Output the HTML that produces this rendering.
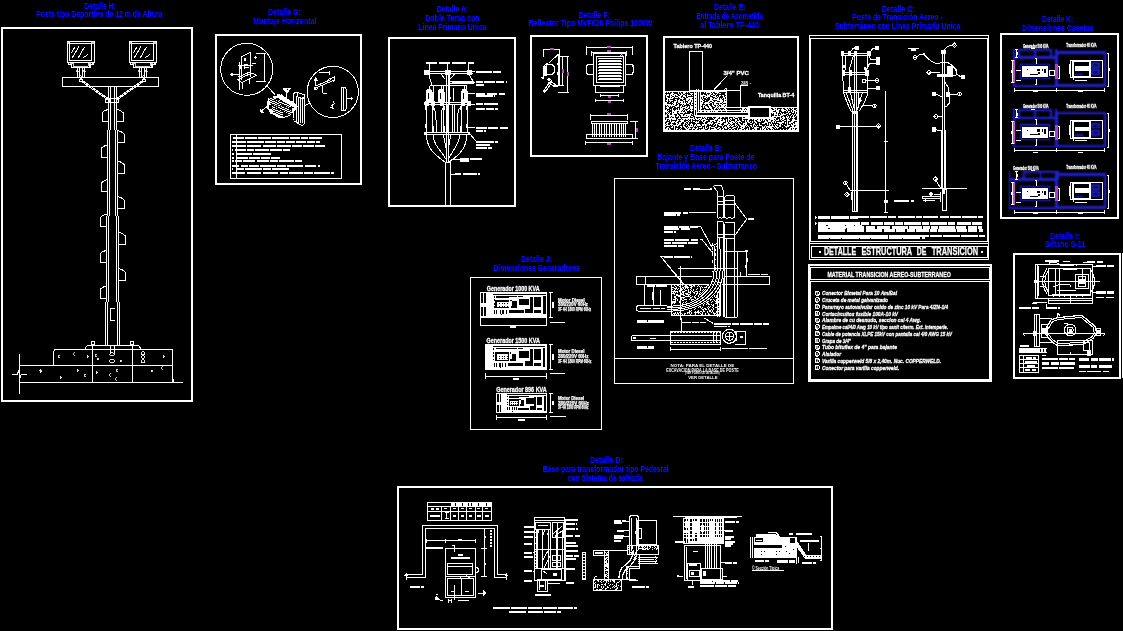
<!DOCTYPE html>
<html><head><meta charset="utf-8"><title>CAD Detalles</title>
<style>html,body{margin:0;padding:0;background:#000;width:1123px;height:631px;overflow:hidden}svg{display:block}text{font-family:"Liberation Sans",sans-serif}svg{will-change:transform}</style>
</head><body>
<svg width="1123" height="631" viewBox="0 0 1123 631" font-family="Liberation Sans, sans-serif" shape-rendering="crispEdges"><defs><filter id="tblur" x="-2%" y="-20%" width="104%" height="140%"><feGaussianBlur stdDeviation="0.35"/></filter></defs>
<rect x="67.5" y="41.5" width="27.0" height="21.0" stroke="#fff" stroke-width="1.3" fill="none" />
<rect x="69.5" y="43.5" width="22.0" height="17.0" stroke="#fff" stroke-width="1.1" fill="none" />
<circle cx="68.80000000000001" cy="43" r="1.0" stroke="#fff" stroke-width="0.8" fill="none"/>
<circle cx="92.60000000000001" cy="43" r="1.0" stroke="#fff" stroke-width="0.8" fill="none"/>
<line x1="70.9" y1="53.5" x2="74.9" y2="47" stroke="#fff" stroke-width="1" />
<line x1="71.9" y1="58.5" x2="78.9" y2="46.5" stroke="#fff" stroke-width="1" />
<line x1="77.9" y1="58.5" x2="84.4" y2="47" stroke="#fff" stroke-width="1" />
<line x1="82.9" y1="58" x2="87.9" y2="54.5" stroke="#fff" stroke-width="1" />
<path d="M68.4,62.5 L68.4,64.5 L71.4,64.5 L71.4,67.8 L90.0,67.8 L90.0,64.5 L93.0,64.5 L93.0,62.5" stroke="#fff" stroke-width="1.1" fill="none" />
<path d="M70.4,63.2 L73.4,63.2 L73.4,66.2 L88.0,66.2 L88.0,63.2 L91.0,63.2" stroke="#fff" stroke-width="0.8" fill="none" />
<line x1="77.5" y1="68" x2="77.5" y2="77" stroke="#fff" stroke-width="1" />
<line x1="79.5" y1="68" x2="79.5" y2="77" stroke="#fff" stroke-width="1" />
<line x1="82.5" y1="68" x2="82.5" y2="77" stroke="#fff" stroke-width="1" />
<line x1="84.5" y1="68" x2="84.5" y2="77" stroke="#fff" stroke-width="1" />
<path d="M75.9,72 L77.2,70 L78.4,72" stroke="#fff" stroke-width="0.8" fill="none" />
<path d="M82.9,72 L84.0,70 L85.4,72" stroke="#fff" stroke-width="0.8" fill="none" />
<rect x="129.5" y="41.5" width="27.0" height="21.0" stroke="#fff" stroke-width="1.3" fill="none" />
<rect x="131.5" y="43.5" width="22.0" height="17.0" stroke="#fff" stroke-width="1.1" fill="none" />
<circle cx="130.8" cy="43" r="1.0" stroke="#fff" stroke-width="0.8" fill="none"/>
<circle cx="154.6" cy="43" r="1.0" stroke="#fff" stroke-width="0.8" fill="none"/>
<line x1="132.9" y1="53.5" x2="136.9" y2="47" stroke="#fff" stroke-width="1" />
<line x1="133.9" y1="58.5" x2="140.9" y2="46.5" stroke="#fff" stroke-width="1" />
<line x1="139.9" y1="58.5" x2="146.4" y2="47" stroke="#fff" stroke-width="1" />
<line x1="144.9" y1="58" x2="149.9" y2="54.5" stroke="#fff" stroke-width="1" />
<path d="M130.4,62.5 L130.4,64.5 L133.4,64.5 L133.4,67.8 L152.0,67.8 L152.0,64.5 L155.0,64.5 L155.0,62.5" stroke="#fff" stroke-width="1.1" fill="none" />
<path d="M132.4,63.2 L135.4,63.2 L135.4,66.2 L150.0,66.2 L150.0,63.2 L153.0,63.2" stroke="#fff" stroke-width="0.8" fill="none" />
<line x1="139.5" y1="68" x2="139.5" y2="77" stroke="#fff" stroke-width="1" />
<line x1="141.5" y1="68" x2="141.5" y2="77" stroke="#fff" stroke-width="1" />
<line x1="144.5" y1="68" x2="144.5" y2="77" stroke="#fff" stroke-width="1" />
<line x1="146.5" y1="68" x2="146.5" y2="77" stroke="#fff" stroke-width="1" />
<path d="M137.9,72 L139.20000000000002,70 L140.4,72" stroke="#fff" stroke-width="0.8" fill="none" />
<path d="M144.9,72 L146.0,70 L147.4,72" stroke="#fff" stroke-width="0.8" fill="none" />
<rect x="62.5" y="77.5" width="96.0" height="9.0" stroke="#fff" stroke-width="1.3" fill="none" />
<line x1="80.6" y1="79.2" x2="107.5" y2="98" stroke="#fff" stroke-width="1" />
<line x1="144.4" y1="79.2" x2="117.5" y2="98" stroke="#fff" stroke-width="1" />
<line x1="80.6" y1="80.8" x2="107.5" y2="99.6" stroke="#fff" stroke-width="1" />
<line x1="144.4" y1="80.8" x2="117.5" y2="99.6" stroke="#fff" stroke-width="1" />
<circle cx="81" cy="80.2" r="1.6" stroke="#fff" stroke-width="1.0" fill="none"/>
<circle cx="144" cy="80.2" r="1.6" stroke="#fff" stroke-width="1.0" fill="none"/>
<circle cx="80.5" cy="76.4" r="1.2" stroke="#fff" stroke-width="0.9" fill="none"/>
<circle cx="143.5" cy="76.4" r="1.2" stroke="#fff" stroke-width="0.9" fill="none"/>
<rect x="105.5" y="98.5" width="13.0" height="4.0" stroke="#fff" stroke-width="1.1" fill="none" />
<line x1="109.5" y1="98" x2="109.5" y2="102.7" stroke="#fff" stroke-width="1" />
<line x1="114.5" y1="98" x2="114.5" y2="102.7" stroke="#fff" stroke-width="1" />
<line x1="108.5" y1="86.6" x2="108.5" y2="130" stroke="#fff" stroke-width="1.0" />
<line x1="110.5" y1="86.6" x2="110.5" y2="130" stroke="#fff" stroke-width="1.0" />
<line x1="114.5" y1="86.6" x2="114.5" y2="130" stroke="#fff" stroke-width="1.0" />
<line x1="116.5" y1="86.6" x2="116.5" y2="130" stroke="#fff" stroke-width="1.0" />
<line x1="107.5" y1="130" x2="107.5" y2="215.5" stroke="#fff" stroke-width="1.0" />
<line x1="109.5" y1="130" x2="109.5" y2="215.5" stroke="#fff" stroke-width="1.0" />
<line x1="115.5" y1="130" x2="115.5" y2="215.5" stroke="#fff" stroke-width="1.0" />
<line x1="117.5" y1="130" x2="117.5" y2="215.5" stroke="#fff" stroke-width="1.0" />
<line x1="106.5" y1="215.5" x2="106.5" y2="301.7" stroke="#fff" stroke-width="1.0" />
<line x1="108.5" y1="215.5" x2="108.5" y2="301.7" stroke="#fff" stroke-width="1.0" />
<line x1="116.5" y1="215.5" x2="116.5" y2="301.7" stroke="#fff" stroke-width="1.0" />
<line x1="118.5" y1="215.5" x2="118.5" y2="301.7" stroke="#fff" stroke-width="1.0" />
<line x1="105.5" y1="301.7" x2="105.5" y2="345.4" stroke="#fff" stroke-width="1.0" />
<line x1="107.5" y1="301.7" x2="107.5" y2="345.4" stroke="#fff" stroke-width="1.0" />
<line x1="117.5" y1="301.7" x2="117.5" y2="345.4" stroke="#fff" stroke-width="1.0" />
<line x1="119.5" y1="301.7" x2="119.5" y2="345.4" stroke="#fff" stroke-width="1.0" />
<path d="M108.5,109.2 L104.5,110.8 L102.0,112.8 L102.0,121.5 L108.5,121.5" stroke="#fff" stroke-width="1.0" fill="none" />
<path d="M107.5,144.8 L103.5,146.4 L101.0,148.4 L101.0,157.10000000000002 L107.5,157.10000000000002" stroke="#fff" stroke-width="1.0" fill="none" />
<path d="M107.5,179.5 L103.5,181.1 L101.0,183.1 L101.0,191.8 L107.5,191.8" stroke="#fff" stroke-width="1.0" fill="none" />
<path d="M106.5,214 L102.5,215.6 L100.0,217.6 L100.0,226.3 L106.5,226.3" stroke="#fff" stroke-width="1.0" fill="none" />
<path d="M106.5,250.2 L102.5,251.79999999999998 L100.0,253.79999999999998 L100.0,262.5 L106.5,262.5" stroke="#fff" stroke-width="1.0" fill="none" />
<path d="M106.5,285.8 L102.5,287.40000000000003 L100.0,289.40000000000003 L100.0,298.1 L106.5,298.1" stroke="#fff" stroke-width="1.0" fill="none" />
<path d="M116.5,109 L120.5,110.6 L123.0,112.6 L123.0,121.3 L116.5,121.3" stroke="#fff" stroke-width="1.0" fill="none" />
<path d="M117.5,130.4 L121.5,132.0 L124.0,134.0 L124.0,142.70000000000002 L117.5,142.70000000000002" stroke="#fff" stroke-width="1.0" fill="none" />
<path d="M117.5,160.8 L121.5,162.4 L124.0,164.4 L124.0,173.10000000000002 L117.5,173.10000000000002" stroke="#fff" stroke-width="1.0" fill="none" />
<path d="M117.5,196.3 L121.5,197.9 L124.0,199.9 L124.0,208.60000000000002 L117.5,208.60000000000002" stroke="#fff" stroke-width="1.0" fill="none" />
<path d="M118.5,232 L122.5,233.6 L125.0,235.6 L125.0,244.3 L118.5,244.3" stroke="#fff" stroke-width="1.0" fill="none" />
<path d="M118.5,268.3 L122.5,269.90000000000003 L125.0,271.90000000000003 L125.0,280.6 L118.5,280.6" stroke="#fff" stroke-width="1.0" fill="none" />
<path d="M114.8,308.5 L110.5,308.5 L110.5,320.5 L114.8,320.5" stroke="#fff" stroke-width="1.0" fill="none" />
<path d="M85.3,349.2 Q85.3,345.4 89,345.4 L136.6,345.4 Q140.3,345.4 140.3,349.2" stroke="#fff" stroke-width="1.0" fill="none" />
<path d="M53.6,365.4 L53.6,352.5 Q53.6,349.2 57,349.2 L172.9,349.2 L172.9,382.3" stroke="#fff" stroke-width="1.0" fill="none" />
<line x1="19.6" y1="365.5" x2="172.9" y2="365.5" stroke="#fff" stroke-width="1.0" />
<line x1="19.6" y1="382.5" x2="182.9" y2="382.5" stroke="#fff" stroke-width="1.0" />
<line x1="92.5" y1="345.8" x2="92.5" y2="382.3" stroke="#fff" stroke-width="1.1" />
<line x1="132.5" y1="345.8" x2="132.5" y2="382.3" stroke="#fff" stroke-width="1.1" />
<circle cx="92.9" cy="342.8" r="1.6" stroke="#fff" stroke-width="1.0" fill="none"/>
<line x1="90.7" y1="344.5" x2="95.10000000000001" y2="344.5" stroke="#fff" stroke-width="1" />
<circle cx="132" cy="342.8" r="1.6" stroke="#fff" stroke-width="1.0" fill="none"/>
<line x1="129.8" y1="344.5" x2="134.2" y2="344.5" stroke="#fff" stroke-width="1" />
<line x1="19.5" y1="354" x2="19.5" y2="393.7" stroke="#fff" stroke-width="1.0" />
<path d="M12,374 L17.5,374 L18.6,371 L20.4,377 L21.5,374 L27,374" stroke="#fff" stroke-width="1.0" fill="none" />
<path d="M58.5,355.2 L60.06,356.5 L58.5,357.8 Z" stroke="#fff" stroke-width="0.8" fill="none" />
<path d="M73.5,352.7 L75.06,354 L73.5,355.3 Z" stroke="#fff" stroke-width="0.8" fill="none" />
<path d="M87,355.2 L88.56,356.5 L87,357.8 Z" stroke="#fff" stroke-width="0.8" fill="none" />
<path d="M95.5,354.2 L97.06,355.5 L95.5,356.8 Z" stroke="#fff" stroke-width="0.8" fill="none" />
<path d="M40,370.2 L41.56,371.5 L40,372.8 Z" stroke="#fff" stroke-width="0.8" fill="none" />
<path d="M77,369.2 L78.56,370.5 L77,371.8 Z" stroke="#fff" stroke-width="0.8" fill="none" />
<path d="M60,376.2 L61.56,377.5 L60,378.8 Z" stroke="#fff" stroke-width="0.8" fill="none" />
<path d="M84.5,374.2 L86.06,375.5 L84.5,376.8 Z" stroke="#fff" stroke-width="0.8" fill="none" />
<path d="M109.5,373.7 L111.06,375 L109.5,376.3 Z" stroke="#fff" stroke-width="0.8" fill="none" />
<path d="M116.5,369.2 L118.06,370.5 L116.5,371.8 Z" stroke="#fff" stroke-width="0.8" fill="none" />
<path d="M115.5,377.7 L117.06,379 L115.5,380.3 Z" stroke="#fff" stroke-width="0.8" fill="none" />
<path d="M96,371.2 L97.56,372.5 L96,373.8 Z" stroke="#fff" stroke-width="0.8" fill="none" />
<path d="M120,359.7 L121.56,361 L120,362.3 Z" stroke="#fff" stroke-width="0.8" fill="none" />
<path d="M151,369.7 L152.56,371 L151,372.3 Z" stroke="#fff" stroke-width="0.8" fill="none" />
<path d="M161.5,366.7 L163.06,368 L161.5,369.3 Z" stroke="#fff" stroke-width="0.8" fill="none" />
<path d="M163,355.2 L164.56,356.5 L163,357.8 Z" stroke="#fff" stroke-width="0.8" fill="none" />
<path d="M97,357.7 L98.56,359 L97,360.3 Z" stroke="#fff" stroke-width="0.8" fill="none" />
<circle cx="40.5" cy="370.8" r="0.9" stroke="#fff" stroke-width="0.8" fill="none"/>
<line x1="110.5" y1="345.4" x2="110.5" y2="352.5" stroke="#fff" stroke-width="1" />
<line x1="114.5" y1="345.4" x2="114.5" y2="352.5" stroke="#fff" stroke-width="1" />
<ellipse cx="112.1" cy="354.3" rx="2.3" ry="1.6" stroke="#fff" stroke-width="0.9" fill="none"/>
<ellipse cx="112.1" cy="361.2" rx="2.6" ry="1.5" stroke="#fff" stroke-width="0.9" fill="none"/>
<circle cx="142.8" cy="353.3" r="1.7" stroke="#fff" stroke-width="0.9" fill="none"/>
<circle cx="142.8" cy="357.2" r="1.7" stroke="#fff" stroke-width="0.9" fill="none"/>
<circle cx="142.8" cy="361.3" r="1.7" stroke="#fff" stroke-width="0.9" fill="none"/>
<line x1="173.0" y1="379" x2="173.0" y2="383" stroke="#fff" stroke-width="1.6" />
<circle cx="246.7" cy="69.3" r="26" stroke="#fff" stroke-width="1.0" fill="none"/>
<circle cx="332.8" cy="91.9" r="25.6" stroke="#fff" stroke-width="1.0" fill="none"/>
<line x1="266.4" y1="85" x2="275" y2="94.8" stroke="#fff" stroke-width="1.0" />
<line x1="304.6" y1="105.7" x2="309.9" y2="102.8" stroke="#fff" stroke-width="1.0" />
<path d="M241.4,80 L241.4,56.8 L250.4,52.3 L250.4,77" stroke="#fff" stroke-width="1.0" fill="none" />
<line x1="239.5" y1="62" x2="239.5" y2="89.5" stroke="#fff" stroke-width="1.0" />
<line x1="237.6" y1="65.5" x2="252.7" y2="65.5" stroke="#fff" stroke-width="1.0" />
<line x1="244.5" y1="63.5" x2="244.5" y2="68.5" stroke="#fff" stroke-width="1.0" />
<path d="M244,64.5 L248,64.5 M244,67.3 L249,67.3" stroke="#fff" stroke-width="1.0" fill="none" />
<line x1="231.6" y1="74.5" x2="240" y2="74.5" stroke="#fff" stroke-width="1.0" />
<circle cx="231.8" cy="74.5" r="0.9" stroke="#fff" stroke-width="1.0" fill="#fff"/>
<path d="M237.6,79.5 L252,73 L256.4,75.5 L242,82.5 Z" stroke="#fff" stroke-width="1.0" fill="none" />
<path d="M238.6,77 L251,71.5" stroke="#fff" stroke-width="1.0" fill="none" />
<line x1="242.5" y1="82.5" x2="242.5" y2="89" stroke="#fff" stroke-width="1.0" />
<line x1="249.5" y1="79" x2="249.5" y2="83.5" stroke="#fff" stroke-width="1.0" />
<rect x="238.5" y="64.5" width="2.5" height="4.0" fill="#fff" />
<rect x="243.5" y="57.5" width="2.5" height="3.0" fill="#fff" />
<line x1="264.5" y1="53.8" x2="264.5" y2="81.7" stroke="#fff" stroke-width="1.0" />
<line x1="256.4" y1="53.5" x2="265.5" y2="53.5" stroke="#fff" stroke-width="1.0" />
<line x1="256.4" y1="81.5" x2="265.5" y2="81.5" stroke="#fff" stroke-width="1.0" />
<path d="M253.5,57.5 L257,57.5 M255,56 L255,59" stroke="#fff" stroke-width="1.0" fill="none" />
<line x1="252" y1="63.5" x2="256" y2="63.5" stroke="#fff" stroke-width="1.0" />
<path d="M314.4,88.5 L334,80.2 L334,77.2 L328,79.5" stroke="#fff" stroke-width="1.0" fill="none" />
<path d="M316,86 L331,79.5" stroke="#fff" stroke-width="1.0" fill="none" />
<path d="M314.4,86.5 L314.4,90 L318,88.5" stroke="#fff" stroke-width="1.0" fill="none" />
<line x1="315.5" y1="78" x2="315.5" y2="86.2" stroke="#fff" stroke-width="1.0" />
<path d="M314.4,80 L315.6,77.5 L316.8,80 Z" stroke="#fff" stroke-width="1.0" fill="none" />
<line x1="318.9" y1="72.5" x2="329.5" y2="72.5" stroke="#fff" stroke-width="1.0" />
<line x1="329.5" y1="70.5" x2="329.5" y2="75" stroke="#fff" stroke-width="1.0" />
<line x1="322.5" y1="86.2" x2="322.5" y2="93" stroke="#fff" stroke-width="1.0" />
<line x1="322.7" y1="93.5" x2="327.2" y2="93.5" stroke="#fff" stroke-width="1.0" />
<path d="M332.5,80.5 L334.5,82.5 M331,79 L333,77" stroke="#fff" stroke-width="1.0" fill="none" />
<path d="M341.5,89 Q341.5,87 343.75,87 Q346,87 346,89 L346,109 Q346,111 343.75,111 Q341.5,111 341.5,109 Z" stroke="#fff" stroke-width="1.0" fill="none" />
<line x1="343.5" y1="88" x2="343.5" y2="110" stroke="#fff" stroke-width="1.0" />
<line x1="346" y1="98.5" x2="352.8" y2="98.5" stroke="#fff" stroke-width="1.0" />
<path d="M351,97.3 L352.8,98.3 L351,99.3" stroke="#fff" stroke-width="1.0" fill="none" />
<path d="M333,101.5 L334.5,103.5 L332,105.5 L333,108 M330.5,107.5 L333.5,108.8" stroke="#fff" stroke-width="1.0" fill="none" />
<path d="M293.5,120.7 L293.5,94 Q295,91.8 297,92.1 L304.6,95 L304.6,123.5 L302.1,125.7 L293.5,120.7" stroke="#fff" stroke-width="1.0" fill="none" />
<line x1="296.5" y1="97" x2="296.5" y2="122.5" stroke="#fff" stroke-width="1.0" />
<line x1="298.5" y1="97" x2="298.5" y2="122.5" stroke="#fff" stroke-width="1.0" />
<line x1="300.5" y1="97" x2="300.5" y2="122.5" stroke="#fff" stroke-width="1.0" />
<line x1="302.5" y1="97" x2="302.5" y2="122.5" stroke="#fff" stroke-width="1.0" />
<line x1="297.5" y1="92.3" x2="297.5" y2="96" stroke="#fff" stroke-width="1.0" />
<path d="M296,96 L302.5,99 L304.6,97" stroke="#fff" stroke-width="1.0" fill="none" />
<path d="M273.2,97.1 L281.4,95 L297.8,106.4 L289.2,116.4 L272.1,112.1 Z" stroke="#fff" stroke-width="1.0" fill="none" />
<line x1="281.4" y1="97.5" x2="296.5" y2="108" stroke="#fff" stroke-width="1.0" />
<line x1="274" y1="101.5" x2="290" y2="112" stroke="#fff" stroke-width="1.0" />
<line x1="276" y1="105" x2="286" y2="111.5" stroke="#fff" stroke-width="1.0" />
<line x1="272" y1="107.5" x2="283" y2="114.5" stroke="#fff" stroke-width="1.0" />
<rect x="266.5" y="102" width="3.5" height="4.5" fill="#fff" />
<rect x="268" y="97.5" width="4" height="4.0" fill="#fff" />
<rect x="270" y="111" width="3" height="3" fill="#fff" />
<rect x="281" y="114.5" width="3.5" height="3.5" fill="#fff" />
<rect x="277" y="93.5" width="3" height="3.0" fill="#fff" />
<rect x="286" y="112.5" width="3" height="3.0" fill="#fff" />
<rect x="289" y="106" width="3" height="3" fill="#fff" />
<rect x="283" y="104" width="4" height="4.5" fill="#fff" />
<path d="M279,102 L283,99.5 M280,104 L285,101.5 M282,106 L287,103.5" stroke="#fff" stroke-width="1.0" fill="none" />
<path d="M283.5,89 L290,88.6 L287.5,92.8 Z" stroke="#fff" stroke-width="1.0" fill="#fff" />
<circle cx="287.5" cy="89.3" r="0.9" stroke="#fff" stroke-width="0.8" fill="#000"/>
<line x1="286.5" y1="92.8" x2="286.5" y2="98" stroke="#fff" stroke-width="1.0" />
<line x1="261.4" y1="110.7" x2="267.5" y2="106.4" stroke="#fff" stroke-width="1.0" />
<path d="M260.5,109.5 L262.5,112 L261,112 Z" stroke="#fff" stroke-width="1.0" fill="#fff" />
<rect x="230.5" y="134.5" width="111.0" height="44.0" stroke="#fff" stroke-width="1.0" fill="none" />
<line x1="236.5" y1="134.3" x2="236.5" y2="178.6" stroke="#fff" stroke-width="1.0" />
<rect x="233" y="137" width="11" height="2" fill="#fff" />
<rect x="245" y="137" width="12" height="2" fill="#fff" />
<rect x="258" y="137" width="13" height="2" fill="#fff" />
<rect x="272" y="137" width="17" height="2" fill="#fff" />
<rect x="290" y="137" width="10" height="2" fill="#fff" />
<rect x="301" y="137" width="7" height="2" fill="#fff" />
<rect x="309" y="137" width="13" height="2" fill="#fff" />
<rect x="232" y="141" width="14" height="2" fill="#fff" />
<rect x="247" y="141" width="17" height="2" fill="#fff" />
<rect x="265" y="141" width="11" height="2" fill="#fff" />
<rect x="277" y="141" width="8" height="2" fill="#fff" />
<rect x="286" y="141" width="9" height="2" fill="#fff" />
<rect x="296" y="141" width="10" height="2" fill="#fff" />
<rect x="307" y="141" width="8" height="2" fill="#fff" />
<rect x="316" y="141" width="4" height="2" fill="#fff" />
<rect x="232" y="145" width="14" height="2" fill="#fff" />
<rect x="247" y="145" width="14" height="2" fill="#fff" />
<rect x="263" y="145" width="13" height="2" fill="#fff" />
<rect x="277" y="145" width="14" height="2" fill="#fff" />
<rect x="292" y="145" width="10" height="2" fill="#fff" />
<rect x="303" y="145" width="11" height="2" fill="#fff" />
<rect x="315" y="145" width="10" height="2" fill="#fff" />
<rect x="235" y="149" width="11" height="2" fill="#fff" />
<rect x="247" y="149" width="7" height="2" fill="#fff" />
<rect x="255" y="149" width="14" height="2" fill="#fff" />
<rect x="270" y="149" width="12" height="2" fill="#fff" />
<rect x="283" y="149" width="7" height="2" fill="#fff" />
<rect x="237" y="153" width="15" height="2" fill="#fff" />
<rect x="253" y="153" width="18" height="2" fill="#fff" />
<rect x="237" y="157" width="11" height="2" fill="#fff" />
<rect x="249" y="157" width="11" height="2" fill="#fff" />
<rect x="261" y="157" width="9" height="2" fill="#fff" />
<rect x="271" y="157" width="9" height="2" fill="#fff" />
<rect x="235" y="160" width="7" height="2" fill="#fff" />
<rect x="243" y="160" width="12" height="2" fill="#fff" />
<rect x="257" y="160" width="12" height="2" fill="#fff" />
<rect x="270" y="160" width="8" height="2" fill="#fff" />
<rect x="279" y="160" width="15" height="2" fill="#fff" />
<rect x="295" y="160" width="7" height="2" fill="#fff" />
<rect x="232" y="165" width="7" height="2" fill="#fff" />
<rect x="241" y="165" width="7" height="2" fill="#fff" />
<rect x="249" y="165" width="10" height="2" fill="#fff" />
<rect x="260" y="165" width="16" height="2" fill="#fff" />
<rect x="277" y="165" width="9" height="2" fill="#fff" />
<rect x="287" y="165" width="16" height="2" fill="#fff" />
<rect x="305" y="165" width="11" height="2" fill="#fff" />
<rect x="318" y="165" width="2" height="2" fill="#fff" />
<rect x="237" y="168" width="7" height="2" fill="#fff" />
<rect x="245" y="168" width="17" height="2" fill="#fff" />
<rect x="263" y="168" width="8" height="2" fill="#fff" />
<rect x="272" y="168" width="17" height="2" fill="#fff" />
<rect x="290" y="168" width="0" height="2" fill="#fff" />
<rect x="232" y="172" width="13" height="2" fill="#fff" />
<rect x="247" y="172" width="14" height="2" fill="#fff" />
<rect x="263" y="172" width="15" height="2" fill="#fff" />
<rect x="280" y="172" width="8" height="2" fill="#fff" />
<rect x="289" y="172" width="14" height="2" fill="#fff" />
<rect x="304" y="172" width="9" height="2" fill="#fff" />
<rect x="314" y="172" width="16" height="2" fill="#fff" />
<rect x="331" y="172" width="3" height="2" fill="#fff" />
<line x1="232.5" y1="148.8" x2="232.5" y2="150.8" stroke="#fff" stroke-width="1.0" />
<line x1="232.5" y1="168.4" x2="232.5" y2="170.4" stroke="#fff" stroke-width="1.0" />
<rect x="232" y="152.6" width="2" height="2.0" fill="#fff" />
<rect x="232" y="156.5" width="2" height="2.0" fill="#fff" />
<rect x="232" y="160.4" width="2" height="2.0" fill="#fff" />
<path d="M268,101 L276,96.5 L281.5,95.5 L296,105.5 L292,112 L287,117.5 L280,118 L272,113.5 L267,108 Z" stroke="#fff" stroke-width="1.0" fill="#fff" />
<line x1="274" y1="100" x2="292" y2="110.5" stroke="#000" stroke-width="1"/>
<line x1="271.5" y1="104.5" x2="288.5" y2="114.5" stroke="#000" stroke-width="1"/>
<line x1="277" y1="98.5" x2="294" y2="108" stroke="#000" stroke-width="1"/>
<rect x="275" y="108" width="1.2" height="1.2" fill="#000" />
<rect x="278" y="108.5" width="1.2" height="1.2" fill="#000" />
<rect x="281" y="109" width="1.2" height="1.2" fill="#000" />
<rect x="277" y="105" width="1.2" height="1.2" fill="#000" />
<rect x="280" y="105.5" width="1.2" height="1.2" fill="#000" />
<rect x="283" y="106" width="1.2" height="1.2" fill="#000" />
<rect x="285" y="111" width="1.2" height="1.2" fill="#000" />
<rect x="288" y="112" width="1.2" height="1.2" fill="#000" />
<line x1="293.5" y1="100" x2="286" y2="114" stroke="#fff" stroke-width="1.0" />
<line x1="268.02" y1="96.4" x2="290.02" y2="105.4" stroke="#000" stroke-width="0.9"/>
<line x1="268.68" y1="98.6" x2="290.68" y2="107.6" stroke="#000" stroke-width="0.9"/>
<line x1="269.34" y1="100.8" x2="291.34" y2="109.8" stroke="#000" stroke-width="0.9"/>
<line x1="270.0" y1="103.0" x2="292.0" y2="112.0" stroke="#000" stroke-width="0.9"/>
<line x1="270.66" y1="105.2" x2="292.66" y2="114.2" stroke="#000" stroke-width="0.9"/>
<line x1="271.32" y1="107.4" x2="293.32" y2="116.4" stroke="#000" stroke-width="0.9"/>
<line x1="271.98" y1="109.6" x2="293.98" y2="118.6" stroke="#000" stroke-width="0.9"/>
<line x1="272.64" y1="111.8" x2="294.64" y2="120.8" stroke="#000" stroke-width="0.9"/>
<rect x="269" y="105" width="3" height="4" fill="#000" />
<rect x="283" y="113" width="4" height="3" fill="#000" />
<rect x="289" y="107" width="3" height="3" fill="#000" />
<rect x="276" y="97.5" width="3" height="2.0" fill="#000" />
<rect x="426" y="62" width="11" height="2" fill="#fff" />
<rect x="439" y="62" width="11" height="2" fill="#fff" />
<rect x="452" y="62" width="14" height="2" fill="#fff" />
<rect x="468" y="62" width="6" height="2" fill="#fff" />
<line x1="429.5" y1="64" x2="429.5" y2="71" stroke="#fff" stroke-width="1.0" />
<line x1="447.5" y1="64" x2="447.5" y2="71" stroke="#fff" stroke-width="1.0" />
<line x1="468.5" y1="64" x2="468.5" y2="71" stroke="#fff" stroke-width="1.0" />
<line x1="424.3" y1="71.5" x2="472.7" y2="71.5" stroke="#fff" stroke-width="1.0" />
<line x1="424.3" y1="73.5" x2="472.7" y2="73.5" stroke="#fff" stroke-width="1.0" />
<rect x="424.3" y="70.4" width="5.6" height="4.4" fill="#fff" />
<rect x="445.3" y="70.4" width="5.2" height="4.4" fill="#fff" />
<rect x="466.7" y="70.4" width="5.6" height="4.4" fill="#fff" />
<line x1="441" y1="74" x2="445.3" y2="79.6" stroke="#fff" stroke-width="1.0" />
<line x1="454.5" y1="74" x2="449.7" y2="79.6" stroke="#fff" stroke-width="1.0" />
<line x1="446.5" y1="74" x2="446.5" y2="162" stroke="#fff" stroke-width="1.0" />
<line x1="448.5" y1="74" x2="448.5" y2="162" stroke="#fff" stroke-width="1.0" />
<line x1="449.5" y1="74" x2="449.5" y2="104" stroke="#fff" stroke-width="1.0" />
<line x1="428.7" y1="74" x2="431.9" y2="85.5" stroke="#fff" stroke-width="1.0" />
<line x1="468.7" y1="74" x2="473.5" y2="82" stroke="#fff" stroke-width="1.0" />
<line x1="430.3" y1="85.5" x2="467.1" y2="85.5" stroke="#fff" stroke-width="1.0" />
<line x1="449.7" y1="81.5" x2="473.5" y2="81.5" stroke="#fff" stroke-width="1.0" />
<line x1="449.7" y1="83.5" x2="473.5" y2="83.5" stroke="#fff" stroke-width="1.0" />
<path d="M426.5,101 L426.5,92.5 Q426.5,89.5 429.3,89.5 Q432.1,89.5 432.1,92.5 L432.1,101 Z" stroke="#fff" stroke-width="1.0" fill="#fff" />
<rect x="428.0" y="93" width="1.0" height="6" fill="#000" />
<line x1="429.5" y1="86" x2="429.5" y2="89.5" stroke="#fff" stroke-width="1.0" />
<path d="M438.5,101 L438.5,92.5 Q438.5,89.5 441.3,89.5 Q444.1,89.5 444.1,92.5 L444.1,101 Z" stroke="#fff" stroke-width="1.0" fill="#fff" />
<rect x="440.0" y="93" width="1.0" height="6" fill="#000" />
<line x1="441.5" y1="86" x2="441.5" y2="89.5" stroke="#fff" stroke-width="1.0" />
<path d="M461.6,101 L461.6,92.5 Q461.6,89.5 464.40000000000003,89.5 Q467.20000000000005,89.5 467.20000000000005,92.5 L467.20000000000005,101 Z" stroke="#fff" stroke-width="1.0" fill="#fff" />
<rect x="463.1" y="93" width="1.0" height="6" fill="#000" />
<line x1="464.5" y1="86" x2="464.5" y2="89.5" stroke="#fff" stroke-width="1.0" />
<line x1="433.5" y1="86" x2="433.5" y2="101" stroke="#fff" stroke-width="1.0" />
<line x1="443.5" y1="86" x2="443.5" y2="101" stroke="#fff" stroke-width="1.0" />
<line x1="466.5" y1="86" x2="466.5" y2="101" stroke="#fff" stroke-width="1.0" />
<line x1="453.5" y1="88" x2="453.5" y2="101" stroke="#fff" stroke-width="1.0" />
<rect x="449" y="97" width="2" height="2" fill="#fff" />
<line x1="424.3" y1="102.5" x2="470.7" y2="102.5" stroke="#fff" stroke-width="1.0" />
<line x1="424.3" y1="104.5" x2="470.7" y2="104.5" stroke="#fff" stroke-width="1.0" />
<line x1="424.5" y1="102" x2="424.5" y2="104.2" stroke="#fff" stroke-width="1.0" />
<line x1="470.5" y1="102" x2="470.5" y2="104.2" stroke="#fff" stroke-width="1.0" />
<rect x="425" y="100.5" width="3.5" height="5.5" fill="#fff" />
<rect x="431" y="100.5" width="3.5" height="5.5" fill="#fff" />
<rect x="440" y="100.5" width="3.5" height="5.5" fill="#fff" />
<rect x="461" y="100.5" width="3.5" height="5.5" fill="#fff" />
<rect x="467" y="100.5" width="3.5" height="5.5" fill="#fff" />
<line x1="426.5" y1="105" x2="426.5" y2="133" stroke="#fff" stroke-width="1.0" />
<line x1="432.5" y1="105" x2="432.5" y2="133" stroke="#fff" stroke-width="1.0" />
<line x1="443.5" y1="105" x2="443.5" y2="133" stroke="#fff" stroke-width="1.0" />
<line x1="447.5" y1="105" x2="447.5" y2="133" stroke="#fff" stroke-width="1.0" />
<line x1="452.5" y1="105" x2="452.5" y2="133" stroke="#fff" stroke-width="1.0" />
<line x1="454.5" y1="105" x2="454.5" y2="133" stroke="#fff" stroke-width="1.0" />
<line x1="461.5" y1="105" x2="461.5" y2="133" stroke="#fff" stroke-width="1.0" />
<line x1="467.5" y1="105" x2="467.5" y2="133" stroke="#fff" stroke-width="1.0" />
<rect x="425" y="106" width="2.4" height="3.5" fill="#fff" />
<rect x="431.5" y="106" width="2.4" height="3.5" fill="#fff" />
<rect x="442.5" y="106" width="2.4" height="3.5" fill="#fff" />
<rect x="460" y="106" width="2.4" height="3.5" fill="#fff" />
<rect x="466" y="106" width="2.4" height="3.5" fill="#fff" />
<rect x="425.2" y="124" width="2.0" height="4" fill="#fff" />
<rect x="466.2" y="124" width="2.0" height="4" fill="#fff" />
<rect x="431.5" y="126" width="2.4" height="6" fill="#fff" />
<rect x="442.5" y="126" width="2.4" height="6" fill="#fff" />
<rect x="460" y="126" width="2.4" height="6" fill="#fff" />
<path d="M433,107 Q436,110 436,120 L436,133" stroke="#fff" stroke-width="1.0" fill="none" />
<path d="M443.5,107 Q441,110 441,120 L441,133" stroke="#fff" stroke-width="1.0" fill="none" />
<path d="M460.5,107 Q457.5,110 457.5,120 L457.5,133" stroke="#fff" stroke-width="1.0" fill="none" />
<line x1="424.3" y1="132.5" x2="469.9" y2="132.5" stroke="#fff" stroke-width="1.0" />
<line x1="424.3" y1="134.5" x2="469.9" y2="134.5" stroke="#fff" stroke-width="1.0" />
<rect x="424.3" y="131.5" width="2.7" height="3.5" fill="#fff" />
<rect x="467.5" y="131.5" width="2.5" height="3.5" fill="#fff" />
<path d="M426.4,134 C426.5,150 437,156 445.5,162.5" stroke="#fff" stroke-width="1.0" fill="none" />
<path d="M433.1,134 C433.5,146 441,150 445.8,159" stroke="#fff" stroke-width="1.0" fill="none" />
<path d="M443.5,134 C443.5,140 446,144 446.2,150" stroke="#fff" stroke-width="1.0" fill="none" />
<path d="M450.6,134 C450.6,140 448.5,144 448.3,150" stroke="#fff" stroke-width="1.0" fill="none" />
<path d="M459.9,134 C459.5,146 452,150 448.7,159" stroke="#fff" stroke-width="1.0" fill="none" />
<path d="M467,134 C466.8,150 457,156 449,162.5" stroke="#fff" stroke-width="1.0" fill="none" />
<line x1="445.5" y1="162" x2="445.5" y2="206" stroke="#fff" stroke-width="1.0" />
<line x1="450.5" y1="162" x2="450.5" y2="206" stroke="#fff" stroke-width="1.0" />
<rect x="445.5" y="161.5" width="4.7" height="1.5" fill="#fff" />
<line x1="472.7" y1="71.5" x2="475.1" y2="71.5" stroke="#fff" stroke-width="1.0" />
<rect x="476" y="71" width="16" height="2" fill="#fff" />
<rect x="493" y="71" width="8" height="2" fill="#fff" />
<line x1="452" y1="82.5" x2="475.1" y2="82.5" stroke="#fff" stroke-width="1.0" />
<rect x="476" y="81" width="7" height="2" fill="#fff" />
<rect x="484" y="81" width="11" height="2" fill="#fff" />
<rect x="496" y="81" width="8" height="2" fill="#fff" />
<rect x="506" y="81" width="1" height="2" fill="#fff" />
<rect x="476" y="84" width="8" height="2" fill="#fff" />
<line x1="468" y1="93.5" x2="475.1" y2="93.5" stroke="#fff" stroke-width="1.0" />
<rect x="476" y="93" width="9" height="2" fill="#fff" />
<rect x="487" y="93" width="10" height="2" fill="#fff" />
<rect x="499" y="93" width="6" height="2" fill="#fff" />
<rect x="476" y="95" width="17" height="2" fill="#fff" />
<rect x="494" y="95" width="1" height="2" fill="#fff" />
<line x1="471" y1="104.5" x2="475.1" y2="104.5" stroke="#fff" stroke-width="1.0" />
<rect x="476" y="103" width="7" height="2" fill="#fff" />
<rect x="484" y="103" width="14" height="2" fill="#fff" />
<rect x="476" y="108" width="9" height="2" fill="#fff" />
<rect x="486" y="108" width="8" height="2" fill="#fff" />
<rect x="495" y="108" width="3" height="2" fill="#fff" />
<line x1="468" y1="127.5" x2="475.1" y2="127.5" stroke="#fff" stroke-width="1.0" />
<rect x="476" y="127" width="11" height="2" fill="#fff" />
<rect x="488" y="127" width="10" height="2" fill="#fff" />
<rect x="500" y="127" width="8" height="2" fill="#fff" />
<rect x="476" y="130" width="7" height="2" fill="#fff" />
<rect x="484" y="130" width="2" height="2" fill="#fff" />
<line x1="469.9" y1="134" x2="476.3" y2="141.4" stroke="#fff" stroke-width="1.0" />
<rect x="476" y="141" width="18" height="2" fill="#fff" />
<rect x="495" y="141" width="3" height="2" fill="#fff" />
<rect x="476" y="147" width="11" height="2" fill="#fff" />
<rect x="488" y="147" width="4" height="2" fill="#fff" />
<rect x="476" y="144" width="14" height="2" fill="#fff" />
<line x1="452" y1="159.5" x2="459.5" y2="159.5" stroke="#fff" stroke-width="1.0" />
<line x1="449" y1="163" x2="452" y2="159.2" stroke="#fff" stroke-width="1.0" />
<rect x="460" y="158" width="9" height="2" fill="#fff" />
<rect x="470" y="158" width="12" height="2" fill="#fff" />
<rect x="460" y="160" width="9" height="2" fill="#fff" />
<line x1="450" y1="174.5" x2="455" y2="174.5" stroke="#fff" stroke-width="1.0" />
<rect x="455" y="173" width="6" height="2" fill="#fff" />
<rect x="463" y="173" width="14" height="2" fill="#fff" />
<rect x="478" y="173" width="2" height="2" fill="#fff" />
<line x1="543.5" y1="49.5" x2="559.8" y2="49.5" stroke="#fff" stroke-width="1.0" />
<line x1="543.5" y1="48.9" x2="543.5" y2="57.2" stroke="#fff" stroke-width="1.0" />
<line x1="559.5" y1="48.9" x2="559.5" y2="57.2" stroke="#fff" stroke-width="1.0" />
<rect x="549.9" y="47.6" width="3.7" height="2.0" fill="#b848b8" />
<line x1="558.5" y1="54.3" x2="558.5" y2="86.4" stroke="#fff" stroke-width="1.0" />
<line x1="559.5" y1="54.3" x2="559.5" y2="86.4" stroke="#fff" stroke-width="1.0" />
<path d="M558,54.3 L549.5,62.5 M548,63.5 C544,64 543.8,66 543.8,70 L543.8,77 L541.6,77.8 L544.5,78.5" stroke="#fff" stroke-width="1.2" fill="none" />
<path d="M546.5,64.5 L546.5,74.5 L551,74.5 Q554.8,74 554.8,69.5 Q554.8,65 551,64.5 Z" stroke="#fff" stroke-width="1.2" fill="none" />
<rect x="544" y="66" width="2.5" height="10" fill="#fff" />
<path d="M547.4,79.4 L556.5,85.2 L558,85.2 M548,82 L553.5,86 L558,86" stroke="#fff" stroke-width="1.1" fill="none" />
<path d="M543.3,91.8 L548.5,83.5 M545,92 L550.5,84.5 M543.3,91.8 L545,92" stroke="#fff" stroke-width="1.2" fill="none" />
<path d="M548,78 L551.5,80.5 L550,83" stroke="#fff" stroke-width="1.0" fill="none" />
<rect x="556.5" y="63" width="1.5" height="2" fill="#fff" />
<rect x="556.5" y="72" width="1.5" height="2.5" fill="#fff" />
<line x1="562.5" y1="55.5" x2="562.5" y2="86" stroke="#fff" stroke-width="1.0" />
<line x1="567.5" y1="55.5" x2="567.5" y2="92.2" stroke="#fff" stroke-width="1.0" />
<line x1="559.8" y1="56.5" x2="568.8" y2="56.5" stroke="#fff" stroke-width="1.0" />
<line x1="559.8" y1="85.5" x2="563.9" y2="85.5" stroke="#fff" stroke-width="1.0" />
<line x1="558.1" y1="92.5" x2="568.8" y2="92.5" stroke="#fff" stroke-width="1.0" />
<rect x="561.6" y="68.7" width="2.0" height="4.1" fill="#b848b8" />
<rect x="566.6" y="71.6" width="2.4" height="4.1" fill="#b848b8" />
<line x1="586.1" y1="47.5" x2="632.6" y2="47.5" stroke="#fff" stroke-width="1.0" />
<line x1="586.5" y1="46" x2="586.5" y2="54.8" stroke="#fff" stroke-width="1.0" />
<line x1="632.5" y1="46" x2="632.5" y2="54.8" stroke="#fff" stroke-width="1.0" />
<line x1="591.6" y1="52.5" x2="626.8" y2="52.5" stroke="#fff" stroke-width="1.0" />
<line x1="591.5" y1="50.5" x2="591.5" y2="56" stroke="#fff" stroke-width="1.0" />
<line x1="626.5" y1="50.5" x2="626.5" y2="56" stroke="#fff" stroke-width="1.0" />
<rect x="607.2" y="46.2" width="3.4" height="2.2" fill="#b848b8" />
<rect x="607.2" y="50.2" width="3.4" height="2.2" fill="#b848b8" />
<rect x="593.5" y="53.5" width="32.0" height="32.0" stroke="#fff" stroke-width="1.4" fill="none" />
<rect x="596.5" y="56.5" width="27.0" height="26.0" stroke="#fff" stroke-width="1.0" fill="none" />
<line x1="597.5" y1="58.5" x2="622" y2="58.5" stroke="#fff" stroke-width="1.0" />
<line x1="597.5" y1="61.5" x2="622" y2="61.5" stroke="#fff" stroke-width="1.0" />
<line x1="597.5" y1="64.5" x2="622" y2="64.5" stroke="#fff" stroke-width="1.0" />
<line x1="597.5" y1="67.5" x2="622" y2="67.5" stroke="#fff" stroke-width="1.0" />
<line x1="597.5" y1="70.5" x2="622" y2="70.5" stroke="#fff" stroke-width="1.0" />
<line x1="597.5" y1="73.5" x2="622" y2="73.5" stroke="#fff" stroke-width="1.0" />
<line x1="597.5" y1="76.5" x2="622" y2="76.5" stroke="#fff" stroke-width="1.0" />
<line x1="597.5" y1="79.5" x2="622" y2="79.5" stroke="#fff" stroke-width="1.0" />
<line x1="599" y1="60.5" x2="621" y2="60.5" stroke="#fff" stroke-width="1.0" />
<line x1="599" y1="63.5" x2="621" y2="63.5" stroke="#fff" stroke-width="1.0" />
<line x1="599" y1="66.5" x2="621" y2="66.5" stroke="#fff" stroke-width="1.0" />
<line x1="599" y1="69.5" x2="621" y2="69.5" stroke="#fff" stroke-width="1.0" />
<line x1="599" y1="72.5" x2="621" y2="72.5" stroke="#fff" stroke-width="1.0" />
<line x1="599" y1="75.5" x2="621" y2="75.5" stroke="#fff" stroke-width="1.0" />
<line x1="599" y1="78.5" x2="621" y2="78.5" stroke="#fff" stroke-width="1.0" />
<path d="M593.9,64.2 L590,64.2 Q586.3,64.2 586.3,67 L586.3,72 Q586.3,74.7 590,74.7 L593.9,74.7" stroke="#fff" stroke-width="1.2" fill="none" />
<path d="M625.6,64.2 L629.5,64.2 Q633.2,64.2 633.2,67 L633.2,72 Q633.2,74.7 629.5,74.7 L625.6,74.7" stroke="#fff" stroke-width="1.2" fill="none" />
<rect x="595.5" y="85.5" width="28.0" height="7.0" stroke="#fff" stroke-width="1.2" fill="none" />
<line x1="600" y1="86.5" x2="620" y2="86.5" stroke="#fff" stroke-width="1.0" />
<line x1="600.4" y1="95.5" x2="618" y2="95.5" stroke="#fff" stroke-width="1.0" />
<line x1="600.5" y1="93.5" x2="600.5" y2="97" stroke="#fff" stroke-width="1.0" />
<line x1="618.5" y1="93.5" x2="618.5" y2="97" stroke="#fff" stroke-width="1.0" />
<line x1="595.7" y1="100.5" x2="623.3" y2="100.5" stroke="#fff" stroke-width="1.0" />
<line x1="595.5" y1="98.5" x2="595.5" y2="102" stroke="#fff" stroke-width="1.0" />
<line x1="623.5" y1="98.5" x2="623.5" y2="102" stroke="#fff" stroke-width="1.0" />
<rect x="607.8" y="95.8" width="3.4" height="2.2" fill="#b848b8" />
<rect x="607.8" y="100.8" width="3.4" height="2.2" fill="#b848b8" />
<circle cx="621.5" cy="55.6" r="1" stroke="#fff" stroke-width="0.9" fill="none"/>
<line x1="590.9" y1="115.5" x2="627.6" y2="115.5" stroke="#fff" stroke-width="1.0" />
<line x1="590.5" y1="114.3" x2="590.5" y2="120" stroke="#fff" stroke-width="1.0" />
<line x1="627.5" y1="114.3" x2="627.5" y2="120" stroke="#fff" stroke-width="1.0" />
<rect x="607.2" y="113" width="3.4" height="2" fill="#b848b8" />
<rect x="591.5" y="121.5" width="36.0" height="2.0" stroke="#fff" stroke-width="1.0" fill="none" />
<line x1="592.5" y1="123.3" x2="592.5" y2="137" stroke="#fff" stroke-width="1.0" />
<line x1="594.5" y1="123.3" x2="594.5" y2="137" stroke="#fff" stroke-width="1.0" />
<line x1="596.5" y1="123.3" x2="596.5" y2="137" stroke="#fff" stroke-width="1.0" />
<line x1="599.5" y1="123.3" x2="599.5" y2="137" stroke="#fff" stroke-width="1.0" />
<line x1="601.5" y1="123.3" x2="601.5" y2="137" stroke="#fff" stroke-width="1.0" />
<line x1="604.5" y1="123.3" x2="604.5" y2="137" stroke="#fff" stroke-width="1.0" />
<line x1="606.5" y1="123.3" x2="606.5" y2="137" stroke="#fff" stroke-width="1.0" />
<line x1="609.5" y1="123.3" x2="609.5" y2="137" stroke="#fff" stroke-width="1.0" />
<line x1="611.5" y1="123.3" x2="611.5" y2="137" stroke="#fff" stroke-width="1.0" />
<line x1="614.5" y1="123.3" x2="614.5" y2="137" stroke="#fff" stroke-width="1.0" />
<line x1="616.5" y1="123.3" x2="616.5" y2="137" stroke="#fff" stroke-width="1.0" />
<line x1="619.5" y1="123.3" x2="619.5" y2="137" stroke="#fff" stroke-width="1.0" />
<line x1="621.5" y1="123.3" x2="621.5" y2="137" stroke="#fff" stroke-width="1.0" />
<line x1="623.5" y1="123.3" x2="623.5" y2="137" stroke="#fff" stroke-width="1.0" />
<line x1="625.5" y1="123.3" x2="625.5" y2="137" stroke="#fff" stroke-width="1.0" />
<rect x="586.5" y="134.5" width="46.0" height="4.0" stroke="#fff" stroke-width="1.2" fill="none" />
<line x1="585.7" y1="142.5" x2="632.8" y2="142.5" stroke="#fff" stroke-width="1.0" />
<line x1="585.5" y1="141" x2="585.5" y2="144.5" stroke="#fff" stroke-width="1.0" />
<line x1="632.5" y1="141" x2="632.5" y2="144.5" stroke="#fff" stroke-width="1.0" />
<rect x="607.2" y="143.4" width="3.4" height="2.0" fill="#b848b8" />
<line x1="635.5" y1="121.4" x2="635.5" y2="138.5" stroke="#fff" stroke-width="1.0" />
<line x1="630" y1="121.5" x2="638" y2="121.5" stroke="#fff" stroke-width="1.0" />
<line x1="630" y1="138.5" x2="638" y2="138.5" stroke="#fff" stroke-width="1.0" />
<rect x="636" y="128.3" width="2.4" height="3.4" fill="#b848b8" />
<path d="M665,92h1v1h-1zM667,92h1v1h-1zM669,92h1v1h-1zM672,92h1v1h-1zM678,92h1v1h-1zM680,92h1v1h-1zM683,92h3v1h-3zM687,92h1v1h-1zM689,92h1v1h-1zM704,92h1v1h-1zM706,92h5v1h-5zM712,92h1v1h-1zM715,92h4v1h-4zM671,93h3v1h-3zM678,93h1v1h-1zM681,93h1v1h-1zM683,93h2v1h-2zM690,93h3v1h-3zM706,93h1v1h-1zM710,93h2v1h-2zM713,93h1v1h-1zM717,93h1v1h-1zM719,93h2v1h-2zM725,93h1v1h-1zM665,94h1v1h-1zM667,94h2v1h-2zM670,94h3v1h-3zM674,94h3v1h-3zM679,94h1v1h-1zM681,94h2v1h-2zM685,94h1v1h-1zM687,94h1v1h-1zM691,94h1v1h-1zM703,94h1v1h-1zM707,94h1v1h-1zM709,94h2v1h-2zM713,94h2v1h-2zM716,94h1v1h-1zM725,94h1v1h-1zM666,95h3v1h-3zM670,95h1v1h-1zM672,95h3v1h-3zM676,95h2v1h-2zM680,95h2v1h-2zM683,95h2v1h-2zM687,95h4v1h-4zM692,95h1v1h-1zM701,95h5v1h-5zM707,95h3v1h-3zM711,95h2v1h-2zM715,95h1v1h-1zM719,95h2v1h-2zM722,95h2v1h-2zM666,96h1v1h-1zM670,96h2v1h-2zM674,96h1v1h-1zM678,96h3v1h-3zM683,96h3v1h-3zM687,96h1v1h-1zM700,96h3v1h-3zM705,96h5v1h-5zM713,96h3v1h-3zM717,96h1v1h-1zM719,96h1v1h-1zM723,96h1v1h-1zM725,96h2v1h-2zM666,97h2v1h-2zM670,97h1v1h-1zM672,97h2v1h-2zM675,97h3v1h-3zM679,97h2v1h-2zM682,97h1v1h-1zM685,97h1v1h-1zM688,97h5v1h-5zM702,97h1v1h-1zM704,97h2v1h-2zM707,97h1v1h-1zM710,97h2v1h-2zM715,97h2v1h-2zM718,97h1v1h-1zM723,97h2v1h-2zM667,98h6v1h-6zM680,98h4v1h-4zM686,98h6v1h-6zM700,98h1v1h-1zM702,98h1v1h-1zM706,98h1v1h-1zM710,98h3v1h-3zM714,98h1v1h-1zM717,98h2v1h-2zM720,98h1v1h-1zM722,98h1v1h-1zM724,98h1v1h-1zM726,98h1v1h-1zM667,99h1v1h-1zM669,99h1v1h-1zM675,99h2v1h-2zM679,99h1v1h-1zM682,99h1v1h-1zM686,99h3v1h-3zM690,99h3v1h-3zM700,99h2v1h-2zM703,99h1v1h-1zM710,99h2v1h-2zM713,99h6v1h-6zM720,99h2v1h-2zM724,99h2v1h-2zM666,100h2v1h-2zM669,100h4v1h-4zM676,100h1v1h-1zM678,100h2v1h-2zM683,100h2v1h-2zM686,100h2v1h-2zM689,100h2v1h-2zM692,100h1v1h-1zM700,100h3v1h-3zM705,100h1v1h-1zM709,100h4v1h-4zM717,100h6v1h-6zM724,100h1v1h-1zM726,100h1v1h-1zM667,101h1v1h-1zM670,101h1v1h-1zM674,101h3v1h-3zM678,101h5v1h-5zM684,101h1v1h-1zM688,101h3v1h-3zM692,101h1v1h-1zM700,101h1v1h-1zM702,101h2v1h-2zM708,101h2v1h-2zM712,101h2v1h-2zM715,101h2v1h-2zM720,101h3v1h-3zM724,101h2v1h-2zM665,102h2v1h-2zM669,102h1v1h-1zM672,102h1v1h-1zM674,102h2v1h-2zM678,102h2v1h-2zM681,102h2v1h-2zM684,102h1v1h-1zM686,102h1v1h-1zM688,102h2v1h-2zM691,102h2v1h-2zM701,102h2v1h-2zM705,102h4v1h-4zM710,102h2v1h-2zM714,102h8v1h-8zM723,102h4v1h-4zM665,103h2v1h-2zM673,103h3v1h-3zM677,103h1v1h-1zM680,103h6v1h-6zM687,103h2v1h-2zM691,103h1v1h-1zM700,103h3v1h-3zM704,103h6v1h-6zM712,103h1v1h-1zM714,103h2v1h-2zM719,103h1v1h-1zM722,103h1v1h-1zM726,103h1v1h-1zM665,104h6v1h-6zM672,104h1v1h-1zM674,104h2v1h-2zM678,104h1v1h-1zM682,104h1v1h-1zM684,104h2v1h-2zM689,104h1v1h-1zM691,104h2v1h-2zM700,104h2v1h-2zM705,104h1v1h-1zM708,104h1v1h-1zM712,104h1v1h-1zM714,104h4v1h-4zM719,104h3v1h-3zM723,104h3v1h-3zM666,105h1v1h-1zM668,105h7v1h-7zM677,105h2v1h-2zM681,105h1v1h-1zM683,105h1v1h-1zM690,105h1v1h-1zM701,105h1v1h-1zM703,105h2v1h-2zM708,105h2v1h-2zM712,105h2v1h-2zM716,105h1v1h-1zM718,105h1v1h-1zM721,105h4v1h-4zM726,105h1v1h-1zM667,106h1v1h-1zM669,106h1v1h-1zM671,106h1v1h-1zM675,106h4v1h-4zM680,106h2v1h-2zM685,106h2v1h-2zM688,106h1v1h-1zM690,106h3v1h-3zM703,106h1v1h-1zM705,106h2v1h-2zM709,106h2v1h-2zM713,106h2v1h-2zM716,106h2v1h-2zM719,106h1v1h-1zM721,106h3v1h-3zM725,106h1v1h-1zM666,107h3v1h-3zM673,107h1v1h-1zM676,107h1v1h-1zM680,107h1v1h-1zM682,107h4v1h-4zM687,107h2v1h-2zM690,107h3v1h-3zM701,107h1v1h-1zM703,107h1v1h-1zM705,107h3v1h-3zM709,107h3v1h-3zM715,107h2v1h-2zM718,107h8v1h-8zM667,108h2v1h-2zM672,108h1v1h-1zM678,108h1v1h-1zM680,108h3v1h-3zM685,108h3v1h-3zM690,108h3v1h-3zM700,108h2v1h-2zM706,108h3v1h-3zM710,108h2v1h-2zM714,108h2v1h-2zM717,108h1v1h-1zM719,108h1v1h-1zM724,108h2v1h-2zM666,109h1v1h-1zM670,109h1v1h-1zM672,109h1v1h-1zM676,109h1v1h-1zM678,109h1v1h-1zM680,109h3v1h-3zM684,109h1v1h-1zM688,109h2v1h-2zM691,109h1v1h-1zM704,109h1v1h-1zM711,109h2v1h-2zM714,109h1v1h-1zM718,109h1v1h-1zM720,109h1v1h-1zM723,109h1v1h-1zM725,109h2v1h-2zM665,110h2v1h-2zM668,110h1v1h-1zM672,110h2v1h-2zM675,110h7v1h-7zM683,110h1v1h-1zM685,110h1v1h-1zM687,110h2v1h-2zM690,110h3v1h-3zM700,110h1v1h-1zM702,110h1v1h-1zM704,110h1v1h-1zM708,110h1v1h-1zM710,110h1v1h-1zM714,110h6v1h-6zM721,110h1v1h-1zM723,110h1v1h-1zM725,110h2v1h-2zM665,111h3v1h-3zM672,111h5v1h-5zM679,111h2v1h-2zM682,111h1v1h-1zM685,111h2v1h-2zM691,111h1v1h-1zM700,111h2v1h-2zM704,111h2v1h-2zM707,111h3v1h-3zM711,111h1v1h-1zM713,111h1v1h-1zM715,111h3v1h-3zM721,111h1v1h-1zM726,111h1v1h-1z" fill="#fff"/>
<path d="M666,112h1v1h-1zM668,112h1v1h-1zM670,112h1v1h-1zM672,112h1v1h-1zM674,112h3v1h-3zM678,112h7v1h-7zM686,112h1v1h-1zM771,112h5v1h-5zM777,112h2v1h-2zM780,112h1v1h-1zM788,112h1v1h-1zM792,112h2v1h-2zM795,112h1v1h-1zM667,113h1v1h-1zM669,113h1v1h-1zM672,113h5v1h-5zM679,113h1v1h-1zM683,113h1v1h-1zM690,113h2v1h-2zM772,113h1v1h-1zM774,113h2v1h-2zM777,113h1v1h-1zM781,113h1v1h-1zM783,113h1v1h-1zM786,113h2v1h-2zM789,113h2v1h-2zM795,113h1v1h-1zM666,114h1v1h-1zM668,114h2v1h-2zM672,114h2v1h-2zM677,114h1v1h-1zM680,114h3v1h-3zM685,114h6v1h-6zM692,114h1v1h-1zM774,114h4v1h-4zM779,114h1v1h-1zM781,114h5v1h-5zM789,114h1v1h-1zM792,114h1v1h-1zM794,114h1v1h-1zM796,114h1v1h-1zM665,115h2v1h-2zM669,115h6v1h-6zM677,115h2v1h-2zM681,115h2v1h-2zM684,115h2v1h-2zM687,115h4v1h-4zM774,115h1v1h-1zM777,115h1v1h-1zM780,115h3v1h-3zM787,115h1v1h-1zM791,115h1v1h-1zM793,115h1v1h-1zM796,115h1v1h-1zM665,116h2v1h-2zM669,116h2v1h-2zM672,116h3v1h-3zM676,116h2v1h-2zM679,116h1v1h-1zM681,116h7v1h-7zM689,116h1v1h-1zM691,116h2v1h-2zM772,116h9v1h-9zM783,116h1v1h-1zM786,116h1v1h-1zM788,116h1v1h-1zM790,116h1v1h-1zM793,116h1v1h-1zM795,116h1v1h-1zM669,117h1v1h-1zM671,117h1v1h-1zM674,117h1v1h-1zM679,117h1v1h-1zM688,117h2v1h-2zM693,117h1v1h-1zM695,117h1v1h-1zM701,117h1v1h-1zM703,117h1v1h-1zM705,117h2v1h-2zM712,117h1v1h-1zM716,117h3v1h-3zM720,117h2v1h-2zM724,117h1v1h-1zM728,117h1v1h-1zM733,117h1v1h-1zM735,117h3v1h-3zM742,117h1v1h-1zM745,117h3v1h-3zM771,117h3v1h-3zM776,117h1v1h-1zM780,117h1v1h-1zM782,117h3v1h-3zM786,117h3v1h-3zM790,117h1v1h-1zM792,117h3v1h-3zM666,118h10v1h-10zM678,118h3v1h-3zM682,118h12v1h-12zM695,118h2v1h-2zM698,118h4v1h-4zM704,118h1v1h-1zM706,118h1v1h-1zM708,118h1v1h-1zM713,118h1v1h-1zM715,118h3v1h-3zM720,118h1v1h-1zM728,118h1v1h-1zM730,118h2v1h-2zM733,118h2v1h-2zM738,118h1v1h-1zM742,118h6v1h-6zM771,118h5v1h-5zM780,118h2v1h-2zM783,118h2v1h-2zM787,118h1v1h-1zM789,118h1v1h-1zM793,118h1v1h-1zM666,119h1v1h-1zM669,119h2v1h-2zM672,119h4v1h-4zM677,119h1v1h-1zM681,119h1v1h-1zM683,119h2v1h-2zM686,119h2v1h-2zM689,119h1v1h-1zM691,119h1v1h-1zM693,119h2v1h-2zM696,119h3v1h-3zM700,119h1v1h-1zM702,119h4v1h-4zM714,119h3v1h-3zM718,119h4v1h-4zM723,119h1v1h-1zM726,119h1v1h-1zM728,119h2v1h-2zM731,119h1v1h-1zM735,119h2v1h-2zM738,119h1v1h-1zM742,119h1v1h-1zM748,119h2v1h-2zM752,119h1v1h-1zM754,119h3v1h-3zM758,119h2v1h-2zM761,119h1v1h-1zM763,119h2v1h-2zM767,119h2v1h-2zM770,119h4v1h-4zM775,119h1v1h-1zM778,119h1v1h-1zM780,119h1v1h-1zM782,119h2v1h-2zM787,119h2v1h-2zM792,119h3v1h-3zM665,120h2v1h-2zM668,120h1v1h-1zM670,120h1v1h-1zM677,120h2v1h-2zM680,120h4v1h-4zM688,120h1v1h-1zM691,120h1v1h-1zM699,120h1v1h-1zM701,120h2v1h-2zM705,120h3v1h-3zM710,120h5v1h-5zM718,120h3v1h-3zM723,120h2v1h-2zM726,120h1v1h-1zM728,120h1v1h-1zM730,120h1v1h-1zM735,120h2v1h-2zM739,120h1v1h-1zM742,120h2v1h-2zM745,120h1v1h-1zM747,120h2v1h-2zM754,120h1v1h-1zM757,120h3v1h-3zM761,120h1v1h-1zM763,120h1v1h-1zM765,120h1v1h-1zM768,120h3v1h-3zM773,120h2v1h-2zM776,120h3v1h-3zM781,120h1v1h-1zM784,120h2v1h-2zM787,120h3v1h-3zM792,120h5v1h-5zM665,121h1v1h-1zM670,121h1v1h-1zM672,121h3v1h-3zM676,121h2v1h-2zM681,121h3v1h-3zM686,121h2v1h-2zM689,121h1v1h-1zM691,121h1v1h-1zM693,121h2v1h-2zM696,121h1v1h-1zM698,121h1v1h-1zM702,121h1v1h-1zM704,121h2v1h-2zM710,121h2v1h-2zM714,121h2v1h-2zM717,121h2v1h-2zM720,121h5v1h-5zM726,121h1v1h-1zM728,121h1v1h-1zM731,121h3v1h-3zM735,121h1v1h-1zM737,121h4v1h-4zM745,121h1v1h-1zM747,121h2v1h-2zM750,121h1v1h-1zM752,121h1v1h-1zM754,121h2v1h-2zM758,121h3v1h-3zM765,121h2v1h-2zM768,121h3v1h-3zM772,121h2v1h-2zM775,121h1v1h-1zM782,121h2v1h-2zM787,121h1v1h-1zM791,121h3v1h-3zM667,122h2v1h-2zM671,122h3v1h-3zM675,122h2v1h-2zM679,122h3v1h-3zM684,122h2v1h-2zM688,122h1v1h-1zM695,122h4v1h-4zM703,122h2v1h-2zM708,122h3v1h-3zM712,122h1v1h-1zM717,122h6v1h-6zM726,122h2v1h-2zM729,122h3v1h-3zM733,122h2v1h-2zM736,122h1v1h-1zM738,122h1v1h-1zM741,122h1v1h-1zM745,122h2v1h-2zM748,122h2v1h-2zM752,122h1v1h-1zM755,122h2v1h-2zM764,122h4v1h-4zM771,122h1v1h-1zM773,122h1v1h-1zM775,122h1v1h-1zM777,122h7v1h-7zM785,122h1v1h-1zM787,122h1v1h-1zM789,122h4v1h-4zM795,122h2v1h-2zM666,123h2v1h-2zM671,123h1v1h-1zM676,123h2v1h-2zM679,123h2v1h-2zM684,123h1v1h-1zM686,123h1v1h-1zM688,123h1v1h-1zM691,123h1v1h-1zM696,123h1v1h-1zM704,123h1v1h-1zM707,123h6v1h-6zM715,123h3v1h-3zM720,123h2v1h-2zM724,123h4v1h-4zM730,123h3v1h-3zM735,123h1v1h-1zM738,123h2v1h-2zM743,123h4v1h-4zM750,123h2v1h-2zM754,123h1v1h-1zM756,123h1v1h-1zM759,123h1v1h-1zM762,123h3v1h-3zM767,123h1v1h-1zM769,123h1v1h-1zM771,123h1v1h-1zM779,123h3v1h-3zM785,123h1v1h-1zM787,123h1v1h-1zM789,123h2v1h-2zM793,123h1v1h-1zM795,123h2v1h-2zM665,124h1v1h-1zM667,124h1v1h-1zM670,124h3v1h-3zM676,124h1v1h-1zM678,124h3v1h-3zM683,124h2v1h-2zM687,124h1v1h-1zM690,124h3v1h-3zM695,124h1v1h-1zM697,124h3v1h-3zM702,124h5v1h-5zM709,124h1v1h-1zM711,124h1v1h-1zM714,124h1v1h-1zM716,124h1v1h-1zM718,124h3v1h-3zM724,124h3v1h-3zM728,124h2v1h-2zM731,124h1v1h-1zM735,124h2v1h-2zM739,124h2v1h-2zM743,124h1v1h-1zM745,124h2v1h-2zM753,124h2v1h-2zM759,124h1v1h-1zM767,124h1v1h-1zM769,124h2v1h-2zM772,124h1v1h-1zM774,124h1v1h-1zM776,124h2v1h-2zM780,124h1v1h-1zM782,124h1v1h-1zM787,124h1v1h-1zM791,124h1v1h-1zM793,124h4v1h-4zM666,125h4v1h-4zM671,125h1v1h-1zM673,125h6v1h-6zM683,125h1v1h-1zM686,125h1v1h-1zM688,125h1v1h-1zM690,125h1v1h-1zM692,125h1v1h-1zM694,125h2v1h-2zM697,125h4v1h-4zM702,125h2v1h-2zM705,125h2v1h-2zM713,125h1v1h-1zM716,125h1v1h-1zM719,125h3v1h-3zM723,125h1v1h-1zM727,125h2v1h-2zM730,125h1v1h-1zM732,125h2v1h-2zM735,125h1v1h-1zM737,125h1v1h-1zM740,125h6v1h-6zM747,125h1v1h-1zM750,125h2v1h-2zM753,125h1v1h-1zM755,125h1v1h-1zM757,125h1v1h-1zM759,125h3v1h-3zM765,125h1v1h-1zM769,125h1v1h-1zM772,125h1v1h-1zM775,125h1v1h-1zM777,125h1v1h-1zM779,125h2v1h-2zM784,125h1v1h-1zM787,125h3v1h-3zM791,125h3v1h-3zM796,125h1v1h-1zM665,126h1v1h-1zM672,126h1v1h-1zM674,126h1v1h-1zM677,126h1v1h-1zM680,126h2v1h-2zM683,126h2v1h-2zM688,126h5v1h-5zM694,126h1v1h-1zM696,126h1v1h-1zM701,126h1v1h-1zM705,126h1v1h-1zM709,126h2v1h-2zM715,126h2v1h-2zM722,126h1v1h-1zM725,126h1v1h-1zM727,126h3v1h-3zM731,126h2v1h-2zM736,126h1v1h-1zM738,126h1v1h-1zM741,126h4v1h-4zM746,126h1v1h-1zM748,126h1v1h-1zM751,126h1v1h-1zM753,126h1v1h-1zM756,126h1v1h-1zM762,126h1v1h-1zM764,126h1v1h-1zM766,126h8v1h-8zM775,126h2v1h-2zM779,126h2v1h-2zM785,126h4v1h-4zM792,126h2v1h-2zM795,126h2v1h-2zM667,127h2v1h-2zM671,127h2v1h-2zM674,127h1v1h-1zM681,127h1v1h-1zM684,127h2v1h-2zM687,127h1v1h-1zM689,127h1v1h-1zM693,127h1v1h-1zM697,127h1v1h-1zM699,127h3v1h-3zM703,127h1v1h-1zM705,127h1v1h-1zM707,127h1v1h-1zM709,127h1v1h-1zM711,127h4v1h-4zM718,127h2v1h-2zM722,127h1v1h-1zM724,127h3v1h-3zM728,127h1v1h-1zM733,127h3v1h-3zM738,127h1v1h-1zM740,127h2v1h-2zM743,127h2v1h-2zM749,127h1v1h-1zM752,127h1v1h-1zM754,127h5v1h-5zM762,127h3v1h-3zM766,127h1v1h-1zM768,127h4v1h-4zM774,127h1v1h-1zM776,127h3v1h-3zM782,127h1v1h-1zM786,127h1v1h-1zM790,127h7v1h-7zM666,128h2v1h-2zM669,128h1v1h-1zM674,128h1v1h-1zM676,128h2v1h-2zM680,128h1v1h-1zM685,128h2v1h-2zM688,128h3v1h-3zM692,128h3v1h-3zM696,128h2v1h-2zM703,128h1v1h-1zM705,128h2v1h-2zM709,128h1v1h-1zM714,128h2v1h-2zM717,128h2v1h-2zM720,128h1v1h-1zM723,128h1v1h-1zM725,128h2v1h-2zM729,128h2v1h-2zM732,128h2v1h-2zM737,128h1v1h-1zM741,128h3v1h-3zM747,128h1v1h-1zM749,128h1v1h-1zM754,128h3v1h-3zM760,128h1v1h-1zM762,128h2v1h-2zM765,128h1v1h-1zM767,128h1v1h-1zM770,128h3v1h-3zM775,128h1v1h-1zM777,128h1v1h-1zM789,128h2v1h-2zM792,128h1v1h-1zM794,128h1v1h-1zM665,129h3v1h-3zM669,129h2v1h-2zM674,129h1v1h-1zM676,129h1v1h-1zM679,129h1v1h-1zM681,129h1v1h-1zM686,129h3v1h-3zM692,129h1v1h-1zM695,129h2v1h-2zM699,129h1v1h-1zM701,129h4v1h-4zM708,129h2v1h-2zM711,129h6v1h-6zM719,129h2v1h-2zM722,129h2v1h-2zM728,129h1v1h-1zM731,129h1v1h-1zM734,129h1v1h-1zM737,129h1v1h-1zM739,129h3v1h-3zM744,129h1v1h-1zM746,129h2v1h-2zM749,129h1v1h-1zM752,129h2v1h-2zM755,129h2v1h-2zM760,129h1v1h-1zM762,129h1v1h-1zM764,129h2v1h-2zM768,129h1v1h-1zM771,129h1v1h-1zM773,129h1v1h-1zM780,129h1v1h-1zM783,129h1v1h-1zM786,129h1v1h-1zM788,129h3v1h-3zM792,129h3v1h-3zM796,129h1v1h-1z" fill="#fff"/>
<path d="M742,107h1v1h-1zM771,107h1v1h-1zM774,107h1v1h-1zM776,107h2v1h-2zM779,107h3v1h-3zM784,107h7v1h-7zM792,107h1v1h-1zM796,107h1v1h-1zM742,108h3v1h-3zM746,108h2v1h-2zM773,108h2v1h-2zM776,108h1v1h-1zM782,108h1v1h-1zM785,108h2v1h-2zM788,108h1v1h-1zM791,108h1v1h-1zM793,108h1v1h-1zM740,109h1v1h-1zM742,109h2v1h-2zM745,109h1v1h-1zM747,109h1v1h-1zM771,109h1v1h-1zM774,109h3v1h-3zM778,109h2v1h-2zM781,109h3v1h-3zM786,109h2v1h-2zM789,109h1v1h-1zM792,109h2v1h-2zM796,109h1v1h-1zM741,110h1v1h-1zM743,110h2v1h-2zM746,110h2v1h-2zM771,110h4v1h-4zM776,110h3v1h-3zM781,110h5v1h-5zM787,110h1v1h-1zM791,110h1v1h-1zM793,110h3v1h-3zM741,111h2v1h-2zM744,111h1v1h-1zM746,111h2v1h-2zM771,111h2v1h-2zM776,111h3v1h-3zM782,111h2v1h-2zM786,111h1v1h-1zM788,111h2v1h-2zM791,111h1v1h-1zM793,111h1v1h-1zM795,111h2v1h-2z" fill="#fff"/>
<line x1="665" y1="91.5" x2="726.5" y2="91.5" stroke="#fff" stroke-width="1.0" />
<line x1="726.5" y1="91.5" x2="726.5" y2="107.5" stroke="#fff" stroke-width="1.0" />
<line x1="726.5" y1="107.5" x2="798" y2="107.5" stroke="#fff" stroke-width="1.0" />
<rect x="689.5" y="51.5" width="13.0" height="39.0" stroke="#fff" stroke-width="1.2" fill="none" />
<text x="673.5" y="48" font-size="6.2" fill="#fff" font-weight="bold" text-anchor="start" textLength="38.5" lengthAdjust="spacingAndGlyphs" stroke="#fff" stroke-width="0.3">Tablero TP-440</text>
<line x1="696.5" y1="89" x2="696.5" y2="115" stroke="#fff" stroke-width="1.0" />
<line x1="698.5" y1="89" x2="698.5" y2="112" stroke="#fff" stroke-width="1.0" />
<line x1="694.5" y1="91" x2="694.5" y2="116" stroke="#fff" stroke-width="1.0" />
<line x1="700.5" y1="91" x2="700.5" y2="111" stroke="#fff" stroke-width="1.0" />
<rect x="695" y="93" width="1" height="1.5" fill="#fff" />
<rect x="695" y="96" width="1" height="1.5" fill="#fff" />
<rect x="695" y="99" width="1" height="1.5" fill="#fff" />
<rect x="695" y="102" width="1" height="1.5" fill="#fff" />
<rect x="695" y="105" width="1" height="1.5" fill="#fff" />
<rect x="695" y="108" width="1" height="1.5" fill="#fff" />
<line x1="696" y1="112.5" x2="748.8" y2="112.5" stroke="#fff" stroke-width="1.0" />
<line x1="694.5" y1="115.5" x2="748.8" y2="115.5" stroke="#fff" stroke-width="1.0" />
<line x1="698.9" y1="110.5" x2="748.8" y2="110.5" stroke="#fff" stroke-width="1.0" />
<rect x="694.5" y="116" width="54.5" height="1" fill="#fff" />
<rect x="749.0" y="107.0" width="21.0" height="11.0" stroke="#fff" stroke-width="1.6" fill="none" />
<line x1="740.5" y1="85.7" x2="740.5" y2="107.2" stroke="#fff" stroke-width="1.0" />
<line x1="740.4" y1="85.5" x2="748" y2="85.5" stroke="#fff" stroke-width="1.0" />
<line x1="698.9" y1="90.5" x2="740.4" y2="90.5" stroke="#fff" stroke-width="1.0" />
<circle cx="725.8" cy="89.6" r="1.0" stroke="#fff" stroke-width="1.0" fill="none"/>
<line x1="726.5" y1="76.5" x2="712.7" y2="91.1" stroke="#fff" stroke-width="1.0" />
<text x="723.5" y="75" font-size="6.2" fill="#fff" font-weight="bold" text-anchor="start" textLength="25.3" lengthAdjust="spacingAndGlyphs" stroke="#fff" stroke-width="0.3">3/4" PVC</text>
<text x="741.1" y="85" font-size="5.6" fill="#fff" font-weight="bold" text-anchor="start" textLength="10" lengthAdjust="spacingAndGlyphs" >3/8 -</text>
<text x="758" y="96.5" font-size="6.2" fill="#fff" font-weight="bold" text-anchor="start" textLength="36.2" lengthAdjust="spacingAndGlyphs" stroke="#fff" stroke-width="0.3">Tanquilla BT-4</text>
<line x1="841.4" y1="53.5" x2="870.6" y2="53.5" stroke="#fff" stroke-width="1.0" />
<line x1="841.4" y1="55.5" x2="870.6" y2="55.5" stroke="#fff" stroke-width="1.0" />
<rect x="841.4" y="51.4" width="2.8" height="4.6" fill="#fff" />
<rect x="848.4" y="51.4" width="2.6" height="4.6" fill="#fff" />
<rect x="854" y="51.4" width="2.6" height="4.6" fill="#fff" />
<rect x="867.4" y="51.4" width="3.2" height="4.6" fill="#fff" />
<line x1="854.5" y1="53" x2="854.5" y2="211" stroke="#fff" stroke-width="1.0" />
<line x1="856.5" y1="53" x2="856.5" y2="211" stroke="#fff" stroke-width="1.0" />
<path d="M842.7,55.8 L842.7,70.4 L843.3,90.7 Q844,96 851.5,112.2" stroke="#fff" stroke-width="1.0" fill="none" />
<line x1="853.4" y1="55.8" x2="849" y2="70.4" stroke="#fff" stroke-width="1.0" />
<path d="M868,55.8 L866.8,70.4 L868,90.7 Q867,100 859.2,111" stroke="#fff" stroke-width="1.0" fill="none" />
<line x1="845" y1="56" x2="846" y2="70" stroke="#fff" stroke-width="1.0" />
<rect x="842" y="70.4" width="3.4" height="5.1" fill="#fff" />
<rect x="849" y="70.4" width="3.4" height="5.1" fill="#fff" />
<rect x="864.9" y="70.4" width="4.5" height="5.1" fill="#fff" />
<line x1="842.7" y1="72.5" x2="869.3" y2="72.5" stroke="#fff" stroke-width="1.0" />
<line x1="842.7" y1="74.5" x2="869.3" y2="74.5" stroke="#fff" stroke-width="1.0" />
<line x1="842.7" y1="90.5" x2="868" y2="90.5" stroke="#fff" stroke-width="1.0" />
<line x1="843" y1="92.5" x2="867" y2="92.5" stroke="#fff" stroke-width="1.0" />
<rect x="847.7" y="87" width="3.3" height="5" fill="#fff" />
<line x1="849.5" y1="75.5" x2="849.5" y2="88" stroke="#fff" stroke-width="1.0" />
<line x1="846" y1="92.5" x2="853" y2="111" stroke="#fff" stroke-width="1.0" />
<line x1="850.5" y1="93" x2="854.5" y2="110" stroke="#fff" stroke-width="1.0" />
<line x1="862.5" y1="92.5" x2="857" y2="110" stroke="#fff" stroke-width="1.0" />
<path d="M858.5,98 L861.5,100.8 L858.5,103.5 Z" stroke="#fff" stroke-width="1.0" fill="none" />
<line x1="858.5" y1="92" x2="858.5" y2="108" stroke="#fff" stroke-width="1.0" />
<rect x="852" y="111" width="6" height="3" fill="#fff" />
<path d="M851.5,50.8 Q852.5,47.9 855.2,47.9" stroke="#fff" stroke-width="1.0" fill="none" />
<rect x="855.2" y="45.9" width="4.0" height="4.0" fill="#fff" />
<path d="M870.6,51.4 Q872.5,48.2 875,48.2" stroke="#fff" stroke-width="1.0" fill="none" />
<circle cx="877" cy="48.2" r="1.8" stroke="#fff" stroke-width="1.0" fill="none"/>
<rect x="876.4" y="47.400000000000006" width="1.2" height="1.6" fill="#fff" />
<path d="M868.5,55.5 L870.6,59 L875.8,59" stroke="#fff" stroke-width="1.0" fill="none" />
<rect x="876" y="57" width="4" height="4" fill="#fff" />
<path d="M866.5,70 L869.5,63.4 L875.8,63.4" stroke="#fff" stroke-width="1.0" fill="none" />
<rect x="876" y="61.4" width="4" height="4.0" fill="#fff" />
<rect x="862.5" y="79.5" width="3.0" height="3.0" stroke="#fff" stroke-width="1.0" fill="none" />
<line x1="865.5" y1="80.5" x2="875" y2="80.5" stroke="#fff" stroke-width="1.0" />
<circle cx="877" cy="80.4" r="1.8" stroke="#fff" stroke-width="1.0" fill="none"/>
<rect x="876.4" y="79.60000000000001" width="1.2" height="1.6" fill="#fff" />
<line x1="868" y1="88.5" x2="876" y2="88.5" stroke="#fff" stroke-width="1.0" />
<circle cx="878" cy="88.2" r="1.8" stroke="#fff" stroke-width="1.0" fill="none"/>
<rect x="877.4" y="87.4" width="1.2" height="1.6" fill="#fff" />
<line x1="862.3" y1="105.5" x2="872.5" y2="105.5" stroke="#fff" stroke-width="1.0" />
<circle cx="874.4" cy="105.9" r="1.8" stroke="#fff" stroke-width="1.0" fill="none"/>
<rect x="873.8" y="105.10000000000001" width="1.2" height="1.6" fill="#fff" />
<rect x="843" y="65" width="2" height="3" fill="#fff" />
<rect x="864" y="67" width="2" height="3" fill="#fff" />
<line x1="852.5" y1="114" x2="852.5" y2="211" stroke="#fff" stroke-width="1.0" />
<line x1="857.5" y1="114" x2="857.5" y2="211" stroke="#fff" stroke-width="1.0" />
<line x1="852.4" y1="211.5" x2="857.9" y2="211.5" stroke="#fff" stroke-width="1.0" />
<line x1="837.8" y1="126.5" x2="878.5" y2="126.5" stroke="#fff" stroke-width="1.0" />
<rect x="835.8" y="124.8" width="4.0" height="4.0" fill="#fff" />
<path d="M878.5,123.6 L880.7,125.8 L878.5,128.0 L876.3,125.8 Z" stroke="#fff" stroke-width="1.0" fill="none" />
<rect x="878.0" y="125.3" width="1.0" height="1.0" fill="#fff" />
<line x1="885.5" y1="91" x2="885.5" y2="212" stroke="#fff" stroke-width="1.0" />
<line x1="883.5" y1="141.5" x2="887.5" y2="141.5" stroke="#fff" stroke-width="1.4" />
<line x1="883.5" y1="212.5" x2="887.5" y2="212.5" stroke="#fff" stroke-width="1.0" />
<rect x="884.3" y="199.8" width="3.5" height="3.2" fill="#fff" />
<line x1="850.6" y1="190.5" x2="889" y2="190.5" stroke="#fff" stroke-width="1.0" />
<rect x="894" y="200" width="8" height="2" fill="#fff" />
<circle cx="845.4" cy="182.9" r="1.8" stroke="#fff" stroke-width="1.0" fill="none"/>
<rect x="844.8" y="182.1" width="1.2" height="1.6" fill="#fff" />
<line x1="846.5" y1="184.5" x2="850.5" y2="191" stroke="#fff" stroke-width="1.0" />
<path d="M846.9,192.3 L849.1,194.5 L846.9,196.7 L844.6999999999999,194.5 Z" stroke="#fff" stroke-width="1.0" fill="none" />
<rect x="846.4" y="194.0" width="1.0" height="1.0" fill="#fff" />
<rect x="851" y="191.5" width="2" height="8.5" fill="#fff" />
<line x1="942.5" y1="51" x2="942.5" y2="190" stroke="#fff" stroke-width="1.0" />
<line x1="944.5" y1="51" x2="944.5" y2="190" stroke="#fff" stroke-width="1.0" />
<line x1="941.5" y1="130" x2="941.5" y2="188" stroke="#fff" stroke-width="1.0" />
<line x1="945.5" y1="130" x2="945.5" y2="188" stroke="#fff" stroke-width="1.0" />
<rect x="942.5" y="189.5" width="4.0" height="21.0" stroke="#fff" stroke-width="1.0" fill="none" />
<rect x="941" y="50" width="5" height="4" fill="#fff" />
<path d="M944,50.5 Q946,46 951.5,45.3" stroke="#fff" stroke-width="1.0" fill="none" />
<path d="M954.4,43.099999999999994 L956.6,45.3 L954.4,47.5 L952.1999999999999,45.3 Z" stroke="#fff" stroke-width="1.0" fill="none" />
<rect x="953.9" y="44.8" width="1.0" height="1.0" fill="#fff" />
<rect x="908.2" y="47.5" width="10.4" height="1.3" fill="#fff" />
<rect x="911" y="48.8" width="4.5" height="1.7" fill="#fff" />
<circle cx="914.9" cy="57.6" r="1.8" stroke="#fff" stroke-width="1.0" fill="none"/>
<rect x="914.3" y="56.800000000000004" width="1.2" height="1.6" fill="#fff" />
<path d="M916.5,56.8 L920,54.5 L923.8,53.9 Q928,60 935.8,63.6 Q940,63.5 943.2,62.1 Q950,61 955.9,70.3" stroke="#fff" stroke-width="1.0" fill="none" />
<rect x="923" y="52.8" width="2" height="2.2" fill="#fff" />
<rect x="936.5" y="74" width="12.7" height="2.5" fill="#fff" />
<rect x="947" y="66" width="5.5" height="11" fill="#fff" />
<path d="M952,68 Q956,66 957,72 L956,75 L952,76" stroke="#fff" stroke-width="1.0" fill="none" />
<path d="M956,73.5 L961,77" stroke="#fff" stroke-width="1.0" fill="none" />
<rect x="960.6" y="75" width="4.0" height="4" fill="#fff" />
<line x1="929" y1="72.5" x2="940" y2="72.5" stroke="#fff" stroke-width="1.0" />
<path d="M929,70.0 L931.2,72.2 L929,74.4 L926.8,72.2 Z" stroke="#fff" stroke-width="1.0" fill="none" />
<rect x="928.5" y="71.7" width="1.0" height="1.0" fill="#fff" />
<line x1="944.7" y1="82" x2="948.5" y2="88" stroke="#fff" stroke-width="1" />
<line x1="948.5" y1="88" x2="949.5" y2="104" stroke="#fff" stroke-width="1" />
<path d="M945,83 Q949,86 949.2,94 L949,103 Q948,106 945,107" stroke="#fff" stroke-width="1.0" fill="none" />
<rect x="946" y="92" width="3" height="5" fill="#fff" />
<line x1="936.5" y1="94.1" x2="942" y2="97" stroke="#fff" stroke-width="1.0" />
<rect x="932.3" y="92.1" width="4.0" height="4.0" fill="#fff" />
<line x1="949" y1="94.5" x2="957.5" y2="94.5" stroke="#fff" stroke-width="1.0" />
<circle cx="959.6" cy="94.1" r="1.8" stroke="#fff" stroke-width="1.0" fill="none"/>
<rect x="959.0" y="93.3" width="1.2" height="1.6" fill="#fff" />
<line x1="937.5" y1="116.5" x2="942" y2="116.5" stroke="#fff" stroke-width="1.0" />
<circle cx="935.8" cy="116.5" r="1.8" stroke="#fff" stroke-width="1.0" fill="none"/>
<rect x="935.1999999999999" y="115.7" width="1.2" height="1.6" fill="#fff" />
<circle cx="934" cy="128.8" r="1.8" stroke="#fff" stroke-width="1.0" fill="none"/>
<rect x="933.4" y="128.0" width="1.2" height="1.6" fill="#fff" />
<line x1="935.5" y1="129.5" x2="941" y2="131" stroke="#fff" stroke-width="1.0" />
<circle cx="933.9" cy="130.2" r="1.8" stroke="#fff" stroke-width="1.0" fill="none"/>
<rect x="933.3" y="129.39999999999998" width="1.2" height="1.6" fill="#fff" />
<line x1="922.3" y1="188.5" x2="967" y2="188.5" stroke="#fff" stroke-width="1.0" />
<path d="M935.4,176.8 L937.6,179 L935.4,181.2 L933.1999999999999,179 Z" stroke="#fff" stroke-width="1.0" fill="none" />
<rect x="934.9" y="178.5" width="1.0" height="1.0" fill="#fff" />
<line x1="936.5" y1="181" x2="940.5" y2="188" stroke="#fff" stroke-width="1.0" />
<rect x="922.5" y="196.5" width="18.0" height="2.0" stroke="#fff" stroke-width="1.0" fill="none" />
<circle cx="930.9" cy="194" r="1.3" stroke="#fff" stroke-width="1.0" fill="#fff"/>
<line x1="934" y1="194.5" x2="940" y2="194.5" stroke="#fff" stroke-width="1.0" />
<line x1="925" y1="200.5" x2="935" y2="200.5" stroke="#fff" stroke-width="1.0" />
<path d="M926.5,199.5 L924.5,200.5 L926.5,201.5" stroke="#fff" stroke-width="1.0" fill="none" />
<line x1="940.5" y1="192" x2="940.5" y2="202" stroke="#fff" stroke-width="1.0" />
<rect x="941.5" y="189.5" width="3.0" height="4.5" fill="#fff" />
<rect x="900" y="200" width="9" height="2" fill="#fff" />
<rect x="911" y="200" width="3" height="2" fill="#fff" />
<rect x="818" y="216" width="12" height="3" fill="#fff" />
<rect x="831" y="216" width="18" height="3" fill="#fff" />
<rect x="850" y="216" width="8" height="3" fill="#fff" />
<rect x="858" y="216" width="11" height="2" fill="#fff" />
<rect x="870" y="216" width="17" height="2" fill="#fff" />
<rect x="888" y="216" width="8" height="2" fill="#fff" />
<rect x="898" y="216" width="17" height="2" fill="#fff" />
<rect x="916" y="216" width="6" height="2" fill="#fff" />
<rect x="923" y="216" width="15" height="2" fill="#fff" />
<rect x="940" y="216" width="9" height="2" fill="#fff" />
<rect x="950" y="216" width="11" height="2" fill="#fff" />
<rect x="962" y="216" width="15" height="2" fill="#fff" />
<rect x="978" y="216" width="5" height="2" fill="#fff" />
<rect x="818" y="222" width="8" height="3" fill="#fff" />
<rect x="827" y="222" width="17" height="3" fill="#fff" />
<rect x="845" y="222" width="15" height="3" fill="#fff" />
<rect x="862" y="222" width="7" height="3" fill="#fff" />
<rect x="871" y="222" width="12" height="3" fill="#fff" />
<rect x="884" y="222" width="10" height="3" fill="#fff" />
<rect x="895" y="222" width="8" height="3" fill="#fff" />
<rect x="904" y="222" width="17" height="3" fill="#fff" />
<rect x="922" y="222" width="7" height="3" fill="#fff" />
<rect x="930" y="222" width="17" height="3" fill="#fff" />
<rect x="948" y="222" width="7" height="3" fill="#fff" />
<rect x="957" y="222" width="14" height="3" fill="#fff" />
<rect x="972" y="222" width="10" height="3" fill="#fff" />
<rect x="818" y="226" width="10" height="3" fill="#fff" />
<rect x="830" y="226" width="16" height="3" fill="#fff" />
<rect x="847" y="226" width="17" height="3" fill="#fff" />
<rect x="866" y="226" width="9" height="3" fill="#fff" />
<rect x="877" y="226" width="13" height="3" fill="#fff" />
<rect x="892" y="226" width="16" height="3" fill="#fff" />
<rect x="909" y="226" width="13" height="3" fill="#fff" />
<rect x="923" y="226" width="7" height="3" fill="#fff" />
<rect x="931" y="226" width="7" height="3" fill="#fff" />
<rect x="939" y="226" width="16" height="3" fill="#fff" />
<rect x="956" y="226" width="10" height="3" fill="#fff" />
<rect x="968" y="226" width="9" height="3" fill="#fff" />
<rect x="978" y="226" width="4" height="3" fill="#fff" />
<rect x="818" y="229" width="13" height="3" fill="#fff" />
<rect x="832" y="229" width="13" height="3" fill="#fff" />
<rect x="847" y="229" width="17" height="3" fill="#fff" />
<rect x="866" y="229" width="16" height="3" fill="#fff" />
<rect x="884" y="229" width="11" height="3" fill="#fff" />
<rect x="896" y="229" width="9" height="3" fill="#fff" />
<rect x="907" y="229" width="8" height="3" fill="#fff" />
<rect x="916" y="229" width="13" height="3" fill="#fff" />
<rect x="930" y="229" width="7" height="3" fill="#fff" />
<rect x="938" y="229" width="18" height="3" fill="#fff" />
<rect x="957" y="229" width="10" height="3" fill="#fff" />
<rect x="968" y="229" width="9" height="3" fill="#fff" />
<rect x="979" y="229" width="4" height="3" fill="#fff" />
<rect x="818" y="222" width="9" height="3" fill="#fff" />
<rect x="828" y="222" width="14" height="3" fill="#fff" />
<rect x="843" y="222" width="17" height="3" fill="#fff" />
<rect x="861" y="222" width="1" height="3" fill="#fff" />
<rect x="818" y="225" width="8" height="3" fill="#fff" />
<rect x="828" y="225" width="17" height="3" fill="#fff" />
<rect x="846" y="225" width="8" height="3" fill="#fff" />
<rect x="855" y="225" width="7" height="3" fill="#fff" />
<rect x="818" y="229" width="14" height="3" fill="#fff" />
<rect x="833" y="229" width="12" height="3" fill="#fff" />
<rect x="847" y="229" width="15" height="3" fill="#fff" />
<rect x="818" y="235" width="17" height="3" fill="#fff" />
<rect x="836" y="235" width="7" height="3" fill="#fff" />
<rect x="844" y="235" width="16" height="3" fill="#fff" />
<rect x="862" y="235" width="10" height="3" fill="#fff" />
<rect x="873" y="235" width="15" height="3" fill="#fff" />
<rect x="889" y="235" width="15" height="3" fill="#fff" />
<rect x="905" y="235" width="10" height="3" fill="#fff" />
<rect x="917" y="235" width="3" height="3" fill="#fff" />
<rect x="920" y="235" width="9" height="2" fill="#fff" />
<rect x="930" y="235" width="12" height="2" fill="#fff" />
<rect x="943" y="235" width="17" height="2" fill="#fff" />
<rect x="961" y="235" width="17" height="2" fill="#fff" />
<rect x="979" y="235" width="6" height="2" fill="#fff" />
<rect x="818" y="235" width="11" height="4" fill="#fff" />
<rect x="830" y="235" width="11" height="4" fill="#fff" />
<rect x="842" y="235" width="17" height="4" fill="#fff" />
<rect x="860" y="235" width="10" height="4" fill="#fff" />
<rect x="871" y="235" width="17" height="4" fill="#fff" />
<rect x="889" y="235" width="13" height="4" fill="#fff" />
<rect x="903" y="235" width="17" height="4" fill="#fff" />
<rect x="922" y="235" width="3" height="4" fill="#fff" />
<line x1="815.5" y1="216" x2="815.5" y2="219" stroke="#fff" stroke-width="1.0" />
<line x1="814.6" y1="217.5" x2="816.6" y2="217.5" stroke="#fff" stroke-width="1.0" />
<line x1="815.5" y1="222" x2="815.5" y2="225" stroke="#fff" stroke-width="1.0" />
<line x1="814.6" y1="223.5" x2="816.6" y2="223.5" stroke="#fff" stroke-width="1.0" />
<rect x="818.7" y="251" width="2.7" height="1.8" fill="#fff" />
<text x="824" y="255.2" font-size="10.4" fill="#fff" font-weight="bold" text-anchor="start" textLength="32.1" lengthAdjust="spacingAndGlyphs" stroke="#fff" stroke-width="0.25">DETALLE</text>
<text x="861.4" y="255.2" font-size="10.4" fill="#fff" font-weight="bold" text-anchor="start" textLength="50.8" lengthAdjust="spacingAndGlyphs" stroke="#fff" stroke-width="0.25">ESTRUCTURA</text>
<text x="916.7" y="255.2" font-size="10.4" fill="#fff" font-weight="bold" text-anchor="start" textLength="9.7" lengthAdjust="spacingAndGlyphs" stroke="#fff" stroke-width="0.25">DE</text>
<text x="931.8" y="255.2" font-size="10.4" fill="#fff" font-weight="bold" text-anchor="start" textLength="46.3" lengthAdjust="spacingAndGlyphs" stroke="#fff" stroke-width="0.25">TRANSICION</text>
<rect x="980.8" y="251" width="2.6" height="1.8" fill="#fff" />
<text x="827.4" y="276.6" font-size="7.6" fill="#fff" font-weight="bold" text-anchor="start" textLength="123.4" lengthAdjust="spacingAndGlyphs" stroke="#fff" stroke-width="0.3">MATERIAL TRANSICION AEREO-SUBTERRANEO</text>
<circle cx="817.2" cy="293.2" r="2.2" stroke="#fff" stroke-width="1.0" fill="none"/>
<text x="815.9" y="294.8" font-size="4.2" fill="#fff" font-weight="bold" text-anchor="start" >1</text>
<text x="822" y="295.4" font-size="6.0" fill="#fff" font-weight="bold" text-anchor="start" textLength="75" lengthAdjust="spacingAndGlyphs" font-style="italic" stroke="#fff" stroke-width="0.3">Conector Bimetal Para 10 Am/Bal</text>
<circle cx="817.2" cy="299.95" r="2.2" stroke="#fff" stroke-width="1.0" fill="none"/>
<text x="815.9" y="301.55" font-size="4.2" fill="#fff" font-weight="bold" text-anchor="start" >2</text>
<text x="822" y="302.15" font-size="6.0" fill="#fff" font-weight="bold" text-anchor="start" textLength="66" lengthAdjust="spacingAndGlyphs" font-style="italic" stroke="#fff" stroke-width="0.3">Cruceta de metal galvanizado</text>
<circle cx="817.2" cy="306.7" r="2.2" stroke="#fff" stroke-width="1.0" fill="none"/>
<text x="815.9" y="308.3" font-size="4.2" fill="#fff" font-weight="bold" text-anchor="start" >3</text>
<text x="822" y="308.9" font-size="6.0" fill="#fff" font-weight="bold" text-anchor="start" textLength="126" lengthAdjust="spacingAndGlyphs" font-style="italic" stroke="#fff" stroke-width="0.3">Pararrayo autovalvular oxido de zinc 10 kV Para 4/ZN-1/4</text>
<circle cx="817.2" cy="313.45" r="2.2" stroke="#fff" stroke-width="1.0" fill="none"/>
<text x="815.9" y="315.05" font-size="4.2" fill="#fff" font-weight="bold" text-anchor="start" >4</text>
<text x="822" y="315.65" font-size="6.0" fill="#fff" font-weight="bold" text-anchor="start" textLength="76" lengthAdjust="spacingAndGlyphs" font-style="italic" stroke="#fff" stroke-width="0.3">Cortacircuitos fusible 100A-10 kV</text>
<circle cx="817.2" cy="320.2" r="2.2" stroke="#fff" stroke-width="1.0" fill="none"/>
<text x="815.9" y="321.8" font-size="4.2" fill="#fff" font-weight="bold" text-anchor="start" >5</text>
<text x="822" y="322.4" font-size="6.0" fill="#fff" font-weight="bold" text-anchor="start" textLength="99" lengthAdjust="spacingAndGlyphs" font-style="italic" stroke="#fff" stroke-width="0.3">Alambre de cu desnudo, seccion cal 4 Awg.</text>
<circle cx="817.2" cy="326.95" r="2.2" stroke="#fff" stroke-width="1.0" fill="none"/>
<text x="815.9" y="328.55" font-size="4.2" fill="#fff" font-weight="bold" text-anchor="start" >6</text>
<text x="822" y="329.15" font-size="6.0" fill="#fff" font-weight="bold" text-anchor="start" textLength="126" lengthAdjust="spacingAndGlyphs" font-style="italic" stroke="#fff" stroke-width="0.3">Empalme cal/4/0 Awg 10 kV tipo sanit c/term. Ext. intemperie.</text>
<circle cx="817.2" cy="333.7" r="2.2" stroke="#fff" stroke-width="1.0" fill="none"/>
<text x="815.9" y="335.3" font-size="4.2" fill="#fff" font-weight="bold" text-anchor="start" >7</text>
<text x="822" y="335.9" font-size="6.0" fill="#fff" font-weight="bold" text-anchor="start" textLength="130" lengthAdjust="spacingAndGlyphs" font-style="italic" stroke="#fff" stroke-width="0.3">Cable de potencia XLPE 15kV con pantalla cal 4/0 AWG 15 kV</text>
<circle cx="817.2" cy="340.45" r="2.2" stroke="#fff" stroke-width="1.0" fill="none"/>
<text x="815.9" y="342.05" font-size="4.2" fill="#fff" font-weight="bold" text-anchor="start" >8</text>
<text x="822" y="342.65" font-size="6.0" fill="#fff" font-weight="bold" text-anchor="start" textLength="29" lengthAdjust="spacingAndGlyphs" font-style="italic" stroke="#fff" stroke-width="0.3">Grapa de 3/4"</text>
<circle cx="817.2" cy="347.2" r="2.2" stroke="#fff" stroke-width="1.0" fill="none"/>
<text x="815.9" y="348.8" font-size="4.2" fill="#fff" font-weight="bold" text-anchor="start" >9</text>
<text x="822" y="349.4" font-size="6.0" fill="#fff" font-weight="bold" text-anchor="start" textLength="75" lengthAdjust="spacingAndGlyphs" font-style="italic" stroke="#fff" stroke-width="0.3">Tubo bituflex de 4" para bajante</text>
<circle cx="817.2" cy="353.95" r="2.2" stroke="#fff" stroke-width="1.0" fill="none"/>
<text x="815.9" y="355.55" font-size="4.2" fill="#fff" font-weight="bold" text-anchor="start" >1</text>
<text x="822" y="356.15" font-size="6.0" fill="#fff" font-weight="bold" text-anchor="start" textLength="19" lengthAdjust="spacingAndGlyphs" font-style="italic" stroke="#fff" stroke-width="0.3">Aislador</text>
<circle cx="817.2" cy="360.7" r="2.2" stroke="#fff" stroke-width="1.0" fill="none"/>
<text x="815.9" y="362.3" font-size="4.2" fill="#fff" font-weight="bold" text-anchor="start" >1</text>
<text x="822" y="362.9" font-size="6.0" fill="#fff" font-weight="bold" text-anchor="start" textLength="119" lengthAdjust="spacingAndGlyphs" font-style="italic" stroke="#fff" stroke-width="0.3">Varilla copperweld 5/8 x 2,40m. Nuc. COPPERWELD.</text>
<circle cx="817.2" cy="367.45" r="2.2" stroke="#fff" stroke-width="1.0" fill="none"/>
<text x="815.9" y="369.05" font-size="4.2" fill="#fff" font-weight="bold" text-anchor="start" >1</text>
<text x="822" y="369.65" font-size="6.0" fill="#fff" font-weight="bold" text-anchor="start" textLength="77" lengthAdjust="spacingAndGlyphs" font-style="italic" stroke="#fff" stroke-width="0.3">Conector para varilla copperweld.</text>
<defs><filter id="bblur" x="-5%" y="-5%" width="110%" height="110%"><feGaussianBlur stdDeviation="0.8"/></filter></defs>
<g filter="url(#bblur)">
<path d="M1013.7,48.7 L1013.7,86 L1056.4,86 L1056.4,48.7" stroke="#2222d0" stroke-width="1.9800000000000002" fill="none" stroke-linejoin="miter"/>
<path d="M1019.4,49.8 L1051.2,49.8 L1051.2,57.4 L1019.4,57.4 Z" stroke="#2222d0" stroke-width="2.16" fill="none" stroke-linejoin="miter"/>
<path d="M1035.3,49.8 L1035.3,57.4" stroke="#2222d0" stroke-width="1.62" fill="none" stroke-linejoin="miter"/>
<path d="M1013.7,57.6 L1056.4,57.6" stroke="#2222d0" stroke-width="2.3400000000000003" fill="none" stroke-linejoin="miter"/>
<path d="M1020.7,64.4 L1049.5,64.4 L1049.5,78.8 L1020.7,78.8 Z" stroke="#2222d0" stroke-width="1.26" fill="none" stroke-linejoin="miter"/>
<path d="M1056.4,52.6 L1105.1,52.6 L1105.1,85.6 L1056.4,85.6 Z" stroke="#2222d0" stroke-width="2.3400000000000003" fill="none" stroke-linejoin="miter"/>
<path d="M1092.3,63.1 L1099,63.1 L1099,67 L1092.3,67 Z" stroke="#2222d0" stroke-width="1.8" fill="none" stroke-linejoin="miter"/>
<path d="M1092.3,70.2 L1099,70.2 L1099,74.2 L1092.3,74.2 Z" stroke="#2222d0" stroke-width="1.8" fill="none" stroke-linejoin="miter"/>
<path d="M1074.5,74.5 L1083,74.5" stroke="#2222d0" stroke-width="1.62" fill="none" stroke-linejoin="miter"/>
</g>
<path d="M1013.7,48.7 L1013.7,86 L1056.4,86 L1056.4,48.7" stroke="#2020c0" stroke-width="0.8" fill="none" opacity="0.6"/>
<path d="M1019.4,49.8 L1051.2,49.8 L1051.2,57.4 L1019.4,57.4 Z" stroke="#2020c0" stroke-width="0.8" fill="none" opacity="0.6"/>
<path d="M1035.3,49.8 L1035.3,57.4" stroke="#2020c0" stroke-width="0.8" fill="none" opacity="0.6"/>
<path d="M1013.7,57.6 L1056.4,57.6" stroke="#2020c0" stroke-width="0.8" fill="none" opacity="0.6"/>
<path d="M1020.7,64.4 L1049.5,64.4 L1049.5,78.8 L1020.7,78.8 Z" stroke="#2020c0" stroke-width="0.8" fill="none" opacity="0.6"/>
<path d="M1056.4,52.6 L1105.1,52.6 L1105.1,85.6 L1056.4,85.6 Z" stroke="#2020c0" stroke-width="0.8" fill="none" opacity="0.6"/>
<path d="M1092.3,63.1 L1099,63.1 L1099,67 L1092.3,67 Z" stroke="#2020c0" stroke-width="0.8" fill="none" opacity="0.6"/>
<path d="M1092.3,70.2 L1099,70.2 L1099,74.2 L1092.3,74.2 Z" stroke="#2020c0" stroke-width="0.8" fill="none" opacity="0.6"/>
<path d="M1074.5,74.5 L1083,74.5" stroke="#2020c0" stroke-width="0.8" fill="none" opacity="0.6"/>
<text x="1022.9" y="47.6" font-size="5.4" fill="#fff" font-weight="bold" text-anchor="start" textLength="25.7" lengthAdjust="spacingAndGlyphs" stroke="#fff" stroke-width="0.3">Generador 500 KVA</text>
<text x="1066.3" y="47.4" font-size="5.4" fill="#fff" font-weight="bold" text-anchor="start" textLength="30.1" lengthAdjust="spacingAndGlyphs" stroke="#fff" stroke-width="0.3">Transformador 45 KVA</text>
<rect x="1022" y="66.2" width="25.7" height="10.9" fill="#fff" />
<rect x="1026.5" y="69" width="1.0" height="1" fill="#000" />
<rect x="1037" y="68.5" width="3" height="2.5" fill="#000" />
<rect x="1041.5" y="68.5" width="1.5" height="2.5" fill="#000" />
<rect x="1044" y="68.5" width="2" height="4.5" fill="#000" />
<rect x="1030" y="73.5" width="8" height="1.0" fill="#000" />
<rect x="1037.5" y="72" width="2.5" height="2" fill="#000" />
<rect x="1049.5" y="70.5" width="5.0" height="5.0" stroke="#fff" stroke-width="1.0" fill="none" />
<rect x="1070.5" y="60.5" width="32.0" height="17.0" stroke="#fff" stroke-width="1.4" fill="none" />
<rect x="1072.5" y="61.5" width="17.0" height="15.0" stroke="#fff" stroke-width="1.0" fill="none" />
<rect x="1075" y="66.1" width="13.5" height="4.4" fill="#fff" />
<line x1="1073.5" y1="60" x2="1073.5" y2="80" stroke="#fff" stroke-width="1.0" />
<line x1="1090.5" y1="60" x2="1090.5" y2="77.5" stroke="#fff" stroke-width="1.2" />
<line x1="1075" y1="80.5" x2="1087" y2="80.5" stroke="#fff" stroke-width="1.0" />
<line x1="1069.5" y1="64" x2="1069.5" y2="74" stroke="#fff" stroke-width="1.2" />
<rect x="1012.6" y="60" width="2.2" height="23.2" fill="#c050c8" />
<rect x="1055" y="64.4" width="2.8" height="14.8" fill="#b040b8" />
<line x1="1012.5" y1="60.5" x2="1012.5" y2="82.8" stroke="#fff" stroke-width="1.0" />
<line x1="1011" y1="60.5" x2="1013.5" y2="60.5" stroke="#fff" stroke-width="1.0" />
<line x1="1011" y1="82.5" x2="1013.5" y2="82.5" stroke="#fff" stroke-width="1.0" />
<rect x="1010.5" y="70" width="1.5" height="3" fill="#fff" />
<line x1="1016.5" y1="49.2" x2="1016.5" y2="57.4" stroke="#fff" stroke-width="1.0" />
<line x1="1015.2" y1="49.5" x2="1017.6" y2="49.5" stroke="#fff" stroke-width="1.0" />
<line x1="1015.2" y1="57.5" x2="1017.6" y2="57.5" stroke="#fff" stroke-width="1.0" />
<rect x="1016.5" y="52" width="1.5" height="3" fill="#fff" />
<line x1="1108.5" y1="53" x2="1108.5" y2="86.6" stroke="#fff" stroke-width="1.0" />
<line x1="1106.5" y1="53.5" x2="1109" y2="53.5" stroke="#fff" stroke-width="1.0" />
<line x1="1106.5" y1="86.5" x2="1109" y2="86.5" stroke="#fff" stroke-width="1.0" />
<rect x="1108.5" y="68" width="1.3" height="3" fill="#fff" />
<line x1="1014.2" y1="90.5" x2="1104.7" y2="90.5" stroke="#fff" stroke-width="1.0" />
<line x1="1014.5" y1="87.5" x2="1014.5" y2="91.5" stroke="#fff" stroke-width="1.0" />
<line x1="1056.5" y1="87.5" x2="1056.5" y2="91.5" stroke="#fff" stroke-width="1.0" />
<line x1="1104.5" y1="87.5" x2="1104.5" y2="91.5" stroke="#fff" stroke-width="1.0" />
<rect x="1032.5" y="91" width="5.0" height="1.3" fill="#fff" />
<rect x="1078" y="91" width="5" height="1.3" fill="#fff" />
<path d="M1034.5,58.5 L1036,58.5 L1036,64" stroke="#fff" stroke-width="1.0" fill="none" />
<path d="M1035.5,79 L1036.5,79 L1036.5,84.5 L1035,84.5" stroke="#fff" stroke-width="1.0" fill="none" />
<line x1="1057.8" y1="66.5" x2="1059.5" y2="66.5" stroke="#fff" stroke-width="1.0" />
<line x1="1059.5" y1="66" x2="1059.5" y2="78" stroke="#fff" stroke-width="1.0" />
<line x1="1057.8" y1="78.5" x2="1059.5" y2="78.5" stroke="#fff" stroke-width="1.0" />
<rect x="1016" y="80" width="5" height="1" fill="#fff" />
<rect x="1016" y="70" width="5" height="1" fill="#fff" />
<rect x="1030.5" y="48.3" width="4.5" height="1.0" fill="#fff" />
<g filter="url(#bblur)">
<path d="M1013.7,109.2 L1013.7,146.5 L1056.4,146.5 L1056.4,109.2" stroke="#2222d0" stroke-width="1.9800000000000002" fill="none" stroke-linejoin="miter"/>
<path d="M1019.4,110.3 L1051.2,110.3 L1051.2,117.9 L1019.4,117.9 Z" stroke="#2222d0" stroke-width="2.16" fill="none" stroke-linejoin="miter"/>
<path d="M1035.3,110.3 L1035.3,117.9" stroke="#2222d0" stroke-width="1.62" fill="none" stroke-linejoin="miter"/>
<path d="M1013.7,118.1 L1056.4,118.1" stroke="#2222d0" stroke-width="2.3400000000000003" fill="none" stroke-linejoin="miter"/>
<path d="M1020.7,124.9 L1049.5,124.9 L1049.5,139.3 L1020.7,139.3 Z" stroke="#2222d0" stroke-width="1.26" fill="none" stroke-linejoin="miter"/>
<path d="M1056.4,113.1 L1105.1,113.1 L1105.1,146.1 L1056.4,146.1 Z" stroke="#2222d0" stroke-width="2.3400000000000003" fill="none" stroke-linejoin="miter"/>
<path d="M1092.3,123.6 L1099,123.6 L1099,127.5 L1092.3,127.5 Z" stroke="#2222d0" stroke-width="1.8" fill="none" stroke-linejoin="miter"/>
<path d="M1092.3,130.7 L1099,130.7 L1099,134.7 L1092.3,134.7 Z" stroke="#2222d0" stroke-width="1.8" fill="none" stroke-linejoin="miter"/>
<path d="M1074.5,135.0 L1083,135.0" stroke="#2222d0" stroke-width="1.62" fill="none" stroke-linejoin="miter"/>
</g>
<path d="M1013.7,109.2 L1013.7,146.5 L1056.4,146.5 L1056.4,109.2" stroke="#2020c0" stroke-width="0.8" fill="none" opacity="0.6"/>
<path d="M1019.4,110.3 L1051.2,110.3 L1051.2,117.9 L1019.4,117.9 Z" stroke="#2020c0" stroke-width="0.8" fill="none" opacity="0.6"/>
<path d="M1035.3,110.3 L1035.3,117.9" stroke="#2020c0" stroke-width="0.8" fill="none" opacity="0.6"/>
<path d="M1013.7,118.1 L1056.4,118.1" stroke="#2020c0" stroke-width="0.8" fill="none" opacity="0.6"/>
<path d="M1020.7,124.9 L1049.5,124.9 L1049.5,139.3 L1020.7,139.3 Z" stroke="#2020c0" stroke-width="0.8" fill="none" opacity="0.6"/>
<path d="M1056.4,113.1 L1105.1,113.1 L1105.1,146.1 L1056.4,146.1 Z" stroke="#2020c0" stroke-width="0.8" fill="none" opacity="0.6"/>
<path d="M1092.3,123.6 L1099,123.6 L1099,127.5 L1092.3,127.5 Z" stroke="#2020c0" stroke-width="0.8" fill="none" opacity="0.6"/>
<path d="M1092.3,130.7 L1099,130.7 L1099,134.7 L1092.3,134.7 Z" stroke="#2020c0" stroke-width="0.8" fill="none" opacity="0.6"/>
<path d="M1074.5,135.0 L1083,135.0" stroke="#2020c0" stroke-width="0.8" fill="none" opacity="0.6"/>
<text x="1022.9" y="108.1" font-size="5.4" fill="#fff" font-weight="bold" text-anchor="start" textLength="25.7" lengthAdjust="spacingAndGlyphs" stroke="#fff" stroke-width="0.3">Generador 500 KVA</text>
<text x="1066.3" y="107.9" font-size="5.4" fill="#fff" font-weight="bold" text-anchor="start" textLength="30.1" lengthAdjust="spacingAndGlyphs" stroke="#fff" stroke-width="0.3">Transformador 45 KVA</text>
<rect x="1022" y="126.7" width="25.7" height="10.9" fill="#fff" />
<rect x="1026.5" y="129.5" width="1.0" height="1.0" fill="#000" />
<rect x="1037" y="129.0" width="3" height="2.5" fill="#000" />
<rect x="1041.5" y="129.0" width="1.5" height="2.5" fill="#000" />
<rect x="1044" y="129.0" width="2" height="4.5" fill="#000" />
<rect x="1030" y="134.0" width="8" height="1.0" fill="#000" />
<rect x="1037.5" y="132.5" width="2.5" height="2.0" fill="#000" />
<rect x="1049.5" y="131.5" width="5.0" height="5.0" stroke="#fff" stroke-width="1.0" fill="none" />
<rect x="1070.5" y="120.5" width="32.0" height="18.0" stroke="#fff" stroke-width="1.4" fill="none" />
<rect x="1072.5" y="121.5" width="17.0" height="16.0" stroke="#fff" stroke-width="1.0" fill="none" />
<rect x="1075" y="126.6" width="13.5" height="4.4" fill="#fff" />
<line x1="1073.5" y1="120.5" x2="1073.5" y2="140.5" stroke="#fff" stroke-width="1.0" />
<line x1="1090.5" y1="120.5" x2="1090.5" y2="138.0" stroke="#fff" stroke-width="1.2" />
<line x1="1075" y1="140.5" x2="1087" y2="140.5" stroke="#fff" stroke-width="1.0" />
<line x1="1069.5" y1="124.5" x2="1069.5" y2="134.5" stroke="#fff" stroke-width="1.2" />
<rect x="1012.6" y="120.5" width="2.2" height="23.2" fill="#c050c8" />
<rect x="1055" y="124.9" width="2.8" height="14.8" fill="#b040b8" />
<line x1="1012.5" y1="121.0" x2="1012.5" y2="143.3" stroke="#fff" stroke-width="1.0" />
<line x1="1011" y1="121.5" x2="1013.5" y2="121.5" stroke="#fff" stroke-width="1.0" />
<line x1="1011" y1="143.5" x2="1013.5" y2="143.5" stroke="#fff" stroke-width="1.0" />
<rect x="1010.5" y="130.5" width="1.5" height="3.0" fill="#fff" />
<line x1="1016.5" y1="109.7" x2="1016.5" y2="117.9" stroke="#fff" stroke-width="1.0" />
<line x1="1015.2" y1="109.5" x2="1017.6" y2="109.5" stroke="#fff" stroke-width="1.0" />
<line x1="1015.2" y1="117.5" x2="1017.6" y2="117.5" stroke="#fff" stroke-width="1.0" />
<rect x="1016.5" y="112.5" width="1.5" height="3.0" fill="#fff" />
<line x1="1108.5" y1="113.5" x2="1108.5" y2="147.1" stroke="#fff" stroke-width="1.0" />
<line x1="1106.5" y1="113.5" x2="1109" y2="113.5" stroke="#fff" stroke-width="1.0" />
<line x1="1106.5" y1="147.5" x2="1109" y2="147.5" stroke="#fff" stroke-width="1.0" />
<rect x="1108.5" y="128.5" width="1.3" height="3.0" fill="#fff" />
<line x1="1014.2" y1="150.5" x2="1104.7" y2="150.5" stroke="#fff" stroke-width="1.0" />
<line x1="1014.5" y1="148.0" x2="1014.5" y2="152.0" stroke="#fff" stroke-width="1.0" />
<line x1="1056.5" y1="148.0" x2="1056.5" y2="152.0" stroke="#fff" stroke-width="1.0" />
<line x1="1104.5" y1="148.0" x2="1104.5" y2="152.0" stroke="#fff" stroke-width="1.0" />
<rect x="1032.5" y="151.5" width="5.0" height="1.3" fill="#fff" />
<rect x="1078" y="151.5" width="5" height="1.3" fill="#fff" />
<path d="M1034.5,119.0 L1036,119.0 L1036,124.5" stroke="#fff" stroke-width="1.0" fill="none" />
<path d="M1035.5,139.5 L1036.5,139.5 L1036.5,145.0 L1035,145.0" stroke="#fff" stroke-width="1.0" fill="none" />
<line x1="1057.8" y1="126.5" x2="1059.5" y2="126.5" stroke="#fff" stroke-width="1.0" />
<line x1="1059.5" y1="126.5" x2="1059.5" y2="138.5" stroke="#fff" stroke-width="1.0" />
<line x1="1057.8" y1="138.5" x2="1059.5" y2="138.5" stroke="#fff" stroke-width="1.0" />
<rect x="1016" y="140" width="5" height="1" fill="#fff" />
<rect x="1016" y="130" width="5" height="1" fill="#fff" />
<rect x="1030.5" y="108.8" width="4.5" height="1.0" fill="#fff" />
<g filter="url(#bblur)">
<path d="M1009.5,170.7 L1009.5,208 L1056.4,208 L1056.4,170.7" stroke="#2222d0" stroke-width="1.9800000000000002" fill="none" stroke-linejoin="miter"/>
<path d="M1023.8,171.8 L1057.5,171.8 L1057.5,179.4 L1023.8,179.4 Z" stroke="#2222d0" stroke-width="2.16" fill="none" stroke-linejoin="miter"/>
<path d="M1040.65,171.8 L1040.65,179.4" stroke="#2222d0" stroke-width="1.62" fill="none" stroke-linejoin="miter"/>
<path d="M1009.5,179.6 L1056.4,179.6" stroke="#2222d0" stroke-width="2.3400000000000003" fill="none" stroke-linejoin="miter"/>
<path d="M1020.7,186.4 L1049.5,186.4 L1049.5,200.8 L1020.7,200.8 Z" stroke="#2222d0" stroke-width="1.26" fill="none" stroke-linejoin="miter"/>
<path d="M1056.4,174.6 L1105.1,174.6 L1105.1,207.6 L1056.4,207.6 Z" stroke="#2222d0" stroke-width="2.3400000000000003" fill="none" stroke-linejoin="miter"/>
<path d="M1092.3,185.1 L1099,185.1 L1099,189 L1092.3,189 Z" stroke="#2222d0" stroke-width="1.8" fill="none" stroke-linejoin="miter"/>
<path d="M1092.3,192.2 L1099,192.2 L1099,196.2 L1092.3,196.2 Z" stroke="#2222d0" stroke-width="1.8" fill="none" stroke-linejoin="miter"/>
<path d="M1074.5,196.5 L1083,196.5" stroke="#2222d0" stroke-width="1.62" fill="none" stroke-linejoin="miter"/>
</g>
<path d="M1009.5,170.7 L1009.5,208 L1056.4,208 L1056.4,170.7" stroke="#2020c0" stroke-width="0.8" fill="none" opacity="0.6"/>
<path d="M1023.8,171.8 L1057.5,171.8 L1057.5,179.4 L1023.8,179.4 Z" stroke="#2020c0" stroke-width="0.8" fill="none" opacity="0.6"/>
<path d="M1040.65,171.8 L1040.65,179.4" stroke="#2020c0" stroke-width="0.8" fill="none" opacity="0.6"/>
<path d="M1009.5,179.6 L1056.4,179.6" stroke="#2020c0" stroke-width="0.8" fill="none" opacity="0.6"/>
<path d="M1020.7,186.4 L1049.5,186.4 L1049.5,200.8 L1020.7,200.8 Z" stroke="#2020c0" stroke-width="0.8" fill="none" opacity="0.6"/>
<path d="M1056.4,174.6 L1105.1,174.6 L1105.1,207.6 L1056.4,207.6 Z" stroke="#2020c0" stroke-width="0.8" fill="none" opacity="0.6"/>
<path d="M1092.3,185.1 L1099,185.1 L1099,189 L1092.3,189 Z" stroke="#2020c0" stroke-width="0.8" fill="none" opacity="0.6"/>
<path d="M1092.3,192.2 L1099,192.2 L1099,196.2 L1092.3,196.2 Z" stroke="#2020c0" stroke-width="0.8" fill="none" opacity="0.6"/>
<path d="M1074.5,196.5 L1083,196.5" stroke="#2020c0" stroke-width="0.8" fill="none" opacity="0.6"/>
<text x="1013" y="169.6" font-size="5.4" fill="#fff" font-weight="bold" text-anchor="start" textLength="25.7" lengthAdjust="spacingAndGlyphs" stroke="#fff" stroke-width="0.3">Generador 500 KVA</text>
<text x="1066.3" y="169.4" font-size="5.4" fill="#fff" font-weight="bold" text-anchor="start" textLength="30.1" lengthAdjust="spacingAndGlyphs" stroke="#fff" stroke-width="0.3">Transformador 45 KVA</text>
<rect x="1022" y="188.2" width="25.7" height="10.9" fill="#fff" />
<rect x="1026.5" y="191" width="1.0" height="1" fill="#000" />
<rect x="1037" y="190.5" width="3" height="2.5" fill="#000" />
<rect x="1041.5" y="190.5" width="1.5" height="2.5" fill="#000" />
<rect x="1044" y="190.5" width="2" height="4.5" fill="#000" />
<rect x="1030" y="195.5" width="8" height="1.0" fill="#000" />
<rect x="1037.5" y="194" width="2.5" height="2" fill="#000" />
<rect x="1049.5" y="192.5" width="5.0" height="5.0" stroke="#fff" stroke-width="1.0" fill="none" />
<rect x="1070.5" y="182.5" width="32.0" height="17.0" stroke="#fff" stroke-width="1.4" fill="none" />
<rect x="1072.5" y="183.5" width="17.0" height="15.0" stroke="#fff" stroke-width="1.0" fill="none" />
<rect x="1075" y="188.1" width="13.5" height="4.4" fill="#fff" />
<line x1="1073.5" y1="182" x2="1073.5" y2="202" stroke="#fff" stroke-width="1.0" />
<line x1="1090.5" y1="182" x2="1090.5" y2="199.5" stroke="#fff" stroke-width="1.2" />
<line x1="1075" y1="202.5" x2="1087" y2="202.5" stroke="#fff" stroke-width="1.0" />
<line x1="1069.5" y1="186" x2="1069.5" y2="196" stroke="#fff" stroke-width="1.2" />
<rect x="1012.6" y="182" width="2.2" height="23.2" fill="#c050c8" />
<rect x="1055" y="186.4" width="2.8" height="14.8" fill="#b040b8" />
<line x1="1012.5" y1="182.5" x2="1012.5" y2="204.8" stroke="#fff" stroke-width="1.0" />
<line x1="1011" y1="182.5" x2="1013.5" y2="182.5" stroke="#fff" stroke-width="1.0" />
<line x1="1011" y1="204.5" x2="1013.5" y2="204.5" stroke="#fff" stroke-width="1.0" />
<rect x="1010.5" y="192" width="1.5" height="3" fill="#fff" />
<line x1="1016.5" y1="171.2" x2="1016.5" y2="179.4" stroke="#fff" stroke-width="1.0" />
<line x1="1015.2" y1="171.5" x2="1017.6" y2="171.5" stroke="#fff" stroke-width="1.0" />
<line x1="1015.2" y1="179.5" x2="1017.6" y2="179.5" stroke="#fff" stroke-width="1.0" />
<rect x="1016.5" y="174" width="1.5" height="3" fill="#fff" />
<line x1="1108.5" y1="175" x2="1108.5" y2="208.6" stroke="#fff" stroke-width="1.0" />
<line x1="1106.5" y1="175.5" x2="1109" y2="175.5" stroke="#fff" stroke-width="1.0" />
<line x1="1106.5" y1="208.5" x2="1109" y2="208.5" stroke="#fff" stroke-width="1.0" />
<rect x="1108.5" y="190" width="1.3" height="3" fill="#fff" />
<line x1="1014.2" y1="212.5" x2="1104.7" y2="212.5" stroke="#fff" stroke-width="1.0" />
<line x1="1014.5" y1="209.5" x2="1014.5" y2="213.5" stroke="#fff" stroke-width="1.0" />
<line x1="1056.5" y1="209.5" x2="1056.5" y2="213.5" stroke="#fff" stroke-width="1.0" />
<line x1="1104.5" y1="209.5" x2="1104.5" y2="213.5" stroke="#fff" stroke-width="1.0" />
<rect x="1032.5" y="213" width="5.0" height="1.3" fill="#fff" />
<rect x="1078" y="213" width="5" height="1.3" fill="#fff" />
<path d="M1034.5,180.5 L1036,180.5 L1036,186" stroke="#fff" stroke-width="1.0" fill="none" />
<path d="M1035.5,201 L1036.5,201 L1036.5,206.5 L1035,206.5" stroke="#fff" stroke-width="1.0" fill="none" />
<line x1="1057.8" y1="188.5" x2="1059.5" y2="188.5" stroke="#fff" stroke-width="1.0" />
<line x1="1059.5" y1="188" x2="1059.5" y2="200" stroke="#fff" stroke-width="1.0" />
<line x1="1057.8" y1="200.5" x2="1059.5" y2="200.5" stroke="#fff" stroke-width="1.0" />
<rect x="1016" y="202" width="5" height="1" fill="#fff" />
<rect x="1016" y="192" width="5" height="1" fill="#fff" />
<rect x="1030.5" y="170.3" width="4.5" height="1.0" fill="#fff" />
<rect x="1035.5" y="264.5" width="57.0" height="34.0" stroke="#fff" stroke-width="1.0" fill="none" />
<rect x="1048.5" y="268.5" width="42.0" height="27.0" stroke="#fff" stroke-width="1.0" fill="none" />
<line x1="1037.5" y1="264.3" x2="1037.5" y2="298.3" stroke="#fff" stroke-width="1.0" />
<line x1="1038.5" y1="266" x2="1038.5" y2="296" stroke="#fff" stroke-width="1.0" />
<path d="M1048.5,270 Q1041,281.3 1048.5,292.5" stroke="#fff" stroke-width="1.0" fill="none" />
<path d="M1090.8,270 Q1098.5,281.3 1090.8,292.5" stroke="#fff" stroke-width="1.0" fill="none" />
<path d="M1047,268.5 Q1038.5,281.3 1047,294" stroke="#fff" stroke-width="1.0" fill="none" />
<line x1="1034.1" y1="281.5" x2="1100" y2="281.5" stroke="#fff" stroke-width="1.0" />
<rect x="1034" y="279.5" width="2.5" height="3.8" fill="#fff" />
<line x1="1048.5" y1="300.5" x2="1092.8" y2="300.5" stroke="#fff" stroke-width="1.0" />
<line x1="1048.5" y1="303.5" x2="1092.8" y2="303.5" stroke="#fff" stroke-width="1.0" />
<line x1="1048.5" y1="298" x2="1048.5" y2="304" stroke="#fff" stroke-width="1.0" />
<line x1="1092.5" y1="298" x2="1092.5" y2="304" stroke="#fff" stroke-width="1.0" />
<line x1="1070.5" y1="296" x2="1070.5" y2="303" stroke="#fff" stroke-width="1.0" />
<rect x="1053" y="296" width="1" height="1" fill="#fff" />
<rect x="1058.5" y="296" width="1.0" height="1" fill="#fff" />
<rect x="1064" y="296" width="1" height="1" fill="#fff" />
<rect x="1076" y="296" width="1" height="1" fill="#fff" />
<rect x="1082" y="296" width="1" height="1" fill="#fff" />
<line x1="1055.5" y1="268.4" x2="1055.5" y2="295.2" stroke="#fff" stroke-width="1.0" />
<line x1="1059.5" y1="269" x2="1059.5" y2="295" stroke="#fff" stroke-width="1.0" />
<line x1="1082.5" y1="268.4" x2="1082.5" y2="281" stroke="#fff" stroke-width="1.0" />
<rect x="1075.5" y="274.5" width="13.0" height="14.0" stroke="#fff" stroke-width="1.0" fill="none" />
<rect x="1078.5" y="276.5" width="7.0" height="10.0" stroke="#fff" stroke-width="1.0" fill="none" />
<rect x="1079" y="278.5" width="6" height="5.0" fill="#fff" />
<path d="M1053,287 Q1058,283.5 1070,285 L1070,287" stroke="#fff" stroke-width="1.0" fill="none" />
<rect x="1057" y="289.5" width="19" height="1.5" fill="#fff" />
<rect x="1052" y="293.5" width="39" height="2.0" fill="#fff" />
<line x1="1040" y1="286.5" x2="1046" y2="286.5" stroke="#fff" stroke-width="1.0" />
<line x1="1040" y1="276.5" x2="1046" y2="276.5" stroke="#fff" stroke-width="1.0" />
<rect x="1045" y="260" width="14" height="2" fill="#fff" />
<rect x="1063" y="261" width="7" height="1" fill="#fff" />
<rect x="1087" y="261" width="8" height="2" fill="#fff" />
<rect x="1097" y="261" width="6" height="2" fill="#fff" />
<line x1="1083" y1="263" x2="1087" y2="262.3" stroke="#fff" stroke-width="1.0" />
<rect x="1096" y="265" width="10" height="2" fill="#fff" />
<rect x="1107" y="265" width="7" height="2" fill="#fff" />
<line x1="1092.8" y1="266.5" x2="1096" y2="266.5" stroke="#fff" stroke-width="1.0" />
<line x1="1049.5" y1="264.3" x2="1049.5" y2="262" stroke="#fff" stroke-width="1.0" />
<path d="M1050,262.5 L1056,262.5 L1060,264.3" stroke="#fff" stroke-width="1.0" fill="none" />
<rect x="1060" y="265" width="14" height="1" fill="#fff" />
<rect x="1076" y="265" width="1" height="1" fill="#fff" />
<rect x="1063" y="269" width="14" height="1" fill="#fff" />
<rect x="1096" y="291" width="10" height="3" fill="#fff" />
<rect x="1107" y="291" width="7" height="3" fill="#fff" />
<rect x="1096" y="297" width="8" height="1" fill="#fff" />
<rect x="1106" y="297" width="8" height="1" fill="#fff" />
<line x1="1092.8" y1="292.5" x2="1096" y2="292.5" stroke="#fff" stroke-width="1.0" />
<rect x="1019" y="307" width="12" height="2" fill="#fff" />
<rect x="1032" y="307" width="7" height="2" fill="#fff" />
<rect x="1046" y="307" width="11" height="2" fill="#fff" />
<rect x="1058" y="307" width="2" height="2" fill="#fff" />
<line x1="1046.5" y1="304" x2="1046.5" y2="307" stroke="#fff" stroke-width="1.0" />
<line x1="1032" y1="303.5" x2="1047" y2="302" stroke="#fff" stroke-width="1.0" />
<rect x="1033" y="302" width="7" height="1" fill="#fff" />
<rect x="1042" y="302" width="3" height="1" fill="#fff" />
<path d="M1044,331.5 L1051,320 L1057.4,317.6 L1081.8,315.3 L1095.3,326.6 L1096.5,333.5 L1092.8,338.5 L1083,344.4 L1057.4,345.7 L1050.5,340.5 Z" stroke="#fff" stroke-width="1.2" fill="none" />
<path d="M1046.5,331.5 L1052.5,321.7 L1058,319.6 L1081,317.4 L1093.3,327.4 L1094.3,333.3 L1091.4,337.3 L1082.2,342.4 L1058,343.6 L1052,339 Z" stroke="#fff" stroke-width="1.0" fill="none" />
<circle cx="1070.1" cy="330" r="5.8" stroke="#fff" stroke-width="1.2" fill="none"/>
<circle cx="1070.1" cy="330" r="3" stroke="#fff" stroke-width="1.0" fill="none"/>
<rect x="1068.6" y="328.5" width="3.0" height="3.0" fill="#fff" />
<path d="M1063.5,323 L1066.5,323 L1068,325" stroke="#fff" stroke-width="1.0" fill="none" />
<rect x="1034.5" y="314.5" width="5.0" height="32.0" stroke="#fff" stroke-width="1.0" fill="none" />
<line x1="1036.5" y1="314.4" x2="1036.5" y2="346.6" stroke="#fff" stroke-width="1.0" />
<line x1="1039.6" y1="318.5" x2="1052" y2="318.5" stroke="#fff" stroke-width="1.0" />
<line x1="1039.6" y1="342.5" x2="1052" y2="342.5" stroke="#fff" stroke-width="1.0" />
<rect x="1041.5" y="324.5" width="6.0" height="13.0" stroke="#fff" stroke-width="1.0" fill="none" />
<rect x="1042" y="328" width="4.5" height="6" fill="#fff" />
<line x1="1023.5" y1="333.5" x2="1104.5" y2="333.5" stroke="#fff" stroke-width="1.0" />
<line x1="1023.5" y1="333.5" x2="1024.5" y2="336" stroke="#fff" stroke-width="1.0" />
<line x1="1103.5" y1="336" x2="1104.5" y2="333.5" stroke="#fff" stroke-width="1.0" />
<rect x="1033" y="331" width="2.5" height="5" fill="#fff" />
<rect x="1057.5" y="340.5" width="35.0" height="14.0" stroke="#fff" stroke-width="1.0" fill="none" />
<line x1="1070.5" y1="352" x2="1070.5" y2="354.4" stroke="#fff" stroke-width="1.0" />
<rect x="1083.5" y="342.5" width="6.0" height="8.0" stroke="#fff" stroke-width="1.0" fill="none" />
<rect x="1087" y="350" width="4" height="6" fill="#fff" />
<path d="M1057,317 L1058,313 L1060,316" stroke="#fff" stroke-width="1.0" fill="none" />
<rect x="1096.5" y="328.5" width="4.0" height="7.0" stroke="#fff" stroke-width="1.0" fill="none" />
<rect x="1097" y="329.5" width="2.5" height="3.5" fill="#fff" />
<rect x="1020" y="345" width="9" height="2" fill="#fff" />
<rect x="1019.1" y="348.3" width="28.3" height="4.4" fill="#fff" />
<rect x="1040" y="349.3" width="1" height="2.4" fill="#000" />
<rect x="1043" y="349.3" width="1" height="2.4" fill="#000" />
<rect x="1046" y="349.3" width="1" height="2.4" fill="#000" />
<rect x="1019.5" y="355.5" width="19.0" height="17.0" stroke="#fff" stroke-width="1.2" fill="none" />
<line x1="1023.5" y1="355.5" x2="1023.5" y2="372.1" stroke="#fff" stroke-width="1.0" />
<line x1="1019.7" y1="359.5" x2="1038.5" y2="359.5" stroke="#fff" stroke-width="1.0" />
<line x1="1019.7" y1="363.5" x2="1038.5" y2="363.5" stroke="#fff" stroke-width="1.0" />
<line x1="1019.7" y1="367.5" x2="1038.5" y2="367.5" stroke="#fff" stroke-width="1.0" />
<rect x="1026" y="357" width="6" height="1.5" fill="#fff" />
<rect x="1033" y="357" width="3" height="1.5" fill="#fff" />
<rect x="1025" y="361" width="12" height="1.5" fill="#fff" />
<rect x="1027" y="365" width="8" height="1.5" fill="#fff" />
<rect x="1025" y="369" width="5" height="2" fill="#fff" />
<rect x="1032" y="369" width="4" height="2" fill="#fff" />
<rect x="1042" y="355" width="4" height="1" fill="#fff" />
<rect x="1042" y="358" width="16" height="2" fill="#fff" />
<rect x="1059" y="358" width="9" height="2" fill="#fff" />
<rect x="1069" y="358" width="6" height="2" fill="#fff" />
<rect x="1042" y="362" width="7" height="3" fill="#fff" />
<rect x="1051" y="362" width="8" height="3" fill="#fff" />
<rect x="1060" y="362" width="15" height="3" fill="#fff" />
<rect x="1042" y="367" width="16" height="2" fill="#fff" />
<rect x="1059" y="367" width="15" height="2" fill="#fff" />
<rect x="1075" y="367" width="0" height="2" fill="#fff" />
<rect x="1079" y="358" width="10" height="3" fill="#fff" />
<rect x="1091" y="358" width="7" height="3" fill="#fff" />
<rect x="1099" y="358" width="12" height="3" fill="#fff" />
<rect x="1112" y="358" width="2" height="3" fill="#fff" />
<rect x="1079" y="365" width="11" height="3" fill="#fff" />
<rect x="1091" y="365" width="6" height="3" fill="#fff" />
<rect x="1099" y="365" width="13" height="3" fill="#fff" />
<rect x="1079" y="371" width="7" height="1" fill="#fff" />
<rect x="1087" y="371" width="14" height="1" fill="#fff" />
<rect x="1103" y="371" width="6" height="1" fill="#fff" />
<path d="M717,191.3 L714,187 Q713.5,185.2 716,185.2 L720.5,185.2 Q723.1,186.5 723.1,191.3" stroke="#fff" stroke-width="1.0" fill="none" />
<line x1="717.5" y1="191.3" x2="717.5" y2="217.5" stroke="#fff" stroke-width="1.0" />
<line x1="723.5" y1="191.3" x2="723.5" y2="217.5" stroke="#fff" stroke-width="1.0" />
<line x1="717.5" y1="221.9" x2="717.5" y2="317" stroke="#fff" stroke-width="1.0" />
<line x1="723.5" y1="221.9" x2="723.5" y2="317" stroke="#fff" stroke-width="1.0" />
<line x1="719.5" y1="238" x2="719.5" y2="317" stroke="#fff" stroke-width="1.0" />
<line x1="717" y1="196.5" x2="723.1" y2="196.5" stroke="#fff" stroke-width="1.0" />
<line x1="717" y1="201.5" x2="723.1" y2="201.5" stroke="#fff" stroke-width="1.0" />
<line x1="717" y1="204.5" x2="723.1" y2="204.5" stroke="#fff" stroke-width="1.0" />
<line x1="717" y1="221.5" x2="723.1" y2="221.5" stroke="#fff" stroke-width="1.0" />
<line x1="717" y1="234.5" x2="723.1" y2="234.5" stroke="#fff" stroke-width="1.0" />
<line x1="717" y1="237.5" x2="723.1" y2="237.5" stroke="#fff" stroke-width="1.0" />
<path d="M724.9,197 Q724.9,195.7 727,195.7 L732.5,195.7 Q734.5,195.7 734.5,197.5" stroke="#fff" stroke-width="1.0" fill="none" />
<line x1="724.5" y1="197" x2="724.5" y2="217.5" stroke="#fff" stroke-width="1.0" />
<line x1="734.5" y1="197" x2="734.5" y2="217.5" stroke="#fff" stroke-width="1.0" />
<line x1="724.5" y1="223.5" x2="724.5" y2="317" stroke="#fff" stroke-width="1.0" />
<line x1="734.5" y1="223.5" x2="734.5" y2="317" stroke="#fff" stroke-width="1.0" />
<path d="M724.9,223.5 Q725,222 727,222 L732.5,222 Q734.5,222 734.5,223.5" stroke="#fff" stroke-width="1.0" fill="none" />
<line x1="726.5" y1="238" x2="726.5" y2="317" stroke="#fff" stroke-width="1.0" />
<path d="M717,217.5 L718.5,218.3 L720,217.5 L721.5,218.3 L723.1,217.5" stroke="#fff" stroke-width="1.0" fill="none" />
<path d="M724.9,217.5 L727,218.3 L729.5,217.5 L732,218.3 L734.5,217.5" stroke="#fff" stroke-width="1.0" fill="none" />
<line x1="724.9" y1="200.5" x2="734.5" y2="200.5" stroke="#fff" stroke-width="1.0" />
<line x1="724.9" y1="204.5" x2="734.5" y2="204.5" stroke="#fff" stroke-width="1.0" />
<line x1="724.9" y1="234.5" x2="734.5" y2="234.5" stroke="#fff" stroke-width="1.0" />
<line x1="724.9" y1="238.5" x2="734.5" y2="238.5" stroke="#fff" stroke-width="1.0" />
<line x1="737.5" y1="251.5" x2="737.5" y2="317" stroke="#fff" stroke-width="1.0" />
<line x1="734.5" y1="202.7" x2="746.7" y2="219.2" stroke="#fff" stroke-width="1.0" />
<line x1="734.5" y1="235.8" x2="746.7" y2="219.2" stroke="#fff" stroke-width="1.0" />
<rect x="748" y="218" width="6" height="2" fill="#fff" />
<rect x="684" y="188" width="7" height="2" fill="#fff" />
<rect x="693" y="188" width="7" height="2" fill="#fff" />
<line x1="700" y1="189.5" x2="711.8" y2="189.5" stroke="#fff" stroke-width="1.0" />
<path d="M710,188 L712,189 L710,190 Z" stroke="#fff" stroke-width="1.0" fill="#fff" />
<rect x="664" y="212" width="17" height="2" fill="#fff" />
<rect x="683" y="212" width="5" height="2" fill="#fff" />
<rect x="664" y="214" width="12" height="2" fill="#fff" />
<rect x="677" y="214" width="3" height="2" fill="#fff" />
<line x1="688.5" y1="212.5" x2="716.2" y2="212.5" stroke="#fff" stroke-width="1.0" />
<rect x="664" y="226" width="14" height="2" fill="#fff" />
<rect x="679" y="226" width="10" height="2" fill="#fff" />
<rect x="690" y="226" width="8" height="2" fill="#fff" />
<rect x="664" y="228" width="15" height="2" fill="#fff" />
<rect x="681" y="228" width="9" height="2" fill="#fff" />
<rect x="664" y="231" width="9" height="2" fill="#fff" />
<rect x="674" y="231" width="2" height="2" fill="#fff" />
<line x1="698" y1="226.5" x2="700.5" y2="226.5" stroke="#fff" stroke-width="1.0" />
<line x1="700.5" y1="226.3" x2="716.2" y2="255" stroke="#fff" stroke-width="1.0" />
<rect x="664" y="239" width="10" height="2" fill="#fff" />
<rect x="675" y="239" width="14" height="2" fill="#fff" />
<rect x="691" y="239" width="7" height="2" fill="#fff" />
<rect x="664" y="242" width="7" height="2" fill="#fff" />
<rect x="672" y="242" width="15" height="2" fill="#fff" />
<rect x="688" y="242" width="10" height="2" fill="#fff" />
<rect x="664" y="245" width="13" height="2" fill="#fff" />
<rect x="678" y="245" width="6" height="2" fill="#fff" />
<line x1="700" y1="239.5" x2="702" y2="239.5" stroke="#fff" stroke-width="1.0" />
<line x1="702" y1="239.5" x2="715.5" y2="256.5" stroke="#fff" stroke-width="1.0" />
<rect x="664" y="256" width="9" height="2" fill="#fff" />
<rect x="674" y="256" width="16" height="2" fill="#fff" />
<rect x="691" y="256" width="1" height="2" fill="#fff" />
<line x1="660.8" y1="256.5" x2="663.5" y2="256.5" stroke="#fff" stroke-width="1.0" />
<line x1="660.8" y1="256.7" x2="689" y2="290" stroke="#fff" stroke-width="1.0" />
<line x1="723.1" y1="251.5" x2="747.6" y2="251.5" stroke="#fff" stroke-width="1.0" />
<line x1="746.5" y1="250.6" x2="746.5" y2="276" stroke="#fff" stroke-width="1.0" />
<line x1="745" y1="250.5" x2="747.5" y2="250.5" stroke="#fff" stroke-width="1.0" />
<rect x="746" y="258" width="1.5" height="4" fill="#fff" />
<rect x="745.3" y="265" width="1.5" height="3" fill="#fff" />
<line x1="636.1" y1="276.5" x2="769.5" y2="276.5" stroke="#fff" stroke-width="1.0" />
<line x1="636.1" y1="284.5" x2="769.5" y2="284.5" stroke="#fff" stroke-width="1.0" />
<line x1="636.5" y1="275.5" x2="636.5" y2="285" stroke="#fff" stroke-width="1.0" />
<line x1="769.5" y1="275.5" x2="769.5" y2="285" stroke="#fff" stroke-width="1.0" />
<rect x="748" y="274" width="12" height="1" fill="#fff" />
<rect x="761" y="274" width="7" height="1" fill="#fff" />
<line x1="740.5" y1="272" x2="740.5" y2="276.5" stroke="#fff" stroke-width="1.0" />
<line x1="644.5" y1="284" x2="644.5" y2="305.8" stroke="#fff" stroke-width="1.0" />
<line x1="653.5" y1="284" x2="653.5" y2="305.8" stroke="#fff" stroke-width="1.0" />
<rect x="647" y="285" width="8" height="2" fill="#fff" />
<rect x="656" y="285" width="11" height="2" fill="#fff" />
<line x1="652.5" y1="292" x2="652.5" y2="300" stroke="#fff" stroke-width="1.0" />
<line x1="660.5" y1="290" x2="660.5" y2="305.8" stroke="#fff" stroke-width="1.0" />
<path d="M671.9,305.8 L638.5,305.8 Q636.1,305.8 636.1,308.4 Q636.1,311 638.5,311 L671.9,311" stroke="#fff" stroke-width="1.0" fill="none" />
<rect x="640" y="308" width="11" height="1" fill="#fff" />
<rect x="653" y="308" width="7" height="1" fill="#fff" />
<rect x="661" y="308" width="4" height="1" fill="#fff" />
<path d="M712,243h1v1h-1zM716,243h1v1h-1zM712,244h1v1h-1zM714,244h1v1h-1zM715,244h1v1h-1zM712,245h1v1h-1zM713,245h1v1h-1zM714,246h1v1h-1zM716,246h1v1h-1zM714,247h1v1h-1zM714,248h1v1h-1zM712,249h1v1h-1zM715,249h1v1h-1zM716,249h1v1h-1zM714,250h1v1h-1zM715,250h1v1h-1zM712,251h1v1h-1zM716,251h1v1h-1zM714,252h1v1h-1zM712,253h1v1h-1zM715,253h1v1h-1zM716,253h1v1h-1zM712,254h1v1h-1zM713,254h1v1h-1zM714,254h1v1h-1zM716,254h1v1h-1zM712,255h1v1h-1zM714,255h1v1h-1zM715,255h1v1h-1zM716,255h1v1h-1zM714,256h1v1h-1zM716,256h1v1h-1zM713,257h1v1h-1zM716,257h1v1h-1zM714,259h1v1h-1zM715,259h1v1h-1zM712,260h1v1h-1zM716,260h1v1h-1zM712,261h1v1h-1zM714,261h1v1h-1zM712,262h1v1h-1zM714,263h1v1h-1zM716,263h1v1h-1zM715,265h1v1h-1zM716,266h1v1h-1zM714,267h1v1h-1zM715,267h1v1h-1zM716,267h1v1h-1zM713,268h1v1h-1zM714,268h1v1h-1zM715,269h1v1h-1zM714,270h1v1h-1zM712,271h1v1h-1zM713,271h1v1h-1zM714,271h1v1h-1zM715,271h1v1h-1zM716,271h1v1h-1zM712,273h1v1h-1zM714,273h1v1h-1zM715,273h1v1h-1zM712,274h1v1h-1zM713,274h1v1h-1zM716,274h1v1h-1zM712,275h1v1h-1zM713,275h1v1h-1zM716,275h1v1h-1zM714,276h1v1h-1zM715,276h1v1h-1zM715,277h1v1h-1zM716,277h1v1h-1zM716,278h1v1h-1zM714,279h1v1h-1zM716,279h1v1h-1zM712,280h1v1h-1zM714,280h1v1h-1zM712,281h1v1h-1zM713,281h1v1h-1zM714,281h1v1h-1zM716,281h1v1h-1zM713,282h1v1h-1zM714,282h1v1h-1zM715,282h1v1h-1zM712,283h1v1h-1zM716,283h1v1h-1zM714,284h1v1h-1zM716,284h1v1h-1zM674,285h1v1h-1zM677,285h1v1h-1zM678,285h1v1h-1zM682,285h1v1h-1zM686,285h1v1h-1zM689,285h1v1h-1zM690,285h1v1h-1zM691,285h1v1h-1zM693,285h1v1h-1zM694,285h1v1h-1zM698,285h1v1h-1zM707,285h1v1h-1zM708,285h1v1h-1zM710,285h1v1h-1zM714,285h1v1h-1zM718,285h1v1h-1zM671,286h1v1h-1zM675,286h1v1h-1zM679,286h1v1h-1zM680,286h1v1h-1zM684,286h1v1h-1zM687,286h1v1h-1zM691,286h1v1h-1zM692,286h1v1h-1zM694,286h1v1h-1zM697,286h1v1h-1zM699,286h1v1h-1zM701,286h1v1h-1zM706,286h1v1h-1zM709,286h1v1h-1zM710,286h1v1h-1zM711,286h1v1h-1zM712,286h1v1h-1zM713,286h1v1h-1zM715,286h1v1h-1zM716,286h1v1h-1zM718,286h1v1h-1zM719,286h1v1h-1zM671,287h1v1h-1zM672,287h1v1h-1zM673,287h1v1h-1zM676,287h1v1h-1zM682,287h1v1h-1zM683,287h1v1h-1zM685,287h1v1h-1zM688,287h1v1h-1zM690,287h1v1h-1zM691,287h1v1h-1zM700,287h1v1h-1zM702,287h1v1h-1zM704,287h1v1h-1zM705,287h1v1h-1zM706,287h1v1h-1zM708,287h1v1h-1zM710,287h1v1h-1zM711,287h1v1h-1zM713,287h1v1h-1zM714,287h1v1h-1zM674,288h1v1h-1zM675,288h1v1h-1zM676,288h1v1h-1zM678,288h1v1h-1zM681,288h1v1h-1zM683,288h1v1h-1zM685,288h1v1h-1zM691,288h1v1h-1zM697,288h1v1h-1zM700,288h1v1h-1zM710,288h1v1h-1zM713,288h1v1h-1zM715,288h1v1h-1zM717,288h1v1h-1zM718,288h1v1h-1zM672,289h1v1h-1zM675,289h1v1h-1zM677,289h1v1h-1zM681,289h1v1h-1zM682,289h1v1h-1zM684,289h1v1h-1zM690,289h1v1h-1zM693,289h1v1h-1zM696,289h1v1h-1zM700,289h1v1h-1zM703,289h1v1h-1zM705,289h1v1h-1zM710,289h1v1h-1zM712,289h1v1h-1zM714,289h1v1h-1zM715,289h1v1h-1zM719,289h1v1h-1zM674,290h1v1h-1zM679,290h1v1h-1zM680,290h1v1h-1zM681,290h1v1h-1zM685,290h1v1h-1zM686,290h1v1h-1zM688,290h1v1h-1zM691,290h1v1h-1zM693,290h1v1h-1zM700,290h1v1h-1zM702,290h1v1h-1zM704,290h1v1h-1zM706,290h1v1h-1zM707,290h1v1h-1zM672,291h1v1h-1zM673,291h1v1h-1zM674,291h1v1h-1zM675,291h1v1h-1zM676,291h1v1h-1zM677,291h1v1h-1zM679,291h1v1h-1zM680,291h1v1h-1zM682,291h1v1h-1zM683,291h1v1h-1zM684,291h1v1h-1zM688,291h1v1h-1zM690,291h1v1h-1zM692,291h1v1h-1zM695,291h1v1h-1zM696,291h1v1h-1zM697,291h1v1h-1zM699,291h1v1h-1zM703,291h1v1h-1zM705,291h1v1h-1zM711,291h1v1h-1zM712,291h1v1h-1zM713,291h1v1h-1zM716,291h1v1h-1zM718,291h1v1h-1zM719,291h1v1h-1zM671,292h1v1h-1zM673,292h1v1h-1zM675,292h1v1h-1zM677,292h1v1h-1zM682,292h1v1h-1zM683,292h1v1h-1zM688,292h1v1h-1zM689,292h1v1h-1zM690,292h1v1h-1zM693,292h1v1h-1zM694,292h1v1h-1zM697,292h1v1h-1zM700,292h1v1h-1zM702,292h1v1h-1zM704,292h1v1h-1zM707,292h1v1h-1zM710,292h1v1h-1zM714,292h1v1h-1zM715,292h1v1h-1zM718,292h1v1h-1zM672,293h1v1h-1zM673,293h1v1h-1zM674,293h1v1h-1zM681,293h1v1h-1zM683,293h1v1h-1zM685,293h1v1h-1zM686,293h1v1h-1zM687,293h1v1h-1zM690,293h1v1h-1zM694,293h1v1h-1zM696,293h1v1h-1zM697,293h1v1h-1zM699,293h1v1h-1zM701,293h1v1h-1zM703,293h1v1h-1zM704,293h1v1h-1zM705,293h1v1h-1zM708,293h1v1h-1zM710,293h1v1h-1zM712,293h1v1h-1zM713,293h1v1h-1zM717,293h1v1h-1zM674,294h1v1h-1zM676,294h1v1h-1zM677,294h1v1h-1zM681,294h1v1h-1zM682,294h1v1h-1zM683,294h1v1h-1zM686,294h1v1h-1zM687,294h1v1h-1zM688,294h1v1h-1zM689,294h1v1h-1zM696,294h1v1h-1zM699,294h1v1h-1zM700,294h1v1h-1zM701,294h1v1h-1zM702,294h1v1h-1zM704,294h1v1h-1zM706,294h1v1h-1zM709,294h1v1h-1zM712,294h1v1h-1zM714,294h1v1h-1zM717,294h1v1h-1zM676,295h1v1h-1zM677,295h1v1h-1zM678,295h1v1h-1zM679,295h1v1h-1zM680,295h1v1h-1zM683,295h1v1h-1zM684,295h1v1h-1zM688,295h1v1h-1zM690,295h1v1h-1zM695,295h1v1h-1zM698,295h1v1h-1zM704,295h1v1h-1zM705,295h1v1h-1zM709,295h1v1h-1zM710,295h1v1h-1zM711,295h1v1h-1zM714,295h1v1h-1zM716,295h1v1h-1zM719,295h1v1h-1zM674,296h1v1h-1zM675,296h1v1h-1zM678,296h1v1h-1zM679,296h1v1h-1zM685,296h1v1h-1zM686,296h1v1h-1zM687,296h1v1h-1zM688,296h1v1h-1zM689,296h1v1h-1zM692,296h1v1h-1zM694,296h1v1h-1zM698,296h1v1h-1zM701,296h1v1h-1zM703,296h1v1h-1zM705,296h1v1h-1zM706,296h1v1h-1zM707,296h1v1h-1zM708,296h1v1h-1zM709,296h1v1h-1zM711,296h1v1h-1zM712,296h1v1h-1zM714,296h1v1h-1zM716,296h1v1h-1zM717,296h1v1h-1zM719,296h1v1h-1zM674,297h1v1h-1zM675,297h1v1h-1zM681,297h1v1h-1zM682,297h1v1h-1zM683,297h1v1h-1zM684,297h1v1h-1zM690,297h1v1h-1zM691,297h1v1h-1zM694,297h1v1h-1zM695,297h1v1h-1zM699,297h1v1h-1zM701,297h1v1h-1zM705,297h1v1h-1zM706,297h1v1h-1zM707,297h1v1h-1zM708,297h1v1h-1zM712,297h1v1h-1zM715,297h1v1h-1zM716,297h1v1h-1zM675,298h1v1h-1zM676,298h1v1h-1zM680,298h1v1h-1zM681,298h1v1h-1zM683,298h1v1h-1zM690,298h1v1h-1zM695,298h1v1h-1zM696,298h1v1h-1zM698,298h1v1h-1zM702,298h1v1h-1zM707,298h1v1h-1zM708,298h1v1h-1zM709,298h1v1h-1zM710,298h1v1h-1zM717,298h1v1h-1zM718,298h1v1h-1zM719,298h1v1h-1zM673,299h1v1h-1zM674,299h1v1h-1zM675,299h1v1h-1zM677,299h1v1h-1zM681,299h1v1h-1zM684,299h1v1h-1zM685,299h1v1h-1zM686,299h1v1h-1zM689,299h1v1h-1zM691,299h1v1h-1zM692,299h1v1h-1zM693,299h1v1h-1zM694,299h1v1h-1zM696,299h1v1h-1zM697,299h1v1h-1zM698,299h1v1h-1zM704,299h1v1h-1zM709,299h1v1h-1zM710,299h1v1h-1zM711,299h1v1h-1zM713,299h1v1h-1zM716,299h1v1h-1zM717,299h1v1h-1zM718,299h1v1h-1zM671,300h1v1h-1zM675,300h1v1h-1zM677,300h1v1h-1zM682,300h1v1h-1zM683,300h1v1h-1zM691,300h1v1h-1zM692,300h1v1h-1zM694,300h1v1h-1zM695,300h1v1h-1zM697,300h1v1h-1zM701,300h1v1h-1zM702,300h1v1h-1zM706,300h1v1h-1zM708,300h1v1h-1zM710,300h1v1h-1zM714,300h1v1h-1zM716,300h1v1h-1zM717,300h1v1h-1zM719,300h1v1h-1zM672,301h1v1h-1zM673,301h1v1h-1zM674,301h1v1h-1zM675,301h1v1h-1zM679,301h1v1h-1zM680,301h1v1h-1zM686,301h1v1h-1zM693,301h1v1h-1zM695,301h1v1h-1zM699,301h1v1h-1zM702,301h1v1h-1zM707,301h1v1h-1zM708,301h1v1h-1zM712,301h1v1h-1zM715,301h1v1h-1zM716,301h1v1h-1zM717,301h1v1h-1zM718,301h1v1h-1zM672,302h1v1h-1zM673,302h1v1h-1zM674,302h1v1h-1zM675,302h1v1h-1zM679,302h1v1h-1zM680,302h1v1h-1zM683,302h1v1h-1zM685,302h1v1h-1zM696,302h1v1h-1zM697,302h1v1h-1zM699,302h1v1h-1zM704,302h1v1h-1zM706,302h1v1h-1zM707,302h1v1h-1zM711,302h1v1h-1zM716,302h1v1h-1zM718,302h1v1h-1zM672,303h1v1h-1zM674,303h1v1h-1zM680,303h1v1h-1zM682,303h1v1h-1zM683,303h1v1h-1zM688,303h1v1h-1zM690,303h1v1h-1zM693,303h1v1h-1zM694,303h1v1h-1zM698,303h1v1h-1zM704,303h1v1h-1zM707,303h1v1h-1zM708,303h1v1h-1zM715,303h1v1h-1zM716,303h1v1h-1zM717,303h1v1h-1zM719,303h1v1h-1zM671,304h1v1h-1zM675,304h1v1h-1zM677,304h1v1h-1zM679,304h1v1h-1zM681,304h1v1h-1zM682,304h1v1h-1zM686,304h1v1h-1zM687,304h1v1h-1zM693,304h1v1h-1zM696,304h1v1h-1zM697,304h1v1h-1zM698,304h1v1h-1zM699,304h1v1h-1zM700,304h1v1h-1zM701,304h1v1h-1zM702,304h1v1h-1zM703,304h1v1h-1zM706,304h1v1h-1zM708,304h1v1h-1zM709,304h1v1h-1zM711,304h1v1h-1zM713,304h1v1h-1zM717,304h1v1h-1zM719,304h1v1h-1zM675,305h1v1h-1zM677,305h1v1h-1zM682,305h1v1h-1zM684,305h1v1h-1zM685,305h1v1h-1zM689,305h1v1h-1zM690,305h1v1h-1zM694,305h1v1h-1zM696,305h1v1h-1zM697,305h1v1h-1zM699,305h1v1h-1zM700,305h1v1h-1zM703,305h1v1h-1zM712,305h1v1h-1zM713,305h1v1h-1zM717,305h1v1h-1zM719,305h1v1h-1zM676,306h1v1h-1zM677,306h1v1h-1zM680,306h1v1h-1zM681,306h1v1h-1zM683,306h1v1h-1zM684,306h1v1h-1zM685,306h1v1h-1zM686,306h1v1h-1zM688,306h1v1h-1zM690,306h1v1h-1zM691,306h1v1h-1zM692,306h1v1h-1zM693,306h1v1h-1zM699,306h1v1h-1zM700,306h1v1h-1zM708,306h1v1h-1zM710,306h1v1h-1zM713,306h1v1h-1zM718,306h1v1h-1zM672,307h1v1h-1zM673,307h1v1h-1zM676,307h1v1h-1zM680,307h1v1h-1zM682,307h1v1h-1zM683,307h1v1h-1zM684,307h1v1h-1zM685,307h1v1h-1zM687,307h1v1h-1zM690,307h1v1h-1zM691,307h1v1h-1zM693,307h1v1h-1zM695,307h1v1h-1zM698,307h1v1h-1zM700,307h1v1h-1zM702,307h1v1h-1zM707,307h1v1h-1zM709,307h1v1h-1zM712,307h1v1h-1zM715,307h1v1h-1zM716,307h1v1h-1zM717,307h1v1h-1zM719,307h1v1h-1zM674,308h1v1h-1zM678,308h1v1h-1zM683,308h1v1h-1zM685,308h1v1h-1zM689,308h1v1h-1zM695,308h1v1h-1zM701,308h1v1h-1zM704,308h1v1h-1zM705,308h1v1h-1zM708,308h1v1h-1zM713,308h1v1h-1zM718,308h1v1h-1zM674,309h1v1h-1zM675,309h1v1h-1zM684,309h1v1h-1zM686,309h1v1h-1zM687,309h1v1h-1zM689,309h1v1h-1zM694,309h1v1h-1zM702,309h1v1h-1zM703,309h1v1h-1zM705,309h1v1h-1zM706,309h1v1h-1zM708,309h1v1h-1zM711,309h1v1h-1zM713,309h1v1h-1zM718,309h1v1h-1zM719,309h1v1h-1zM675,310h1v1h-1zM677,310h1v1h-1zM679,310h1v1h-1zM680,310h1v1h-1zM681,310h1v1h-1zM682,310h1v1h-1zM684,310h1v1h-1zM685,310h1v1h-1zM686,310h1v1h-1zM687,310h1v1h-1zM689,310h1v1h-1zM691,310h1v1h-1zM698,310h1v1h-1zM703,310h1v1h-1zM709,310h1v1h-1zM710,310h1v1h-1zM712,310h1v1h-1zM671,311h1v1h-1zM673,311h1v1h-1zM674,311h1v1h-1zM675,311h1v1h-1zM676,311h1v1h-1zM682,311h1v1h-1zM689,311h1v1h-1zM690,311h1v1h-1zM695,311h1v1h-1zM697,311h1v1h-1zM698,311h1v1h-1zM700,311h1v1h-1zM701,311h1v1h-1zM703,311h1v1h-1zM704,311h1v1h-1zM707,311h1v1h-1zM709,311h1v1h-1zM710,311h1v1h-1zM712,311h1v1h-1zM716,311h1v1h-1zM717,311h1v1h-1zM718,311h1v1h-1zM719,311h1v1h-1zM671,312h1v1h-1zM675,312h1v1h-1zM677,312h1v1h-1zM679,312h1v1h-1zM687,312h1v1h-1zM688,312h1v1h-1zM689,312h1v1h-1zM691,312h1v1h-1zM694,312h1v1h-1zM695,312h1v1h-1zM696,312h1v1h-1zM697,312h1v1h-1zM698,312h1v1h-1zM699,312h1v1h-1zM702,312h1v1h-1zM707,312h1v1h-1zM711,312h1v1h-1zM713,312h1v1h-1zM716,312h1v1h-1zM671,313h1v1h-1zM673,313h1v1h-1zM674,313h1v1h-1zM675,313h1v1h-1zM677,313h1v1h-1zM678,313h1v1h-1zM680,313h1v1h-1zM681,313h1v1h-1zM684,313h1v1h-1zM685,313h1v1h-1zM687,313h1v1h-1zM689,313h1v1h-1zM691,313h1v1h-1zM695,313h1v1h-1zM698,313h1v1h-1zM700,313h1v1h-1zM702,313h1v1h-1zM705,313h1v1h-1zM708,313h1v1h-1zM713,313h1v1h-1zM714,313h1v1h-1zM715,313h1v1h-1zM719,313h1v1h-1zM672,314h1v1h-1zM674,314h1v1h-1zM676,314h1v1h-1zM678,314h1v1h-1zM680,314h1v1h-1zM682,314h1v1h-1zM684,314h1v1h-1zM690,314h1v1h-1zM695,314h1v1h-1zM701,314h1v1h-1zM702,314h1v1h-1zM705,314h1v1h-1zM708,314h1v1h-1zM709,314h1v1h-1zM714,314h1v1h-1zM716,314h1v1h-1zM717,314h1v1h-1zM718,314h1v1h-1z" fill="#fff"/>
<path d="M714,249 L714,271 A41,35 0 0 1 673,306 L667,306" stroke="#000" stroke-width="2.6" fill="none"/>
<path d="M717,249 L717,271 A44,36.7 0 0 1 673,307.7 L667,307.7" stroke="#000" stroke-width="2.6" fill="none"/>
<path d="M720,249 L720,271 A47,38.4 0 0 1 673,309.4 L667,309.4" stroke="#000" stroke-width="2.6" fill="none"/>
<path d="M723,249 L723,271 A50,40 0 0 1 673,311 L667,311" stroke="#000" stroke-width="2.6" fill="none"/>
<path d="M714,249 L714,271 A41,35 0 0 1 673,306 L667,306" stroke="#fff" stroke-width="1.0" fill="none" />
<path d="M717,249 L717,271 A44,36.7 0 0 1 673,307.7 L667,307.7" stroke="#fff" stroke-width="1.0" fill="none" />
<path d="M720,249 L720,271 A47,38.4 0 0 1 673,309.4 L667,309.4" stroke="#fff" stroke-width="1.0" fill="none" />
<path d="M723,249 L723,271 A50,40 0 0 1 673,311 L667,311" stroke="#fff" stroke-width="1.0" fill="none" />
<line x1="671.5" y1="284" x2="671.5" y2="316" stroke="#fff" stroke-width="1.0" />
<line x1="671" y1="315.5" x2="720.7" y2="315.5" stroke="#fff" stroke-width="1.0" />
<line x1="720.5" y1="284" x2="720.5" y2="316" stroke="#fff" stroke-width="1.0" />
<line x1="725" y1="317.5" x2="737" y2="317.5" stroke="#fff" stroke-width="1.0" />
<line x1="660.5" y1="256.1" x2="683" y2="284" stroke="#fff" stroke-width="1.0" />
<line x1="678" y1="268.5" x2="738" y2="268.5" stroke="#fff" stroke-width="1.0" />
<line x1="680.5" y1="266" x2="680.5" y2="320" stroke="#fff" stroke-width="1.0" />
<line x1="645.5" y1="276" x2="645.5" y2="284" stroke="#fff" stroke-width="1.0" />
<rect x="637" y="320" width="10" height="2" fill="#fff" />
<rect x="648" y="320" width="16" height="2" fill="#fff" />
<line x1="637" y1="322.5" x2="664" y2="322.5" stroke="#fff" stroke-width="1.0" />
<line x1="704" y1="318" x2="713.5" y2="323.5" stroke="#fff" stroke-width="1.0" />
<rect x="714" y="323" width="17" height="2" fill="#fff" />
<rect x="732" y="323" width="7" height="2" fill="#fff" />
<rect x="740" y="323" width="13" height="2" fill="#fff" />
<rect x="754" y="323" width="8" height="2" fill="#fff" />
<rect x="763" y="323" width="6" height="2" fill="#fff" />
<rect x="714" y="326" width="13" height="1" fill="#fff" />
<rect x="728" y="326" width="2" height="1" fill="#fff" />
<rect x="682" y="322" width="9" height="1" fill="#fff" />
<rect x="692" y="322" width="7" height="1" fill="#fff" />
<rect x="700" y="322" width="6" height="1" fill="#fff" />
<rect x="708" y="322" width="0" height="1" fill="#fff" />
<line x1="681.5" y1="318" x2="681.5" y2="331" stroke="#fff" stroke-width="1.0" />
<rect x="670.5" y="331.5" width="50.0" height="13.0" stroke="#fff" stroke-width="1.0" fill="none" />
<rect x="671" y="332.3" width="1.6" height="1.0" fill="#fff" />
<rect x="674" y="332.3" width="1.6" height="1.0" fill="#fff" />
<rect x="677" y="332.3" width="1.6" height="1.0" fill="#fff" />
<rect x="680" y="332.3" width="1.6" height="1.0" fill="#fff" />
<rect x="683" y="332.3" width="1.6" height="1.0" fill="#fff" />
<rect x="686" y="332.3" width="1.6" height="1.0" fill="#fff" />
<rect x="689" y="332.3" width="1.6" height="1.0" fill="#fff" />
<rect x="692" y="332.3" width="1.6" height="1.0" fill="#fff" />
<rect x="695" y="332.3" width="1.6" height="1.0" fill="#fff" />
<rect x="698" y="332.3" width="1.6" height="1.0" fill="#fff" />
<rect x="701" y="332.3" width="1.6" height="1.0" fill="#fff" />
<rect x="704" y="332.3" width="1.6" height="1.0" fill="#fff" />
<rect x="707" y="332.3" width="1.6" height="1.0" fill="#fff" />
<rect x="710" y="332.3" width="1.6" height="1.0" fill="#fff" />
<rect x="713" y="332.3" width="1.6" height="1.0" fill="#fff" />
<rect x="716" y="332.3" width="1.6" height="1.0" fill="#fff" />
<rect x="719" y="332.3" width="1.6" height="1.0" fill="#fff" />
<rect x="671" y="342.0" width="1.6" height="1.0" fill="#fff" />
<rect x="674" y="342.0" width="1.6" height="1.0" fill="#fff" />
<rect x="677" y="342.0" width="1.6" height="1.0" fill="#fff" />
<rect x="680" y="342.0" width="1.6" height="1.0" fill="#fff" />
<rect x="683" y="342.0" width="1.6" height="1.0" fill="#fff" />
<rect x="686" y="342.0" width="1.6" height="1.0" fill="#fff" />
<rect x="689" y="342.0" width="1.6" height="1.0" fill="#fff" />
<rect x="692" y="342.0" width="1.6" height="1.0" fill="#fff" />
<rect x="695" y="342.0" width="1.6" height="1.0" fill="#fff" />
<rect x="698" y="342.0" width="1.6" height="1.0" fill="#fff" />
<rect x="701" y="342.0" width="1.6" height="1.0" fill="#fff" />
<rect x="704" y="342.0" width="1.6" height="1.0" fill="#fff" />
<rect x="707" y="342.0" width="1.6" height="1.0" fill="#fff" />
<rect x="710" y="342.0" width="1.6" height="1.0" fill="#fff" />
<rect x="713" y="342.0" width="1.6" height="1.0" fill="#fff" />
<rect x="716" y="342.0" width="1.6" height="1.0" fill="#fff" />
<rect x="719" y="342.0" width="1.6" height="1.0" fill="#fff" />
<line x1="631.7" y1="335.5" x2="720.7" y2="335.5" stroke="#fff" stroke-width="1.0" />
<line x1="631.7" y1="340.5" x2="720.7" y2="340.5" stroke="#fff" stroke-width="1.0" />
<line x1="631.5" y1="335.5" x2="631.5" y2="340.7" stroke="#fff" stroke-width="1.0" />
<rect x="633" y="337" width="3" height="2" fill="#fff" />
<rect x="650" y="338" width="6" height="1" fill="#fff" />
<line x1="713.5" y1="333" x2="713.5" y2="343" stroke="#fff" stroke-width="1.0" />
<line x1="716.5" y1="333" x2="716.5" y2="343" stroke="#fff" stroke-width="1.0" />
<circle cx="729.4" cy="336.3" r="7" stroke="#fff" stroke-width="1.2" fill="none"/>
<circle cx="729.4" cy="336.3" r="4" stroke="#fff" stroke-width="1.0" fill="none"/>
<line x1="725" y1="336.5" x2="734" y2="336.5" stroke="#fff" stroke-width="1.0" />
<line x1="729.5" y1="332" x2="729.5" y2="341" stroke="#fff" stroke-width="1.0" />
<path d="M734.7,331.1 L745,331.1 L745,344.2 L734.7,344.2" stroke="#fff" stroke-width="1.0" fill="none" />
<path d="M737,332 Q735,336.3 737,340.5" stroke="#fff" stroke-width="1.0" fill="none" />
<rect x="740" y="336" width="3" height="2" fill="#fff" />
<rect x="637" y="346" width="10" height="2" fill="#fff" />
<rect x="648" y="346" width="6" height="2" fill="#fff" />
<line x1="637" y1="348.5" x2="653.5" y2="348.5" stroke="#fff" stroke-width="1.0" />
<line x1="670.1" y1="349.5" x2="720.7" y2="349.5" stroke="#fff" stroke-width="1.0" />
<line x1="670.5" y1="347" x2="670.5" y2="351" stroke="#fff" stroke-width="1.0" />
<line x1="720.5" y1="347" x2="720.5" y2="351" stroke="#fff" stroke-width="1.0" />
<rect x="690" y="349" width="8" height="1" fill="#fff" />
<rect x="699" y="349" width="1" height="1" fill="#fff" />
<line x1="722" y1="348.5" x2="740" y2="348.5" stroke="#fff" stroke-width="1.0" />
<rect x="740" y="348" width="8" height="1" fill="#fff" />
<rect x="749" y="348" width="18" height="1" fill="#fff" />
<rect x="768" y="348" width="0" height="1" fill="#fff" />
<text x="670.6" y="367.4" font-size="4.2" fill="#fff" font-weight="bold" text-anchor="start" textLength="63.6" lengthAdjust="spacingAndGlyphs" >NOTA: PARA EL DETALLE DE</text>
<text x="666.2" y="371.8" font-size="4.6" fill="#fff" font-weight="bold" text-anchor="start" textLength="72.5" lengthAdjust="spacingAndGlyphs" >EXCAVACION PARA LA BASE DE POSTE</text>
<text x="685.3" y="374.2" font-size="2.6" fill="#fff" font-weight="bold" text-anchor="start" textLength="34.3" lengthAdjust="spacingAndGlyphs" >(VER PLANO DE DETALLES)</text>
<text x="688.2" y="378.5" font-size="4.4" fill="#fff" font-weight="bold" text-anchor="start" textLength="29.4" lengthAdjust="spacingAndGlyphs" >VER DETALLE</text>
<rect x="480.1" y="292.2" width="67.3" height="25.0" fill="#fff" />
<rect x="493.0" y="293.85" width="52.9" height="0.98" fill="#000" />
<rect x="496.09" y="295.9" width="21.12" height="0.68" fill="#000" />
<rect x="518.21" y="295.9" width="4.88" height="0.68" fill="#000" />
<rect x="496.19" y="297.45" width="12.95" height="0.78" fill="#000" />
<rect x="495.39" y="299.59" width="13.85" height="8.76" fill="#000" />
<rect x="509.84" y="299.79" width="1.79" height="1.46" fill="#000" />
<rect x="518.9" y="298.62" width="10.37" height="6.71" fill="#000" />
<rect x="512.13" y="301.25" width="4.48" height="6.81" fill="#000" />
<rect x="510.63" y="306.4" width="5.98" height="1.66" fill="#000" />
<rect x="530.36" y="296.58" width="2.69" height="16.53" fill="#000" />
<rect x="534.15" y="296.58" width="6.87" height="10.8" fill="#000" />
<rect x="534.15" y="310.39" width="6.87" height="2.72" fill="#000" />
<rect x="543.11" y="295.9" width="2.79" height="18.48" fill="#000" />
<rect x="508.54" y="310.39" width="15.25" height="2.72" fill="#000" />
<rect x="525.08" y="308.54" width="5.28" height="4.57" fill="#000" />
<rect x="493.5" y="295.9" width="1.19" height="1.75" fill="#000" />
<rect x="493.5" y="299.3" width="1.19" height="1.95" fill="#000" />
<rect x="493.5" y="302.71" width="1.19" height="1.94" fill="#000" />
<rect x="493.5" y="306.11" width="1.19" height="1.46" fill="#000" />
<rect x="493.8" y="310.0" width="0.99" height="3.89" fill="#000" />
<rect x="495.79" y="310.0" width="1.0" height="3.89" fill="#000" />
<rect x="499.68" y="310.0" width="1.09" height="3.89" fill="#000" />
<rect x="502.37" y="310.0" width="1.29" height="3.89" fill="#000" />
<rect x="505.65" y="310.0" width="1.1" height="3.89" fill="#000" />
<rect x="500.67" y="314.38" width="1.0" height="0.97" fill="#000" />
<rect x="497.38" y="302.12" width="11.16" height="5.06" fill="#fff" />
<rect x="499.18" y="303.48" width="1.0" height="1.0" fill="#000" />
<rect x="499.18" y="305.72" width="1.0" height="1.0" fill="#000" />
<rect x="501.77" y="303.48" width="1.0" height="1.0" fill="#000" />
<rect x="501.77" y="305.72" width="1.0" height="1.0" fill="#000" />
<rect x="504.36" y="303.48" width="1.0" height="1.0" fill="#000" />
<rect x="504.36" y="305.72" width="1.0" height="1.0" fill="#000" />
<rect x="506.95" y="303.48" width="1.0" height="1.0" fill="#000" />
<rect x="506.95" y="305.72" width="1.0" height="1.0" fill="#000" />
<rect x="481.1" y="293.2" width="1.8" height="10.25" fill="#000" />
<rect x="481.1" y="307.2" width="1.8" height="9.0" fill="#000" />
<rect x="484.3" y="293.2" width="1.3" height="10.25" fill="#000" />
<rect x="484.3" y="307.2" width="1.3" height="9.0" fill="#000" />
<text x="486.8" y="290.6" font-size="6.4" fill="#fff" font-weight="bold" text-anchor="start" textLength="52.7" lengthAdjust="spacingAndGlyphs" stroke="#fff" stroke-width="0.3">Generador 1000 KVA</text>
<rect x="480.5" y="317.5" width="66.0" height="8.0" stroke="#fff" stroke-width="1.2" fill="none" />
<line x1="550.5" y1="292.5" x2="550.5" y2="317.5" stroke="#fff" stroke-width="1.0" />
<line x1="549" y1="292.5" x2="552.8" y2="292.5" stroke="#fff" stroke-width="1.0" />
<line x1="549" y1="317.5" x2="552.8" y2="317.5" stroke="#fff" stroke-width="1.0" />
<rect x="552" y="301.9" width="1.7" height="5.9" fill="#fff" />
<rect x="550" y="322" width="15" height="1" fill="#fff" />
<rect x="510" y="325.5" width="5.5" height="2.5" fill="#fff" />
<text x="558.1" y="301.7" font-size="4.7" fill="#fff" font-weight="bold" text-anchor="start" textLength="26.7" lengthAdjust="spacingAndGlyphs" stroke="#fff" stroke-width="0.25">Motor Diesel</text>
<text x="558.1" y="306.3" font-size="4.7" fill="#fff" font-weight="bold" text-anchor="start" textLength="29.9" lengthAdjust="spacingAndGlyphs" stroke="#fff" stroke-width="0.25">380/220V 60Hz</text>
<text x="558.1" y="310.5" font-size="4.7" fill="#fff" font-weight="bold" text-anchor="start" textLength="33.0" lengthAdjust="spacingAndGlyphs" stroke="#fff" stroke-width="0.25">3F 4H 1800 RPM 60Hz</text>
<rect x="485.1" y="344.2" width="61.8" height="25.7" fill="#fff" />
<rect x="492.8" y="345.9" width="52.61" height="1.0" fill="#000" />
<rect x="495.87" y="348.0" width="21.01" height="0.7" fill="#000" />
<rect x="517.87" y="348.0" width="4.85" height="0.7" fill="#000" />
<rect x="495.97" y="349.6" width="12.88" height="0.8" fill="#000" />
<rect x="495.18" y="351.8" width="13.77" height="9.0" fill="#000" />
<rect x="509.54" y="352.0" width="1.79" height="1.5" fill="#000" />
<rect x="518.56" y="350.8" width="10.3" height="6.9" fill="#000" />
<rect x="511.82" y="353.5" width="4.46" height="7.0" fill="#000" />
<rect x="510.34" y="358.8" width="5.94" height="1.7" fill="#000" />
<rect x="529.95" y="348.7" width="2.68" height="17.0" fill="#000" />
<rect x="533.72" y="348.7" width="6.83" height="11.1" fill="#000" />
<rect x="533.72" y="362.9" width="6.83" height="2.8" fill="#000" />
<rect x="542.64" y="348.0" width="2.77" height="19.0" fill="#000" />
<rect x="508.26" y="362.9" width="15.15" height="2.8" fill="#000" />
<rect x="524.7" y="361.0" width="5.25" height="4.7" fill="#000" />
<rect x="493.3" y="348.0" width="1.18" height="1.8" fill="#000" />
<rect x="493.3" y="351.5" width="1.18" height="2.0" fill="#000" />
<rect x="493.3" y="355.0" width="1.18" height="2.0" fill="#000" />
<rect x="493.3" y="358.5" width="1.18" height="1.5" fill="#000" />
<rect x="493.59" y="362.5" width="0.99" height="4.0" fill="#000" />
<rect x="495.57" y="362.5" width="0.99" height="4.0" fill="#000" />
<rect x="499.44" y="362.5" width="1.09" height="4.0" fill="#000" />
<rect x="502.11" y="362.5" width="1.29" height="4.0" fill="#000" />
<rect x="505.38" y="362.5" width="1.09" height="4.0" fill="#000" />
<rect x="500.43" y="367.0" width="0.99" height="1.0" fill="#000" />
<rect x="497.16" y="354.4" width="11.1" height="5.2" fill="#fff" />
<rect x="498.94" y="355.8" width="1.0" height="1.0" fill="#000" />
<rect x="498.94" y="358.1" width="1.0" height="1.0" fill="#000" />
<rect x="501.52" y="355.8" width="1.0" height="1.0" fill="#000" />
<rect x="501.52" y="358.1" width="1.0" height="1.0" fill="#000" />
<rect x="504.09" y="355.8" width="1.0" height="1.0" fill="#000" />
<rect x="504.09" y="358.1" width="1.0" height="1.0" fill="#000" />
<rect x="506.67" y="355.8" width="1.0" height="1.0" fill="#000" />
<rect x="506.67" y="358.1" width="1.0" height="1.0" fill="#000" />
<text x="486.6" y="342.5" font-size="6.4" fill="#fff" font-weight="bold" text-anchor="start" textLength="53.2" lengthAdjust="spacingAndGlyphs" stroke="#fff" stroke-width="0.3">Generador 1500 KVA</text>
<line x1="550.5" y1="344.5" x2="550.5" y2="369.5" stroke="#fff" stroke-width="1.0" />
<line x1="549" y1="344.5" x2="552.8" y2="344.5" stroke="#fff" stroke-width="1.0" />
<line x1="549" y1="369.5" x2="552.8" y2="369.5" stroke="#fff" stroke-width="1.0" />
<rect x="552.1" y="353.9" width="1.4" height="5.9" fill="#fff" />
<line x1="485.5" y1="376.5" x2="546.6" y2="376.5" stroke="#fff" stroke-width="1.0" />
<line x1="485.5" y1="373.3" x2="485.5" y2="378.5" stroke="#fff" stroke-width="1.0" />
<line x1="546.5" y1="373.3" x2="546.5" y2="378.5" stroke="#fff" stroke-width="1.0" />
<rect x="513.3" y="378" width="5.5" height="2" fill="#fff" />
<rect x="550" y="373" width="15" height="1" fill="#fff" />
<text x="558" y="353.3" font-size="4.7" fill="#fff" font-weight="bold" text-anchor="start" textLength="26.5" lengthAdjust="spacingAndGlyphs" stroke="#fff" stroke-width="0.25">Motor Diesel</text>
<text x="558" y="358.0" font-size="4.7" fill="#fff" font-weight="bold" text-anchor="start" textLength="30.5" lengthAdjust="spacingAndGlyphs" stroke="#fff" stroke-width="0.25">380/220V 60Hz</text>
<text x="558" y="362.6" font-size="4.7" fill="#fff" font-weight="bold" text-anchor="start" textLength="33.3" lengthAdjust="spacingAndGlyphs" stroke="#fff" stroke-width="0.25">3F 4H 1800 RPM 60Hz</text>
<rect x="495.9" y="393.1" width="51.1" height="20.0" fill="#fff" />
<rect x="506.8" y="394.42" width="38.97" height="0.78" fill="#000" />
<rect x="509.07" y="396.06" width="15.56" height="0.54" fill="#000" />
<rect x="525.37" y="396.06" width="3.59" height="0.54" fill="#000" />
<rect x="509.15" y="397.3" width="9.54" height="0.62" fill="#000" />
<rect x="508.56" y="399.01" width="10.2" height="7.01" fill="#000" />
<rect x="519.2" y="399.17" width="1.32" height="1.17" fill="#000" />
<rect x="525.88" y="398.24" width="7.63" height="5.37" fill="#000" />
<rect x="520.89" y="400.34" width="3.3" height="5.44" fill="#000" />
<rect x="519.79" y="404.46" width="4.4" height="1.32" fill="#000" />
<rect x="534.32" y="396.6" width="1.98" height="13.23" fill="#000" />
<rect x="537.11" y="396.6" width="5.06" height="8.64" fill="#000" />
<rect x="537.11" y="407.65" width="5.06" height="2.18" fill="#000" />
<rect x="543.71" y="396.06" width="2.06" height="14.78" fill="#000" />
<rect x="518.25" y="407.65" width="11.23" height="2.18" fill="#000" />
<rect x="530.43" y="406.17" width="3.89" height="3.66" fill="#000" />
<rect x="507.17" y="396.06" width="0.88" height="1.4" fill="#000" />
<rect x="507.17" y="398.78" width="0.88" height="1.56" fill="#000" />
<rect x="507.17" y="401.5" width="0.88" height="1.56" fill="#000" />
<rect x="507.17" y="404.23" width="0.88" height="1.17" fill="#000" />
<rect x="507.39" y="407.34" width="0.73" height="3.11" fill="#000" />
<rect x="508.85" y="407.34" width="0.74" height="3.11" fill="#000" />
<rect x="511.72" y="407.34" width="0.8" height="3.11" fill="#000" />
<rect x="513.7" y="407.34" width="0.95" height="3.11" fill="#000" />
<rect x="516.12" y="407.34" width="0.81" height="3.11" fill="#000" />
<rect x="512.45" y="410.84" width="0.73" height="0.78" fill="#000" />
<rect x="510.03" y="401.04" width="8.22" height="4.04" fill="#fff" />
<rect x="511.35" y="402.13" width="1.0" height="1.0" fill="#000" />
<rect x="511.35" y="403.92" width="1.0" height="1.0" fill="#000" />
<rect x="513.26" y="402.13" width="1.0" height="1.0" fill="#000" />
<rect x="513.26" y="403.92" width="1.0" height="1.0" fill="#000" />
<rect x="515.17" y="402.13" width="1.0" height="1.0" fill="#000" />
<rect x="515.17" y="403.92" width="1.0" height="1.0" fill="#000" />
<rect x="517.07" y="402.13" width="1.0" height="1.0" fill="#000" />
<rect x="517.07" y="403.92" width="1.0" height="1.0" fill="#000" />
<rect x="496.9" y="394.1" width="1.8" height="8.0" fill="#000" />
<rect x="496.9" y="405.1" width="1.8" height="7.0" fill="#000" />
<rect x="500.09999999999997" y="394.1" width="1.3" height="8.0" fill="#000" />
<rect x="500.09999999999997" y="405.1" width="1.3" height="7.0" fill="#000" />
<text x="496.2" y="391.6" font-size="6.4" fill="#fff" font-weight="bold" text-anchor="start" textLength="50.5" lengthAdjust="spacingAndGlyphs" stroke="#fff" stroke-width="0.3">Generador 896 KVA</text>
<line x1="550.5" y1="393.3" x2="550.5" y2="412.8" stroke="#fff" stroke-width="1.0" />
<line x1="549" y1="393.5" x2="552.8" y2="393.5" stroke="#fff" stroke-width="1.0" />
<line x1="549" y1="412.5" x2="552.8" y2="412.5" stroke="#fff" stroke-width="1.0" />
<rect x="552" y="400.5" width="1.5" height="4.5" fill="#fff" />
<line x1="496.3" y1="417.5" x2="546.7" y2="417.5" stroke="#fff" stroke-width="1.0" />
<line x1="496.5" y1="415" x2="496.5" y2="419.5" stroke="#fff" stroke-width="1.0" />
<line x1="546.5" y1="415" x2="546.5" y2="419.5" stroke="#fff" stroke-width="1.0" />
<rect x="518" y="418.5" width="6.5" height="2.0" fill="#fff" />
<rect x="550" y="416" width="16" height="1" fill="#fff" />
<text x="558" y="400.0" font-size="4.7" fill="#fff" font-weight="bold" text-anchor="start" textLength="26" lengthAdjust="spacingAndGlyphs" stroke="#fff" stroke-width="0.25">Motor Diesel</text>
<text x="558" y="404.9" font-size="4.7" fill="#fff" font-weight="bold" text-anchor="start" textLength="30.9" lengthAdjust="spacingAndGlyphs" stroke="#fff" stroke-width="0.25">380/220V 60Hz</text>
<text x="558" y="409.4" font-size="4.7" fill="#fff" font-weight="bold" text-anchor="start" textLength="30.5" lengthAdjust="spacingAndGlyphs" stroke="#fff" stroke-width="0.25">3F 4H 1800 RPM 60Hz</text>
<rect x="427.5" y="502.5" width="64.0" height="18.0" stroke="#fff" stroke-width="1.2" fill="none" />
<rect x="450.6" y="502.3" width="40.9" height="4.0" fill="#fff" />
<rect x="455" y="503" width="1.2" height="2.5" fill="#000" />
<rect x="462" y="503" width="1.2" height="2.5" fill="#000" />
<rect x="468" y="503" width="1.2" height="2.5" fill="#000" />
<rect x="471" y="503" width="1.2" height="2.5" fill="#000" />
<rect x="478" y="503" width="1.2" height="2.5" fill="#000" />
<rect x="486" y="503" width="1.2" height="2.5" fill="#000" />
<line x1="427" y1="506.5" x2="491.5" y2="506.5" stroke="#fff" stroke-width="1.0" />
<line x1="427" y1="511.5" x2="491.5" y2="511.5" stroke="#fff" stroke-width="1.0" />
<line x1="441.5" y1="506.3" x2="441.5" y2="520.8" stroke="#fff" stroke-width="1.0" />
<line x1="450.5" y1="506.3" x2="450.5" y2="520.8" stroke="#fff" stroke-width="1.0" />
<line x1="458.5" y1="506.3" x2="458.5" y2="520.8" stroke="#fff" stroke-width="1.0" />
<line x1="466.5" y1="506.3" x2="466.5" y2="520.8" stroke="#fff" stroke-width="1.0" />
<line x1="475.5" y1="506.3" x2="475.5" y2="520.8" stroke="#fff" stroke-width="1.0" />
<line x1="482.5" y1="506.3" x2="482.5" y2="520.8" stroke="#fff" stroke-width="1.0" />
<rect x="444" y="508" width="3" height="1.2" fill="#fff" />
<rect x="452.5" y="508" width="3.0" height="1.2" fill="#fff" />
<rect x="460.5" y="508" width="3.0" height="1.2" fill="#fff" />
<rect x="468.5" y="508" width="3.0" height="1.2" fill="#fff" />
<rect x="477" y="508" width="3" height="1.2" fill="#fff" />
<rect x="485" y="508" width="3" height="1.2" fill="#fff" />
<rect x="452.5" y="515" width="3.5" height="1.8" fill="#fff" />
<rect x="460.5" y="515" width="3.5" height="1.8" fill="#fff" />
<rect x="468.5" y="515" width="3.5" height="1.8" fill="#fff" />
<rect x="477" y="515" width="3.5" height="1.8" fill="#fff" />
<rect x="485" y="515" width="3.5" height="1.8" fill="#fff" />
<rect x="430" y="514.5" width="9.5" height="2.0" fill="#fff" />
<rect x="431" y="507.5" width="3" height="2.0" fill="#fff" />
<rect x="436" y="508" width="3" height="2" fill="#fff" />
<path d="M444.5,512.5 L448.5,512.5 M446.5,512.5 L446.5,518.5 M444.5,518.5 L448.5,518.5" stroke="#fff" stroke-width="1.2" fill="none" />
<path d="M406.1,574.8 L422.7,574.8 L422.7,525.5 L497.6,525.5 L497.6,574.8 L506.3,574.8" stroke="#fff" stroke-width="1.2" fill="none" />
<path d="M406.1,577.3 L425.8,577.3 L425.8,528.5 L494.1,528.5 L494.1,577.3 L506.3,577.3" stroke="#fff" stroke-width="1.2" fill="none" />
<line x1="406.5" y1="572.5" x2="406.5" y2="579.5" stroke="#fff" stroke-width="1.0" />
<path d="M404.6,576 L406.1,574.5 L407.6,576" stroke="#fff" stroke-width="1.0" fill="none" />
<line x1="506.5" y1="572.5" x2="506.5" y2="579.5" stroke="#fff" stroke-width="1.0" />
<path d="M504.8,576 L506.3,574.5 L507.8,576" stroke="#fff" stroke-width="1.0" fill="none" />
<rect x="445.5" y="548.5" width="30.0" height="28.0" stroke="#fff" stroke-width="1.2" fill="none" />
<rect x="457.5" y="554.3" width="5.3" height="1.5" fill="#fff" />
<rect x="450.6" y="557.3" width="19.1" height="1.3" fill="#fff" />
<rect x="447.5" y="563.5" width="25.0" height="11.0" stroke="#fff" stroke-width="1.0" fill="none" />
<line x1="447.9" y1="566.5" x2="472.3" y2="566.5" stroke="#fff" stroke-width="1.0" />
<path d="M475,567.3 Q478.5,567.3 478.5,570 Q478.5,572.6 475,572.6" stroke="#fff" stroke-width="1.0" fill="none" />
<line x1="459" y1="576" x2="461" y2="578.5" stroke="#fff" stroke-width="1.0" />
<line x1="466" y1="575.5" x2="470" y2="578" stroke="#fff" stroke-width="1.0" />
<rect x="445.5" y="576.5" width="30.0" height="21.0" stroke="#fff" stroke-width="1.2" fill="none" />
<rect x="447.5" y="578.5" width="26.0" height="17.0" stroke="#fff" stroke-width="1.0" fill="none" />
<line x1="461.5" y1="578.3" x2="461.5" y2="595.2" stroke="#fff" stroke-width="1.0" />
<rect x="451" y="590.5" width="3" height="1.5" fill="#fff" />
<rect x="465" y="590.5" width="3.5" height="1.5" fill="#fff" />
<line x1="454.5" y1="585" x2="454.5" y2="600" stroke="#fff" stroke-width="1.0" />
<line x1="426.2" y1="540.5" x2="475" y2="540.5" stroke="#fff" stroke-width="1.0" />
<line x1="426.5" y1="539" x2="426.5" y2="542.5" stroke="#fff" stroke-width="1.0" />
<line x1="445.5" y1="539" x2="445.5" y2="542.5" stroke="#fff" stroke-width="1.0" />
<line x1="475.5" y1="539" x2="475.5" y2="542.5" stroke="#fff" stroke-width="1.0" />
<rect x="433" y="539.5" width="5" height="1.2" fill="#fff" />
<rect x="458" y="539" width="4" height="1.7" fill="#fff" />
<line x1="454.5" y1="544.7" x2="454.5" y2="551.7" stroke="#fff" stroke-width="1.0" />
<line x1="451.5" y1="545.5" x2="454.4" y2="545.5" stroke="#fff" stroke-width="1.0" />
<line x1="484.5" y1="529" x2="484.5" y2="576.9" stroke="#fff" stroke-width="1.0" />
<line x1="480.5" y1="548.5" x2="487" y2="548.5" stroke="#fff" stroke-width="1.0" />
<line x1="480.5" y1="576.5" x2="487" y2="576.5" stroke="#fff" stroke-width="1.0" />
<rect x="484.5" y="536" width="1.5" height="2" fill="#fff" />
<rect x="484.5" y="563" width="1.5" height="2" fill="#fff" />
<rect x="489.5" y="530" width="2.5" height="17.3" fill="#fff" />
<rect x="489.5" y="532" width="2.5" height="0.8" fill="#000" />
<rect x="489.5" y="535" width="2.5" height="0.8" fill="#000" />
<rect x="489.5" y="538" width="2.5" height="0.8" fill="#000" />
<rect x="489.5" y="541" width="2.5" height="0.8" fill="#000" />
<rect x="489.5" y="544" width="2.5" height="0.8" fill="#000" />
<rect x="426" y="547" width="17" height="2" fill="#fff" />
<rect x="444" y="547" width="0" height="2" fill="#fff" />
<rect x="410" y="586" width="10" height="2" fill="#fff" />
<rect x="421" y="586" width="3" height="2" fill="#fff" />
<line x1="477.6" y1="593.5" x2="485.4" y2="593.5" stroke="#fff" stroke-width="1.0" />
<path d="M483.5,591 L486,593 L483.5,595 Z" stroke="#fff" stroke-width="1.0" fill="#fff" />
<rect x="436" y="593.8" width="1.5" height="1.5" fill="#fff" />
<path d="M435,599.8 L436.5,596.5 L440,599.8 Z" stroke="#fff" stroke-width="1.0" fill="#fff" />
<line x1="440" y1="600.5" x2="443" y2="600.5" stroke="#fff" stroke-width="1.0" />
<path d="M448,598.5 L448,603 M449,600 L452.3,600 M451,598.5 L451,603" stroke="#fff" stroke-width="1.0" fill="none" />
<rect x="458" y="600" width="11" height="1" fill="#fff" />
<rect x="493" y="607" width="17" height="2" fill="#fff" />
<rect x="511" y="607" width="16" height="2" fill="#fff" />
<rect x="528" y="607" width="14" height="2" fill="#fff" />
<rect x="543" y="607" width="14" height="2" fill="#fff" />
<rect x="558" y="607" width="15" height="2" fill="#fff" />
<rect x="574" y="607" width="3" height="2" fill="#fff" />
<rect x="509" y="611" width="17" height="2" fill="#fff" />
<rect x="528" y="611" width="15" height="2" fill="#fff" />
<rect x="544" y="611" width="12" height="2" fill="#fff" />
<rect x="557" y="611" width="4" height="2" fill="#fff" />
<path d="M534.3,580.6 L534.3,519 Q534.3,517.1 536.5,517.1 L562.7,517.1 Q564.9,517.1 564.9,519 L564.9,580.6 Z" stroke="#fff" stroke-width="1.2" fill="none" />
<line x1="534.3" y1="520.5" x2="564.9" y2="520.5" stroke="#fff" stroke-width="1.0" />
<rect x="535.5" y="522.5" width="15.0" height="7.0" stroke="#fff" stroke-width="1.0" fill="none" />
<rect x="538" y="524.5" width="10" height="1.0" fill="#fff" />
<rect x="552.5" y="522.5" width="11.0" height="15.0" stroke="#fff" stroke-width="1.0" fill="none" />
<line x1="553" y1="534" x2="562" y2="526" stroke="#fff" stroke-width="1.0" />
<line x1="555" y1="536.5" x2="563" y2="530" stroke="#fff" stroke-width="1.0" />
<line x1="557.5" y1="523" x2="557.5" y2="530" stroke="#fff" stroke-width="1.0" />
<line x1="536.5" y1="530" x2="536.5" y2="568" stroke="#fff" stroke-width="1.0" />
<line x1="537.5" y1="530" x2="537.5" y2="568" stroke="#fff" stroke-width="1.0" />
<line x1="542.5" y1="530" x2="542.5" y2="568" stroke="#fff" stroke-width="1.0" />
<line x1="548.5" y1="530" x2="548.5" y2="568" stroke="#fff" stroke-width="1.0" />
<line x1="550.5" y1="530" x2="550.5" y2="568" stroke="#fff" stroke-width="1.0" />
<line x1="556.5" y1="530" x2="556.5" y2="568" stroke="#fff" stroke-width="1.0" />
<line x1="557.5" y1="530" x2="557.5" y2="568" stroke="#fff" stroke-width="1.0" />
<line x1="562.5" y1="530" x2="562.5" y2="568" stroke="#fff" stroke-width="1.0" />
<line x1="539" y1="530" x2="537.5" y2="534" stroke="#fff" stroke-width="1.0" />
<line x1="545" y1="530" x2="542.8" y2="535" stroke="#fff" stroke-width="1.0" />
<line x1="549" y1="530" x2="547.5" y2="535" stroke="#fff" stroke-width="1.0" />
<rect x="534.3" y="548.5" width="30.6" height="1.4" fill="#fff" />
<rect x="535" y="551" width="1" height="1" fill="#fff" />
<rect x="563.5" y="551" width="1.0" height="1" fill="#fff" />
<rect x="535" y="554" width="1" height="1" fill="#fff" />
<rect x="563.5" y="554" width="1.0" height="1" fill="#fff" />
<rect x="535" y="557" width="1" height="1" fill="#fff" />
<rect x="563.5" y="557" width="1.0" height="1" fill="#fff" />
<rect x="535" y="560" width="1" height="1" fill="#fff" />
<rect x="563.5" y="560" width="1.0" height="1" fill="#fff" />
<rect x="535" y="563" width="1" height="1" fill="#fff" />
<rect x="563.5" y="563" width="1.0" height="1" fill="#fff" />
<rect x="535" y="566" width="1" height="1" fill="#fff" />
<rect x="563.5" y="566" width="1.0" height="1" fill="#fff" />
<line x1="542.8" y1="560" x2="548.5" y2="549.9" stroke="#fff" stroke-width="1.0" />
<line x1="544" y1="568" x2="550" y2="556" stroke="#fff" stroke-width="1.0" />
<rect x="552.5" y="555.5" width="8.0" height="5.0" stroke="#fff" stroke-width="1.0" fill="none" />
<rect x="552.5" y="562.5" width="8.0" height="4.0" stroke="#fff" stroke-width="1.0" fill="none" />
<line x1="534.3" y1="568.5" x2="564.9" y2="568.5" stroke="#fff" stroke-width="1.0" />
<rect x="541.5" y="569.5" width="20.0" height="10.0" stroke="#fff" stroke-width="1.0" fill="none" />
<rect x="553" y="573" width="4" height="2.5" fill="#fff" />
<line x1="543" y1="571" x2="547" y2="573.5" stroke="#fff" stroke-width="1.0" />
<rect x="537.5" y="579.5" width="10.0" height="12.0" stroke="#fff" stroke-width="1.0" fill="none" />
<line x1="539.5" y1="581" x2="539.5" y2="590" stroke="#fff" stroke-width="1.0" />
<line x1="545.5" y1="581" x2="545.5" y2="590" stroke="#fff" stroke-width="1.0" />
<rect x="540" y="585" width="4" height="2" fill="#fff" />
<line x1="548" y1="583.5" x2="560" y2="583.5" stroke="#fff" stroke-width="1.0" />
<rect x="535" y="594.1" width="16.4" height="2.2" fill="#fff" />
<rect x="524" y="526" width="10" height="2" fill="#fff" />
<line x1="534.3" y1="527.5" x2="536.3" y2="527.5" stroke="#fff" stroke-width="1.0" />
<rect x="524" y="531" width="10" height="2" fill="#fff" />
<line x1="534" y1="532.5" x2="536" y2="532.5" stroke="#fff" stroke-width="1.0" />
<rect x="524" y="536" width="9" height="2" fill="#fff" />
<line x1="533.5" y1="537.5" x2="535.5" y2="537.5" stroke="#fff" stroke-width="1.0" />
<rect x="524" y="543" width="8" height="2" fill="#fff" />
<line x1="533.8" y1="543.5" x2="535.8" y2="543.5" stroke="#fff" stroke-width="1.0" />
<rect x="524" y="552" width="8" height="2" fill="#fff" />
<line x1="533" y1="552.5" x2="535" y2="552.5" stroke="#fff" stroke-width="1.0" />
<rect x="524" y="556" width="9" height="2" fill="#fff" />
<line x1="533.8" y1="557.5" x2="535.8" y2="557.5" stroke="#fff" stroke-width="1.0" />
<rect x="524" y="570" width="8" height="2" fill="#fff" />
<line x1="533" y1="571.5" x2="535" y2="571.5" stroke="#fff" stroke-width="1.0" />
<rect x="524" y="580" width="8" height="2" fill="#fff" />
<line x1="533.5" y1="580.5" x2="535.5" y2="580.5" stroke="#fff" stroke-width="1.0" />
<rect x="566" y="519" width="12" height="2" fill="#fff" />
<rect x="566" y="523" width="9" height="2" fill="#fff" />
<rect x="576" y="523" width="1" height="2" fill="#fff" />
<rect x="566" y="528" width="9" height="2" fill="#fff" />
<rect x="576" y="528" width="2" height="2" fill="#fff" />
<rect x="566" y="535" width="7" height="2" fill="#fff" />
<rect x="575" y="535" width="5" height="2" fill="#fff" />
<rect x="566" y="542" width="10" height="2" fill="#fff" />
<rect x="566" y="545" width="12" height="2" fill="#fff" />
<rect x="566" y="550" width="12" height="2" fill="#fff" />
<rect x="566" y="555" width="7" height="2" fill="#fff" />
<rect x="574" y="555" width="5" height="2" fill="#fff" />
<rect x="566" y="558" width="10" height="2" fill="#fff" />
<rect x="566" y="568" width="9" height="2" fill="#fff" />
<rect x="566" y="582" width="8" height="2" fill="#fff" />
<line x1="564.9" y1="536.5" x2="566" y2="536.5" stroke="#fff" stroke-width="1.0" />
<rect x="582.5" y="552.5" width="3.0" height="27.0" stroke="#fff" stroke-width="1.0" fill="none" />
<rect x="583.4" y="554" width="1.6" height="1.2" fill="#fff" />
<rect x="583.4" y="557" width="1.6" height="1.2" fill="#fff" />
<rect x="583.4" y="560" width="1.6" height="1.2" fill="#fff" />
<rect x="583.4" y="563" width="1.6" height="1.2" fill="#fff" />
<rect x="583.4" y="566" width="1.6" height="1.2" fill="#fff" />
<rect x="583.4" y="569" width="1.6" height="1.2" fill="#fff" />
<rect x="583.4" y="572" width="1.6" height="1.2" fill="#fff" />
<rect x="583.4" y="575" width="1.6" height="1.2" fill="#fff" />
<rect x="583.4" y="578" width="1.6" height="1.2" fill="#fff" />
<path d="M629.7,550.4 L629.7,517.5 Q629.7,515.4 634,515.4 Q638.5,515.4 638.5,517.5 L638.5,550.4" stroke="#fff" stroke-width="1.2" fill="none" />
<line x1="631.5" y1="518" x2="631.5" y2="550" stroke="#fff" stroke-width="1.0" />
<line x1="636.5" y1="518" x2="636.5" y2="550" stroke="#fff" stroke-width="1.0" />
<line x1="637.5" y1="520" x2="637.5" y2="545" stroke="#fff" stroke-width="1.0" />
<rect x="638.5" y="520.5" width="18.0" height="24.0" stroke="#fff" stroke-width="1.0" fill="none" />
<rect x="636.5" y="528.5" width="5.0" height="10.0" stroke="#fff" stroke-width="1.0" fill="none" />
<rect x="634.5" y="531" width="3.0" height="2.5" fill="#fff" />
<rect x="627.5" y="545.5" width="31.0" height="9.0" stroke="#fff" stroke-width="1.0" fill="none" />
<path d="M639,546h1v1h-1zM641,546h1v1h-1zM642,546h1v1h-1zM643,546h1v1h-1zM645,546h1v1h-1zM647,546h1v1h-1zM649,546h1v1h-1zM650,546h1v1h-1zM654,546h1v1h-1zM657,546h1v1h-1zM642,547h1v1h-1zM644,547h1v1h-1zM647,547h1v1h-1zM650,547h1v1h-1zM652,547h1v1h-1zM655,547h1v1h-1zM657,547h1v1h-1zM639,548h1v1h-1zM640,548h1v1h-1zM641,548h1v1h-1zM642,548h1v1h-1zM643,548h1v1h-1zM645,548h1v1h-1zM646,548h1v1h-1zM647,548h1v1h-1zM649,548h1v1h-1zM654,548h1v1h-1zM656,548h1v1h-1zM657,548h1v1h-1zM642,549h1v1h-1zM643,549h1v1h-1zM644,549h1v1h-1zM645,549h1v1h-1zM647,549h1v1h-1zM648,549h1v1h-1zM652,549h1v1h-1zM656,549h1v1h-1z" fill="#fff"/>
<path d="M631,546h1v1h-1zM632,546h1v1h-1zM628,547h1v1h-1zM629,547h1v1h-1zM632,547h1v1h-1zM629,548h1v1h-1zM631,548h1v1h-1zM632,548h1v1h-1zM628,549h1v1h-1zM629,550h1v1h-1zM631,550h1v1h-1zM629,551h1v1h-1zM632,551h1v1h-1zM629,552h1v1h-1zM630,552h1v1h-1zM631,552h1v1h-1zM632,552h1v1h-1zM629,553h1v1h-1zM631,553h1v1h-1zM632,553h1v1h-1z" fill="#fff"/>
<line x1="593.4" y1="550.5" x2="627.7" y2="550.5" stroke="#fff" stroke-width="1.0" />
<line x1="593.5" y1="550.4" x2="593.5" y2="555.1" stroke="#fff" stroke-width="1.0" />
<line x1="593.4" y1="555.5" x2="604.1" y2="555.5" stroke="#fff" stroke-width="1.0" />
<rect x="595" y="552" width="8" height="2" fill="#fff" />
<rect x="604.5" y="550.5" width="4.0" height="30.0" stroke="#fff" stroke-width="1.0" fill="none" />
<path d="M604,552h1v1h-1zM605,552h1v1h-1zM607,552h1v1h-1zM604,553h1v1h-1zM606,553h1v1h-1zM604,554h1v1h-1zM606,554h1v1h-1zM607,554h1v1h-1zM605,555h1v1h-1zM606,555h1v1h-1zM607,555h1v1h-1zM604,556h1v1h-1zM604,557h1v1h-1zM606,557h1v1h-1zM607,557h1v1h-1zM604,558h1v1h-1zM605,558h1v1h-1zM606,558h1v1h-1zM605,559h1v1h-1zM607,559h1v1h-1zM604,560h1v1h-1zM606,560h1v1h-1zM605,561h1v1h-1zM606,561h1v1h-1zM604,562h1v1h-1zM605,562h1v1h-1zM606,562h1v1h-1zM606,563h1v1h-1zM607,563h1v1h-1zM605,564h1v1h-1zM606,564h1v1h-1zM607,564h1v1h-1zM605,565h1v1h-1zM606,565h1v1h-1zM607,565h1v1h-1zM604,566h1v1h-1zM605,566h1v1h-1zM606,566h1v1h-1zM607,566h1v1h-1zM607,567h1v1h-1zM604,568h1v1h-1zM605,568h1v1h-1zM604,569h1v1h-1zM606,569h1v1h-1zM607,569h1v1h-1zM604,570h1v1h-1zM605,570h1v1h-1zM606,570h1v1h-1zM607,570h1v1h-1zM604,571h1v1h-1zM604,572h1v1h-1zM606,572h1v1h-1zM607,573h1v1h-1zM604,574h1v1h-1zM605,574h1v1h-1zM606,574h1v1h-1zM604,575h1v1h-1zM605,575h1v1h-1zM607,575h1v1h-1zM604,576h1v1h-1zM605,576h1v1h-1zM606,576h1v1h-1zM607,577h1v1h-1zM604,578h1v1h-1z" fill="#fff"/>
<rect x="593.5" y="579.5" width="28.0" height="11.0" stroke="#fff" stroke-width="1.0" fill="none" />
<path d="M594,580h1v1h-1zM597,580h1v1h-1zM598,580h1v1h-1zM601,580h1v1h-1zM610,580h1v1h-1zM612,580h1v1h-1zM613,580h1v1h-1zM614,580h1v1h-1zM620,580h1v1h-1zM598,581h1v1h-1zM600,581h1v1h-1zM603,581h1v1h-1zM606,581h1v1h-1zM608,581h1v1h-1zM610,581h1v1h-1zM613,581h1v1h-1zM614,581h1v1h-1zM619,581h1v1h-1zM595,582h1v1h-1zM601,582h1v1h-1zM606,582h1v1h-1zM614,582h1v1h-1zM617,582h1v1h-1zM618,582h1v1h-1zM594,583h1v1h-1zM605,583h1v1h-1zM608,583h1v1h-1zM616,583h1v1h-1zM595,584h1v1h-1zM597,584h1v1h-1zM598,584h1v1h-1zM601,584h1v1h-1zM602,584h1v1h-1zM604,584h1v1h-1zM605,584h1v1h-1zM610,584h1v1h-1zM612,584h1v1h-1zM616,584h1v1h-1zM595,585h1v1h-1zM597,585h1v1h-1zM599,585h1v1h-1zM605,585h1v1h-1zM609,585h1v1h-1zM614,585h1v1h-1zM616,585h1v1h-1zM618,585h1v1h-1zM595,586h1v1h-1zM597,586h1v1h-1zM601,586h1v1h-1zM603,586h1v1h-1zM607,586h1v1h-1zM613,586h1v1h-1zM615,586h1v1h-1zM616,586h1v1h-1zM620,586h1v1h-1zM594,587h1v1h-1zM595,587h1v1h-1zM597,587h1v1h-1zM601,587h1v1h-1zM603,587h1v1h-1zM607,587h1v1h-1zM608,587h1v1h-1zM612,587h1v1h-1zM614,587h1v1h-1zM617,587h1v1h-1zM602,588h1v1h-1zM605,588h1v1h-1zM606,588h1v1h-1zM610,588h1v1h-1zM616,588h1v1h-1zM617,588h1v1h-1zM596,589h1v1h-1zM597,589h1v1h-1zM599,589h1v1h-1zM600,589h1v1h-1zM601,589h1v1h-1zM605,589h1v1h-1zM615,589h1v1h-1zM616,589h1v1h-1z" fill="#fff"/>
<path d="M595,579 Q594,576.5 597.5,576" stroke="#fff" stroke-width="1.0" fill="none" />
<path d="M633.5,550.4 Q633,560 624,566 Q619,569.5 619,578" stroke="#fff" stroke-width="1.2" fill="none" />
<path d="M637,550.4 Q636.5,562 627,568.5 Q622.5,572 622.5,579" stroke="#fff" stroke-width="1.2" fill="none" />
<path d="M633,552h1v1h-1zM635,552h1v1h-1zM633,553h1v1h-1zM635,553h1v1h-1zM634,554h1v1h-1zM636,554h1v1h-1zM634,555h1v1h-1zM636,556h1v1h-1zM634,557h1v1h-1zM635,557h1v1h-1zM636,558h1v1h-1zM633,559h1v1h-1zM634,559h1v1h-1zM635,559h1v1h-1z" fill="#fff"/>
<path d="M626.4,580 L626.4,566.5 L639.8,566.5 L639.8,568.6 L629,568.6 L629,580" stroke="#fff" stroke-width="1.0" fill="none" />
<path d="M627,569h1v1h-1zM626,571h1v1h-1zM627,571h1v1h-1zM626,572h1v1h-1zM626,573h1v1h-1zM627,573h1v1h-1zM626,574h1v1h-1zM627,577h1v1h-1zM626,578h1v1h-1zM627,578h1v1h-1zM626,579h1v1h-1zM627,579h1v1h-1z" fill="#fff"/>
<line x1="629" y1="580.5" x2="638" y2="580.5" stroke="#fff" stroke-width="1.0" />
<line x1="637.8" y1="557.5" x2="657.3" y2="557.5" stroke="#fff" stroke-width="1.0" />
<line x1="637.8" y1="561.5" x2="657.3" y2="561.5" stroke="#fff" stroke-width="1.0" />
<line x1="637.8" y1="563.5" x2="657.3" y2="563.5" stroke="#fff" stroke-width="1.0" />
<path d="M655,556.5 L657.3,557.8 L655.5,559.5 L657.3,561 L655.5,562.5 L657.3,563.9" stroke="#fff" stroke-width="1.0" fill="none" />
<rect x="638" y="558.5" width="16" height="1.8" fill="#fff" />
<line x1="639.5" y1="554.4" x2="639.5" y2="566.5" stroke="#fff" stroke-width="1.0" />
<rect x="614" y="520" width="7" height="2" fill="#fff" />
<rect x="622" y="520" width="4" height="2" fill="#fff" />
<rect x="614" y="522" width="8" height="2" fill="#fff" />
<line x1="625.7" y1="521.5" x2="629.7" y2="521.5" stroke="#fff" stroke-width="1.0" />
<rect x="617" y="530" width="7" height="2" fill="#fff" />
<line x1="623.7" y1="530.5" x2="629.7" y2="530.5" stroke="#fff" stroke-width="1.0" />
<rect x="614" y="535" width="10" height="2" fill="#fff" />
<rect x="614" y="537" width="9" height="2" fill="#fff" />
<rect x="624" y="537" width="0" height="2" fill="#fff" />
<rect x="614" y="540" width="7" height="2" fill="#fff" />
<line x1="623.7" y1="536.5" x2="629.7" y2="536.5" stroke="#fff" stroke-width="1.0" />
<rect x="632" y="586" width="13" height="2" fill="#fff" />
<rect x="646" y="586" width="3" height="2" fill="#fff" />
<line x1="621.6" y1="579.5" x2="636" y2="579.5" stroke="#fff" stroke-width="1.0" />
<line x1="673.4" y1="516.5" x2="742" y2="516.5" stroke="#fff" stroke-width="1.0" />
<rect x="684.5" y="516.7" width="52.8" height="1.4" fill="#fff" />
<rect x="683.5" y="518.5" width="40.0" height="25.0" stroke="#fff" stroke-width="1.0" fill="none" />
<line x1="686.5" y1="518.1" x2="686.5" y2="543.7" stroke="#fff" stroke-width="1.0" />
<line x1="689.5" y1="518.1" x2="689.5" y2="543.7" stroke="#fff" stroke-width="1.0" />
<line x1="692.5" y1="518.1" x2="692.5" y2="543.7" stroke="#fff" stroke-width="1.0" />
<line x1="694.5" y1="518.1" x2="694.5" y2="543.7" stroke="#fff" stroke-width="1.0" />
<line x1="698.5" y1="518.1" x2="698.5" y2="543.7" stroke="#fff" stroke-width="1.0" />
<line x1="705.5" y1="518.1" x2="705.5" y2="543.7" stroke="#fff" stroke-width="1.0" />
<line x1="707.5" y1="518.1" x2="707.5" y2="543.7" stroke="#fff" stroke-width="1.0" />
<line x1="709.5" y1="518.1" x2="709.5" y2="543.7" stroke="#fff" stroke-width="1.0" />
<line x1="711.5" y1="518.1" x2="711.5" y2="543.7" stroke="#fff" stroke-width="1.0" />
<line x1="714.5" y1="518.1" x2="714.5" y2="543.7" stroke="#fff" stroke-width="1.0" />
<line x1="716.5" y1="518.1" x2="716.5" y2="543.7" stroke="#fff" stroke-width="1.0" />
<line x1="720.5" y1="518.1" x2="720.5" y2="543.7" stroke="#fff" stroke-width="1.0" />
<rect x="685" y="520.5" width="3" height="7.5" fill="#fff" />
<rect x="693" y="521" width="4" height="12" fill="#fff" />
<rect x="704.5" y="520" width="1.5" height="12" fill="#fff" />
<rect x="700" y="537" width="23" height="3.5" fill="#fff" />
<rect x="686" y="537" width="9" height="2" fill="#fff" />
<rect x="692.2" y="522.8" width="2.0" height="14.2" fill="#fff" />
<rect x="710" y="521" width="3" height="16" fill="#fff" />
<rect x="716" y="523" width="3" height="11" fill="#fff" />
<rect x="698" y="540" width="24" height="3.5" fill="#fff" />
<rect x="688" y="540.5" width="9" height="2.5" fill="#fff" />
<rect x="701" y="525" width="2.5" height="7" fill="#fff" />
<rect x="684" y="531" width="6" height="2" fill="#fff" />
<line x1="688.5" y1="518.1" x2="688.5" y2="543.7" stroke="#fff" stroke-width="1.0" />
<line x1="697.5" y1="518.1" x2="697.5" y2="543.7" stroke="#fff" stroke-width="1.0" />
<line x1="699.5" y1="518.1" x2="699.5" y2="543.7" stroke="#fff" stroke-width="1.0" />
<line x1="702.5" y1="518.1" x2="702.5" y2="543.7" stroke="#fff" stroke-width="1.0" />
<line x1="713.5" y1="518.1" x2="713.5" y2="543.7" stroke="#fff" stroke-width="1.0" />
<line x1="718.5" y1="518.1" x2="718.5" y2="543.7" stroke="#fff" stroke-width="1.0" />
<line x1="722.5" y1="518.1" x2="722.5" y2="543.7" stroke="#fff" stroke-width="1.0" />
<line x1="683.5" y1="522.5" x2="723.9" y2="522.5" stroke="#fff" stroke-width="1.0" />
<line x1="683.5" y1="526.5" x2="723.9" y2="526.5" stroke="#fff" stroke-width="1.0" />
<line x1="683.5" y1="537.5" x2="723.9" y2="537.5" stroke="#fff" stroke-width="1.0" />
<line x1="683.5" y1="530.5" x2="723.9" y2="530.5" stroke="#fff" stroke-width="1.0" />
<line x1="683.5" y1="534.5" x2="723.9" y2="534.5" stroke="#fff" stroke-width="1.0" />
<rect x="675" y="541" width="10" height="2" fill="#fff" />
<rect x="684.5" y="545.5" width="36.0" height="35.0" stroke="#fff" stroke-width="1.0" fill="none" />
<line x1="686.5" y1="546.5" x2="686.5" y2="579" stroke="#fff" stroke-width="1.0" />
<rect x="693" y="551" width="5" height="1" fill="#fff" />
<line x1="705.5" y1="543.7" x2="705.5" y2="568.6" stroke="#fff" stroke-width="1.0" />
<line x1="707.5" y1="543.7" x2="707.5" y2="568.6" stroke="#fff" stroke-width="1.0" />
<line x1="709.5" y1="543.7" x2="709.5" y2="568.6" stroke="#fff" stroke-width="1.0" />
<line x1="711.5" y1="543.7" x2="711.5" y2="568.6" stroke="#fff" stroke-width="1.0" />
<line x1="714.5" y1="543.7" x2="714.5" y2="568.6" stroke="#fff" stroke-width="1.0" />
<line x1="716.5" y1="543.7" x2="716.5" y2="568.6" stroke="#fff" stroke-width="1.0" />
<rect x="701.5" y="568.5" width="21.0" height="11.0" stroke="#fff" stroke-width="1.0" fill="none" />
<rect x="703" y="570.5" width="3" height="5.0" fill="#fff" />
<rect x="687.5" y="563.5" width="13.0" height="17.0" stroke="#fff" stroke-width="1.0" fill="none" />
<rect x="688.5" y="564" width="8.5" height="1.5" fill="#fff" />
<rect x="689.5" y="570.5" width="10.0" height="6.0" stroke="#fff" stroke-width="1.0" fill="none" />
<rect x="690.5" y="571.5" width="3.0" height="3.0" fill="#fff" />
<line x1="677.4" y1="576.5" x2="682.8" y2="576.5" stroke="#fff" stroke-width="1.0" />
<path d="M679,575 L677.2,576 L679,577" stroke="#fff" stroke-width="1.0" fill="none" />
<line x1="692.5" y1="580" x2="692.5" y2="585" stroke="#fff" stroke-width="1.0" />
<rect x="688" y="586" width="6" height="2" fill="#fff" />
<rect x="725" y="521" width="10" height="2" fill="#fff" />
<rect x="736" y="521" width="3" height="2" fill="#fff" />
<rect x="725" y="530" width="8" height="2" fill="#fff" />
<rect x="725" y="536" width="9" height="2" fill="#fff" />
<rect x="725" y="538" width="6" height="2" fill="#fff" />
<rect x="725" y="541" width="10" height="2" fill="#fff" />
<rect x="736" y="541" width="0" height="2" fill="#fff" />
<rect x="725" y="543" width="8" height="2" fill="#fff" />
<rect x="725" y="545" width="6" height="2" fill="#fff" />
<line x1="723.9" y1="530.5" x2="725" y2="530.5" stroke="#fff" stroke-width="1.0" />
<rect x="725" y="562" width="7" height="2" fill="#fff" />
<rect x="733" y="562" width="4" height="2" fill="#fff" />
<line x1="720.5" y1="562.5" x2="725" y2="562.5" stroke="#fff" stroke-width="1.0" />
<rect x="700" y="580" width="12" height="2" fill="#fff" />
<rect x="713" y="580" width="17" height="2" fill="#fff" />
<rect x="731" y="580" width="7" height="2" fill="#fff" />
<rect x="700" y="582" width="15" height="2" fill="#fff" />
<rect x="716" y="582" width="8" height="2" fill="#fff" />
<rect x="725" y="582" width="12" height="2" fill="#fff" />
<rect x="738" y="582" width="1" height="2" fill="#fff" />
<rect x="700" y="585" width="14" height="2" fill="#fff" />
<rect x="715" y="585" width="12" height="2" fill="#fff" />
<rect x="728" y="585" width="8" height="2" fill="#fff" />
<line x1="722.5" y1="576.5" x2="727" y2="576.5" stroke="#fff" stroke-width="1.0" />
<line x1="750.5" y1="536.9" x2="750.5" y2="557.5" stroke="#fff" stroke-width="1.0" />
<line x1="752.5" y1="536.9" x2="752.5" y2="557.5" stroke="#fff" stroke-width="1.0" />
<rect x="753.7" y="536.9" width="42.8" height="21.0" fill="#fff" />
<path d="M756.1,536.9 L756.1,534.9 L776,534.9 L779.1,536.9 Z" stroke="#fff" stroke-width="1.0" fill="#fff" />
<rect x="768" y="532.1" width="8.7" height="1.3" fill="#fff" />
<line x1="776.7" y1="533" x2="780" y2="536.9" stroke="#fff" stroke-width="1.0" />
<rect x="754.5" y="538.1" width="8.3" height="3.9" fill="#000" />
<line x1="755.5" y1="540.5" x2="761.5" y2="540.5" stroke="#fff" stroke-width="1.0" />
<rect x="754.1" y="545.2" width="28.1" height="2.8" fill="#000" />
<rect x="790.2" y="538.1" width="4.7" height="4.7" fill="#000" />
<rect x="761" y="551" width="1" height="1" fill="#000" />
<rect x="764" y="551" width="1" height="1" fill="#000" />
<rect x="776" y="551" width="1" height="1" fill="#000" />
<rect x="779" y="551" width="1" height="1" fill="#000" />
<rect x="786" y="551" width="1" height="1" fill="#000" />
<rect x="789" y="553" width="1" height="1" fill="#000" />
<rect x="761" y="554" width="1" height="1" fill="#000" />
<rect x="776" y="554" width="1" height="1" fill="#000" />
<rect x="785" y="546" width="1" height="1" fill="#000" />
<rect x="793" y="549" width="1" height="1" fill="#000" />
<path d="M795.7,544.8 L805.2,558.3 L820.3,558.3 L820.3,555.1 L806,555.1 L796.5,541.5 Z" stroke="#fff" stroke-width="1.0" fill="#fff" />
<line x1="799.7" y1="540.5" x2="818.7" y2="540.5" stroke="#fff" stroke-width="1.0" />
<line x1="799.7" y1="541.5" x2="818.7" y2="541.5" stroke="#fff" stroke-width="1.0" />
<line x1="808.5" y1="543" x2="808.5" y2="551" stroke="#fff" stroke-width="1.0" />
<path d="M819.5,536.9 L821.5,536.9 L821.5,560.7 L819.5,560.7" stroke="#fff" stroke-width="1.0" fill="none" />
<line x1="819.5" y1="548.5" x2="821.5" y2="548.5" stroke="#fff" stroke-width="1.0" />
<rect x="796" y="533" width="16" height="2" fill="#fff" />
<rect x="789" y="532.5" width="4" height="2.5" fill="#fff" />
<rect x="801" y="556" width="1" height="1" fill="#000" />
<rect x="804" y="556" width="1" height="1" fill="#000" />
<rect x="807" y="556" width="1" height="1" fill="#000" />
<rect x="810" y="556" width="1" height="1" fill="#000" />
<rect x="813" y="556" width="1" height="1" fill="#000" />
<rect x="816" y="556" width="1" height="1" fill="#000" />
<rect x="819" y="556" width="1" height="1" fill="#000" />
<rect x="755" y="560" width="9" height="2" fill="#fff" />
<rect x="765" y="560" width="4" height="2" fill="#fff" />
<rect x="777" y="560" width="11" height="3" fill="#fff" />
<rect x="789" y="560" width="6" height="3" fill="#fff" />
<line x1="796.5" y1="558" x2="796.5" y2="563.5" stroke="#fff" stroke-width="1.0" />
<line x1="798.5" y1="557" x2="798.5" y2="563" stroke="#fff" stroke-width="1.0" />
<rect x="802" y="562" width="10" height="2" fill="#fff" />
<rect x="813" y="562" width="3" height="2" fill="#fff" />
<text x="752.1" y="570.2" font-size="5.4" fill="#fff" font-weight="bold" text-anchor="start" textLength="27" lengthAdjust="spacingAndGlyphs" >© Sección Típica</text>
<rect x="752.1" y="570.3" width="31.7" height="0.9" fill="#fff" />
<rect x="2.0" y="28.0" width="190.0" height="373.0" stroke="#fff" stroke-width="2" fill="none" />
<rect x="216.0" y="35.0" width="145.0" height="149.0" stroke="#fff" stroke-width="2" fill="none" />
<rect x="389.0" y="38.0" width="126.0" height="168.0" stroke="#fff" stroke-width="2" fill="none" />
<rect x="531.0" y="36.0" width="116.0" height="120.0" stroke="#fff" stroke-width="2" fill="none" />
<rect x="664.0" y="37.0" width="134.0" height="94.0" stroke="#fff" stroke-width="2" fill="none" />
<rect x="809.5" y="35.5" width="179.0" height="224.0" stroke="#fff" stroke-width="1.0" fill="none" />
<rect x="810.5" y="38.5" width="177.0" height="203.0" stroke="#fff" stroke-width="1.0" fill="none" />
<line x1="810" y1="243.5" x2="988" y2="243.5" stroke="#fff" stroke-width="1.2" />
<rect x="811.5" y="246.5" width="176.0" height="11.0" stroke="#fff" stroke-width="1.4" fill="none" />
<rect x="809.0" y="265.0" width="182.0" height="116.0" stroke="#fff" stroke-width="1.6" fill="none" />
<rect x="810.5" y="267.5" width="179.0" height="12.0" stroke="#fff" stroke-width="1.4" fill="none" />
<rect x="810.5" y="281.5" width="179.0" height="98.0" stroke="#fff" stroke-width="1.4" fill="none" />
<rect x="1001.0" y="34.0" width="117.0" height="184.0" stroke="#fff" stroke-width="2" fill="none" />
<rect x="1014.0" y="254.0" width="106.0" height="124.0" stroke="#fff" stroke-width="2" fill="none" />
<line x1="1122.5" y1="253" x2="1122.5" y2="378" stroke="#fff" stroke-width="1.4" />
<rect x="614.5" y="178.5" width="179.0" height="205.0" stroke="#fff" stroke-width="1.0" fill="none" />
<line x1="614.5" y1="358.5" x2="793.5" y2="358.5" stroke="#fff" stroke-width="1.0" />
<rect x="470.5" y="277.5" width="131.0" height="152.0" stroke="#fff" stroke-width="1.2" fill="none" />
<rect x="398.0" y="487.0" width="434.0" height="142.0" stroke="#fff" stroke-width="2" fill="none" />
<text x="84.2" y="9.2" font-size="8.2" fill="#0a0aff" font-weight="bold" text-anchor="start" textLength="31.8" lengthAdjust="spacingAndGlyphs" filter="url(#tblur)" stroke="#0a0aff" stroke-width="0.25">Detalle H:</text>
<text x="36.2" y="17.1" font-size="8.2" fill="#0a0aff" font-weight="bold" text-anchor="start" textLength="126.2" lengthAdjust="spacingAndGlyphs" filter="url(#tblur)" stroke="#0a0aff" stroke-width="0.25">Poste tipo Deportivo de 12 m de Altura</text>
<text x="268" y="14.8" font-size="8.2" fill="#0a0aff" font-weight="bold" text-anchor="start" textLength="32.9" lengthAdjust="spacingAndGlyphs" filter="url(#tblur)" stroke="#0a0aff" stroke-width="0.25">Detalle G:</text>
<text x="253.2" y="23.8" font-size="8.2" fill="#0a0aff" font-weight="bold" text-anchor="start" textLength="63.3" lengthAdjust="spacingAndGlyphs" filter="url(#tblur)" stroke="#0a0aff" stroke-width="0.25">Montaje Horizontal</text>
<text x="436.8" y="11.8" font-size="8.2" fill="#0a0aff" font-weight="bold" text-anchor="start" textLength="31.4" lengthAdjust="spacingAndGlyphs" filter="url(#tblur)" stroke="#0a0aff" stroke-width="0.25">Detalle A:</text>
<text x="425.3" y="20.7" font-size="8.2" fill="#0a0aff" font-weight="bold" text-anchor="start" textLength="54.3" lengthAdjust="spacingAndGlyphs" filter="url(#tblur)" stroke="#0a0aff" stroke-width="0.25">Doble Terna con</text>
<text x="418.3" y="29.6" font-size="8.2" fill="#0a0aff" font-weight="bold" text-anchor="start" textLength="68.3" lengthAdjust="spacingAndGlyphs" filter="url(#tblur)" stroke="#0a0aff" stroke-width="0.25">Linea Primaria Unica</text>
<text x="578.8" y="17.5" font-size="8.2" fill="#0a0aff" font-weight="bold" text-anchor="start" textLength="31.3" lengthAdjust="spacingAndGlyphs" filter="url(#tblur)" stroke="#0a0aff" stroke-width="0.25">Detalle F:</text>
<text x="528.5" y="25.6" font-size="8.2" fill="#0a0aff" font-weight="bold" text-anchor="start" textLength="123.8" lengthAdjust="spacingAndGlyphs" filter="url(#tblur)" stroke="#0a0aff" stroke-width="0.25">Reflector Tipo MVF026 Philips 1000W</text>
<text x="713.9" y="9.7" font-size="8.2" fill="#0a0aff" font-weight="bold" text-anchor="start" textLength="31.7" lengthAdjust="spacingAndGlyphs" filter="url(#tblur)" stroke="#0a0aff" stroke-width="0.25">Detalle E:</text>
<text x="696.4" y="18.9" font-size="8.2" fill="#0a0aff" font-weight="bold" text-anchor="start" textLength="66.6" lengthAdjust="spacingAndGlyphs" filter="url(#tblur)" stroke="#0a0aff" stroke-width="0.25">Entrada de Acometida</text>
<text x="700.3" y="27.8" font-size="8.2" fill="#0a0aff" font-weight="bold" text-anchor="start" textLength="58.8" lengthAdjust="spacingAndGlyphs" filter="url(#tblur)" stroke="#0a0aff" stroke-width="0.25">al Tablero TP-440</text>
<text x="881.7" y="11.7" font-size="8.2" fill="#0a0aff" font-weight="bold" text-anchor="start" textLength="33.1" lengthAdjust="spacingAndGlyphs" filter="url(#tblur)" stroke="#0a0aff" stroke-width="0.25">Detalle C:</text>
<text x="852.2" y="20.1" font-size="8.2" fill="#0a0aff" font-weight="bold" text-anchor="start" textLength="90.6" lengthAdjust="spacingAndGlyphs" filter="url(#tblur)" stroke="#0a0aff" stroke-width="0.25">Poste de Transición Aereo -</text>
<text x="835" y="29.1" font-size="8.2" fill="#0a0aff" font-weight="bold" text-anchor="start" textLength="125.3" lengthAdjust="spacingAndGlyphs" filter="url(#tblur)" stroke="#0a0aff" stroke-width="0.25">Subterráneo con Linea Primaria Unica</text>
<text x="1042" y="21.9" font-size="8.2" fill="#0a0aff" font-weight="bold" text-anchor="start" textLength="31.2" lengthAdjust="spacingAndGlyphs" filter="url(#tblur)" stroke="#0a0aff" stroke-width="0.25">Detalle K:</text>
<text x="1022" y="30.8" font-size="8.2" fill="#0a0aff" font-weight="bold" text-anchor="start" textLength="71.3" lengthAdjust="spacingAndGlyphs" filter="url(#tblur)" stroke="#0a0aff" stroke-width="0.25">Dimensiones Casetas</text>
<text x="1050" y="238.7" font-size="8.2" fill="#0a0aff" font-weight="bold" text-anchor="start" textLength="29.3" lengthAdjust="spacingAndGlyphs" filter="url(#tblur)" stroke="#0a0aff" stroke-width="0.25">Detalle I:</text>
<text x="1045" y="247.4" font-size="8.2" fill="#0a0aff" font-weight="bold" text-anchor="start" textLength="40.2" lengthAdjust="spacingAndGlyphs" filter="url(#tblur)" stroke="#0a0aff" stroke-width="0.25">Sótano S-11</text>
<text x="690" y="150.8" font-size="8.2" fill="#0a0aff" font-weight="bold" text-anchor="start" textLength="32.2" lengthAdjust="spacingAndGlyphs" filter="url(#tblur)" stroke="#0a0aff" stroke-width="0.25">Detalle B:</text>
<text x="657.2" y="159.6" font-size="8.2" fill="#0a0aff" font-weight="bold" text-anchor="start" textLength="97.3" lengthAdjust="spacingAndGlyphs" filter="url(#tblur)" stroke="#0a0aff" stroke-width="0.25">Bajante y Base para Poste de</text>
<text x="655.6" y="168.7" font-size="8.2" fill="#0a0aff" font-weight="bold" text-anchor="start" textLength="101.4" lengthAdjust="spacingAndGlyphs" filter="url(#tblur)" stroke="#0a0aff" stroke-width="0.25">Transición Aereo - Subterraneo</text>
<text x="521" y="261.8" font-size="8.2" fill="#0a0aff" font-weight="bold" text-anchor="start" textLength="30.9" lengthAdjust="spacingAndGlyphs" filter="url(#tblur)" stroke="#0a0aff" stroke-width="0.25">Detalle J:</text>
<text x="493.4" y="270.8" font-size="8.2" fill="#0a0aff" font-weight="bold" text-anchor="start" textLength="86.5" lengthAdjust="spacingAndGlyphs" filter="url(#tblur)" stroke="#0a0aff" stroke-width="0.25">Dimensiones Generadores</text>
<text x="589.9" y="462.8" font-size="8.2" fill="#0a0aff" font-weight="bold" text-anchor="start" textLength="32.9" lengthAdjust="spacingAndGlyphs" filter="url(#tblur)" stroke="#0a0aff" stroke-width="0.25">Detalle D:</text>
<text x="542.7" y="471.7" font-size="8.2" fill="#0a0aff" font-weight="bold" text-anchor="start" textLength="125.9" lengthAdjust="spacingAndGlyphs" filter="url(#tblur)" stroke="#0a0aff" stroke-width="0.25">Base para transformador tipo Pedestal</text>
<text x="567.9" y="480.7" font-size="8.2" fill="#0a0aff" font-weight="bold" text-anchor="start" textLength="74.9" lengthAdjust="spacingAndGlyphs" filter="url(#tblur)" stroke="#0a0aff" stroke-width="0.25">con Sistema de salvada</text></svg>
</body></html>
